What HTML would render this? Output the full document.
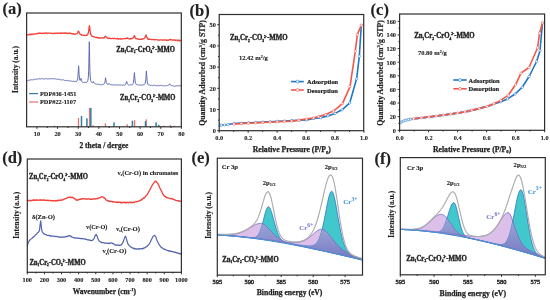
<!DOCTYPE html>
<html><head><meta charset="utf-8"><style>
html,body{margin:0;padding:0;background:#fff;}
body{width:550px;height:300px;overflow:hidden;}
svg{display:block;will-change:transform;filter:blur(0.6px);}
</style></head><body>
<svg width="550" height="300" viewBox="0 0 550 300" xmlns="http://www.w3.org/2000/svg">
<rect width="550" height="300" fill="#fff"/>
<text x="2.50" y="13.60" font-family='"Liberation Serif", serif' font-size="16.5" font-weight="bold" fill="#222" stroke="#222" stroke-width="0.12" text-anchor="start" style=""><tspan dy="-0.00" font-size="16.5">(a)</tspan></text>
<polyline points="27.10,34.80 27.60,34.94 28.10,34.75 28.60,34.85 29.10,34.79 29.60,34.33 30.10,34.23 30.60,34.73 31.10,34.26 31.60,34.17 32.10,34.64 32.60,34.20 33.10,34.39 33.60,34.07 34.10,34.11 34.60,33.70 35.10,33.97 35.60,34.06 36.10,33.75 36.60,33.83 37.10,33.72 37.60,33.22 38.10,33.64 38.60,33.45 39.10,33.18 39.60,32.92 40.10,33.45 40.60,33.18 41.10,33.35 41.60,33.46 42.10,33.34 42.60,33.49 43.10,33.12 43.60,33.40 44.10,33.15 44.60,33.50 45.10,33.46 45.60,32.91 46.10,32.94 46.60,32.99 47.10,33.52 47.60,33.15 48.10,33.28 48.60,33.05 49.10,33.20 49.60,33.11 50.10,33.09 50.60,33.25 51.10,33.25 51.60,33.47 52.10,33.32 52.60,33.49 53.10,33.44 53.60,33.53 54.10,33.31 54.60,32.95 55.10,33.44 55.60,33.51 56.10,33.47 56.60,33.23 57.10,33.34 57.60,32.98 58.10,33.42 58.60,33.24 59.10,33.03 59.60,32.88 60.10,33.43 60.60,33.52 61.10,32.89 61.60,33.39 62.10,33.12 62.60,32.93 63.10,33.03 63.60,33.36 64.10,33.43 64.60,32.85 65.10,33.25 65.60,32.85 66.10,33.32 66.60,33.05 67.10,33.43 67.60,33.50 68.10,33.18 68.60,33.60 69.10,33.19 69.60,33.10 70.10,33.54 70.60,33.21 71.10,33.40 71.60,33.61 72.10,33.82 72.60,33.57 73.10,33.55 73.60,34.18 74.10,33.84 74.60,34.33 75.10,34.31 75.60,33.93 76.10,33.93 76.60,33.82 77.10,33.57 77.60,32.82 78.10,31.60 78.50,31.07 78.60,31.36 79.10,32.25 79.60,33.37 80.10,34.26 80.60,34.32 81.10,34.61 81.60,35.26 82.10,35.08 82.60,35.21 83.10,34.93 83.60,35.29 84.10,35.46 84.60,35.12 85.10,35.57 85.60,35.58 86.10,35.15 86.60,35.44 87.10,35.10 87.60,34.79 88.10,33.57 88.60,31.61 89.10,27.58 89.40,25.67 89.60,26.43 90.10,31.13 90.60,34.08 91.10,34.89 91.60,35.73 92.10,36.25 92.60,36.34 93.10,36.58 93.60,36.72 94.10,36.90 94.60,37.18 95.10,37.09 95.60,37.25 96.10,37.62 96.60,37.19 97.10,37.66 97.60,37.87 98.10,37.65 98.60,37.67 99.10,38.16 99.60,37.84 100.10,37.87 100.60,38.05 101.10,38.24 101.60,37.82 102.10,37.97 102.60,37.95 103.10,38.24 103.60,37.86 104.10,37.93 104.60,36.97 105.10,36.27 105.40,36.23 105.60,36.53 106.10,37.07 106.60,37.49 107.10,37.71 107.60,38.16 108.10,38.02 108.60,38.51 109.10,38.58 109.60,38.16 110.10,38.25 110.60,38.65 111.10,38.56 111.60,38.69 112.10,38.39 112.60,38.26 113.10,38.39 113.60,38.76 114.10,38.41 114.60,38.48 115.10,38.55 115.60,38.56 116.10,38.57 116.60,38.94 117.10,38.42 117.60,38.33 118.10,39.00 118.60,38.97 119.10,39.06 119.60,38.69 120.10,39.06 120.60,39.05 121.10,38.57 121.60,38.95 122.10,39.02 122.60,38.91 123.10,38.81 123.60,38.65 124.10,38.68 124.60,38.58 125.10,38.44 125.60,38.75 126.10,38.43 126.60,38.59 127.10,37.75 127.50,38.22 127.60,38.08 128.10,38.50 128.60,38.77 129.10,38.94 129.60,38.80 130.10,38.45 130.60,38.97 131.10,38.55 131.60,38.58 132.10,38.71 132.60,38.38 133.10,37.84 133.60,37.33 134.10,36.00 134.30,35.65 134.60,35.94 135.10,37.54 135.60,38.08 136.10,38.73 136.60,38.67 137.10,38.71 137.60,39.04 138.10,39.30 138.60,38.89 139.10,39.36 139.60,39.48 140.10,39.41 140.60,39.43 141.10,38.86 141.60,39.28 142.10,39.42 142.60,38.81 143.10,38.88 143.60,38.73 144.10,38.65 144.60,38.07 145.10,37.14 145.60,35.93 145.90,34.98 146.10,35.22 146.60,36.68 147.10,37.80 147.60,38.36 148.10,39.33 148.60,39.45 149.10,39.04 149.60,39.42 150.10,39.35 150.60,39.40 151.10,39.47 151.60,39.71 152.10,39.70 152.60,39.57 153.10,39.47 153.60,39.59 154.10,39.47 154.60,39.80 155.10,39.93 155.60,39.71 156.10,39.52 156.60,39.60 157.10,39.76 157.60,39.94 158.10,40.08 158.60,39.81 159.10,40.12 159.60,40.01 160.10,39.89 160.60,39.87 161.10,39.97 161.60,40.13 162.10,39.94 162.60,40.15 163.10,40.00 163.60,39.86 164.10,40.07 164.60,40.19 165.10,39.77 165.60,40.02 166.10,40.02 166.60,40.34 167.10,40.38 167.60,39.97 168.10,40.32 168.60,40.20 169.10,39.76 169.60,39.80 170.10,39.41 170.60,39.75 171.00,39.61 171.10,39.77 171.60,39.83 172.10,39.92 172.60,40.13 173.10,40.13 173.60,39.89 174.10,40.30 174.60,39.94 175.10,40.07 175.60,40.55 176.10,40.07 176.60,40.12 177.10,40.15 177.60,40.72 178.10,40.25 178.60,40.16 179.10,40.75 179.60,40.26 180.10,40.79 180.60,40.68" fill="none" stroke="#f2413a" stroke-width="1.3" stroke-linejoin="round" stroke-linecap="round" />
<polyline points="27.10,80.68 27.50,80.70 27.90,80.42 28.30,80.49 28.70,79.98 29.10,80.36 29.50,80.16 29.90,80.22 30.30,79.80 30.70,80.13 31.10,80.19 31.50,79.61 31.90,79.71 32.30,79.80 32.70,79.90 33.10,79.50 33.50,79.40 33.90,79.39 34.30,79.55 34.70,79.58 35.10,79.31 35.50,79.24 35.90,79.20 36.30,79.12 36.70,79.10 37.10,78.85 37.50,79.04 37.90,79.27 38.30,78.88 38.70,79.02 39.10,78.61 39.50,78.88 39.90,78.86 40.30,78.90 40.70,78.80 41.10,78.78 41.50,78.88 41.90,79.03 42.30,78.58 42.70,78.55 43.10,78.94 43.50,79.04 43.90,78.80 44.30,78.76 44.70,78.92 45.10,78.60 45.50,78.65 45.90,78.61 46.30,78.84 46.70,78.68 47.10,78.63 47.50,78.90 47.90,79.06 48.30,78.67 48.70,78.91 49.10,78.74 49.50,79.00 49.90,78.84 50.30,78.65 50.70,78.62 51.10,78.50 51.50,78.78 51.90,78.72 52.30,78.59 52.70,78.70 53.10,78.68 53.50,78.95 53.90,78.57 54.30,79.08 54.70,78.77 55.10,78.86 55.50,78.84 55.90,79.12 56.30,79.17 56.70,79.08 57.10,79.09 57.50,79.29 57.90,79.44 58.30,79.22 58.70,79.48 59.10,79.68 59.50,79.44 59.90,79.36 60.30,79.42 60.70,79.77 61.10,79.81 61.50,80.04 61.90,80.04 62.30,79.73 62.70,79.76 63.10,79.86 63.50,79.87 63.90,80.24 64.30,80.40 64.70,80.48 65.10,80.15 65.50,80.58 65.90,80.31 66.30,80.43 66.70,80.67 67.10,80.35 67.50,80.41 67.90,80.91 68.30,80.64 68.70,80.74 69.10,80.93 69.50,81.04 69.90,80.70 70.30,80.95 70.70,81.07 71.10,81.15 71.50,81.04 71.90,81.31 72.30,81.58 72.70,81.29 73.10,81.43 73.50,81.21 73.90,81.34 74.30,81.60 74.70,81.29 75.10,81.76 75.50,81.75 75.90,81.22 76.30,81.61 76.70,81.05 77.10,80.86 77.50,79.89 77.90,77.19 78.30,70.84 78.60,65.75 78.70,66.61 79.10,74.60 79.50,78.89 79.90,80.34 80.30,80.31 80.70,79.23 81.00,78.24 81.10,78.66 81.50,80.35 81.90,81.61 82.30,82.06 82.70,82.23 83.10,82.15 83.50,82.53 83.90,82.59 84.30,82.36 84.70,82.81 85.10,82.68 85.50,82.34 85.90,82.77 86.30,82.19 86.70,82.13 87.10,82.04 87.50,81.39 87.90,80.23 88.30,77.74 88.70,70.63 89.10,50.15 89.30,41.79 89.50,50.05 89.90,70.90 90.30,78.00 90.70,80.49 91.10,81.80 91.50,82.18 91.90,82.43 92.30,82.56 92.70,82.59 93.10,81.45 93.30,81.59 93.50,81.70 93.90,82.92 94.30,83.23 94.70,83.52 95.10,83.75 95.50,83.96 95.90,84.20 96.30,84.04 96.70,84.41 97.10,84.03 97.50,84.19 97.90,84.15 98.30,84.21 98.70,84.66 99.10,84.68 99.50,84.40 99.90,84.45 100.30,84.60 100.70,84.80 101.10,84.84 101.50,84.79 101.90,84.68 102.30,84.39 102.70,84.50 103.10,84.32 103.50,84.42 103.90,84.27 104.30,83.71 104.70,82.99 105.10,81.46 105.50,77.78 105.60,77.98 105.90,79.88 106.30,82.69 106.70,83.49 107.10,84.06 107.50,84.26 107.90,84.30 108.30,84.31 108.70,83.63 109.00,83.13 109.10,83.52 109.50,83.90 109.90,84.42 110.30,84.71 110.70,84.39 111.10,84.92 111.50,84.90 111.90,84.83 112.30,84.88 112.70,84.86 113.10,84.72 113.50,84.93 113.90,84.65 114.30,84.94 114.70,85.03 115.10,84.92 115.50,85.00 115.90,85.25 116.30,85.22 116.70,84.77 117.10,85.17 117.50,85.07 117.90,84.74 118.30,84.93 118.70,84.86 119.10,84.77 119.50,85.05 119.90,85.29 120.30,84.93 120.70,85.26 121.10,85.16 121.50,84.82 121.90,85.25 122.30,85.10 122.70,85.29 123.10,85.15 123.50,85.15 123.90,84.89 124.30,85.13 124.70,85.14 125.10,84.98 125.50,84.48 125.90,84.09 126.30,82.54 126.60,81.39 126.70,81.48 127.10,83.12 127.50,84.11 127.90,84.46 128.30,84.83 128.70,85.04 129.10,84.99 129.50,84.94 129.90,85.08 130.30,84.86 130.70,84.93 131.10,85.07 131.50,84.78 131.90,84.54 132.30,84.79 132.70,84.37 133.10,83.55 133.50,82.22 133.90,79.02 134.30,73.30 134.40,72.60 134.70,75.78 135.10,80.87 135.50,83.31 135.90,83.82 136.30,84.45 136.70,84.54 137.10,84.70 137.50,84.78 137.90,84.99 138.30,84.90 138.70,84.85 139.10,84.93 139.50,84.98 139.90,85.19 140.30,84.94 140.70,84.92 141.10,85.17 141.50,85.14 141.90,85.30 142.30,84.89 142.70,85.06 143.10,85.00 143.50,84.70 143.90,85.14 144.30,84.48 144.70,84.04 145.10,83.57 145.50,81.87 145.90,78.37 146.30,71.61 146.40,70.93 146.70,74.68 147.10,80.78 147.50,82.89 147.90,84.23 148.30,84.54 148.70,85.11 149.10,84.91 149.50,85.00 149.90,85.09 150.30,85.48 150.70,85.42 151.10,85.28 151.50,85.16 151.90,85.54 152.30,85.74 152.70,85.53 153.10,85.19 153.50,85.22 153.90,85.27 154.30,85.33 154.70,85.26 155.10,85.29 155.50,85.66 155.90,85.81 156.30,85.40 156.70,85.87 157.10,85.58 157.50,85.79 157.90,85.86 158.30,85.89 158.70,85.35 159.10,85.52 159.50,85.71 159.90,85.92 160.30,85.41 160.70,85.54 161.10,85.88 161.50,85.44 161.90,85.61 162.30,85.58 162.70,85.80 163.10,85.95 163.50,85.50 163.90,85.84 164.30,85.84 164.70,85.90 165.10,85.73 165.50,85.95 165.90,85.61 166.30,85.63 166.70,85.50 167.10,85.80 167.50,85.57 167.90,85.36 168.30,85.15 168.70,85.18 169.10,84.55 169.50,83.98 169.60,83.75 169.90,84.13 170.30,84.62 170.70,85.39 171.10,85.20 171.50,85.59 171.90,85.84 172.30,85.84 172.70,85.53 173.10,85.64 173.50,86.02 173.90,85.92 174.30,86.08 174.70,86.08 175.10,85.84 175.50,86.12 175.90,86.03 176.30,85.80 176.70,85.83 177.10,85.66 177.50,85.86 177.90,86.21 178.30,85.70 178.70,85.99 179.10,85.72 179.50,85.71 179.90,86.06 180.30,85.82 180.70,85.71" fill="none" stroke="#5d6bb5" stroke-width="1.0" stroke-linejoin="round" stroke-linecap="round" />
<rect x="53.75" y="125.60" width="1.3" height="1.20" fill="#e8706e"/>
<rect x="77.85" y="118.00" width="1.3" height="8.80" fill="#e8706e"/>
<rect x="88.95" y="107.90" width="1.3" height="18.90" fill="#e8706e"/>
<rect x="92.45" y="125.30" width="1.3" height="1.50" fill="#e8706e"/>
<rect x="104.75" y="123.40" width="1.3" height="3.40" fill="#e8706e"/>
<rect x="126.55" y="124.20" width="1.3" height="2.60" fill="#e8706e"/>
<rect x="133.95" y="120.20" width="1.3" height="6.60" fill="#e8706e"/>
<rect x="145.65" y="119.30" width="1.3" height="7.50" fill="#e8706e"/>
<rect x="163.05" y="125.60" width="1.3" height="1.20" fill="#e8706e"/>
<rect x="169.65" y="125.10" width="1.3" height="1.70" fill="#e8706e"/>
<rect x="80.75" y="116.10" width="1.5" height="10.70" fill="#2f7fa0"/>
<rect x="86.15" y="118.30" width="1.5" height="8.50" fill="#2f7fa0"/>
<rect x="90.05" y="107.90" width="1.5" height="18.90" fill="#2f7fa0"/>
<rect x="113.25" y="122.40" width="1.5" height="4.40" fill="#2f7fa0"/>
<rect x="131.65" y="120.70" width="1.5" height="6.10" fill="#2f7fa0"/>
<rect x="144.75" y="121.30" width="1.5" height="5.50" fill="#2f7fa0"/>
<rect x="155.35" y="122.40" width="1.5" height="4.40" fill="#2f7fa0"/>
<rect x="158.05" y="124.90" width="1.5" height="1.90" fill="#2f7fa0"/>
<rect x="173.25" y="125.80" width="1.5" height="1.00" fill="#2f7fa0"/>
<rect x="26.6" y="13" width="154.70000000000002" height="113.8" fill="none" stroke="#2e2e2e" stroke-width="1.2"/>
<line x1="36.92" y1="126.80" x2="36.92" y2="128.80" stroke="#2e2e2e" stroke-width="1.0"/>
<text textLength="6.3" lengthAdjust="spacingAndGlyphs" x="36.92" y="135.80" font-family='"Liberation Serif", serif' font-size="7.0" font-weight="bold" fill="#222" stroke="#222" stroke-width="0.12" text-anchor="middle" style=""><tspan dy="-0.00" font-size="7.0">10</tspan></text>
<line x1="57.56" y1="126.80" x2="57.56" y2="128.80" stroke="#2e2e2e" stroke-width="1.0"/>
<text textLength="6.3" lengthAdjust="spacingAndGlyphs" x="57.56" y="135.80" font-family='"Liberation Serif", serif' font-size="7.0" font-weight="bold" fill="#222" stroke="#222" stroke-width="0.12" text-anchor="middle" style=""><tspan dy="-0.00" font-size="7.0">20</tspan></text>
<line x1="78.20" y1="126.80" x2="78.20" y2="128.80" stroke="#2e2e2e" stroke-width="1.0"/>
<text textLength="6.3" lengthAdjust="spacingAndGlyphs" x="78.20" y="135.80" font-family='"Liberation Serif", serif' font-size="7.0" font-weight="bold" fill="#222" stroke="#222" stroke-width="0.12" text-anchor="middle" style=""><tspan dy="-0.00" font-size="7.0">30</tspan></text>
<line x1="98.84" y1="126.80" x2="98.84" y2="128.80" stroke="#2e2e2e" stroke-width="1.0"/>
<text textLength="6.3" lengthAdjust="spacingAndGlyphs" x="98.84" y="135.80" font-family='"Liberation Serif", serif' font-size="7.0" font-weight="bold" fill="#222" stroke="#222" stroke-width="0.12" text-anchor="middle" style=""><tspan dy="-0.00" font-size="7.0">40</tspan></text>
<line x1="119.48" y1="126.80" x2="119.48" y2="128.80" stroke="#2e2e2e" stroke-width="1.0"/>
<text textLength="6.3" lengthAdjust="spacingAndGlyphs" x="119.48" y="135.80" font-family='"Liberation Serif", serif' font-size="7.0" font-weight="bold" fill="#222" stroke="#222" stroke-width="0.12" text-anchor="middle" style=""><tspan dy="-0.00" font-size="7.0">50</tspan></text>
<line x1="140.12" y1="126.80" x2="140.12" y2="128.80" stroke="#2e2e2e" stroke-width="1.0"/>
<text textLength="6.3" lengthAdjust="spacingAndGlyphs" x="140.12" y="135.80" font-family='"Liberation Serif", serif' font-size="7.0" font-weight="bold" fill="#222" stroke="#222" stroke-width="0.12" text-anchor="middle" style=""><tspan dy="-0.00" font-size="7.0">60</tspan></text>
<line x1="160.76" y1="126.80" x2="160.76" y2="128.80" stroke="#2e2e2e" stroke-width="1.0"/>
<text textLength="6.3" lengthAdjust="spacingAndGlyphs" x="160.76" y="135.80" font-family='"Liberation Serif", serif' font-size="7.0" font-weight="bold" fill="#222" stroke="#222" stroke-width="0.12" text-anchor="middle" style=""><tspan dy="-0.00" font-size="7.0">70</tspan></text>
<line x1="181.40" y1="126.80" x2="181.40" y2="128.80" stroke="#2e2e2e" stroke-width="1.0"/>
<text textLength="6.3" lengthAdjust="spacingAndGlyphs" x="181.40" y="135.80" font-family='"Liberation Serif", serif' font-size="7.0" font-weight="bold" fill="#222" stroke="#222" stroke-width="0.12" text-anchor="middle" style=""><tspan dy="-0.00" font-size="7.0">80</tspan></text>
<line x1="47.24" y1="126.80" x2="47.24" y2="128.00" stroke="#2e2e2e" stroke-width="1.0"/>
<line x1="67.88" y1="126.80" x2="67.88" y2="128.00" stroke="#2e2e2e" stroke-width="1.0"/>
<line x1="88.52" y1="126.80" x2="88.52" y2="128.00" stroke="#2e2e2e" stroke-width="1.0"/>
<line x1="109.16" y1="126.80" x2="109.16" y2="128.00" stroke="#2e2e2e" stroke-width="1.0"/>
<line x1="129.80" y1="126.80" x2="129.80" y2="128.00" stroke="#2e2e2e" stroke-width="1.0"/>
<line x1="150.44" y1="126.80" x2="150.44" y2="128.00" stroke="#2e2e2e" stroke-width="1.0"/>
<line x1="171.08" y1="126.80" x2="171.08" y2="128.00" stroke="#2e2e2e" stroke-width="1.0"/>
<text textLength="48.8" lengthAdjust="spacingAndGlyphs" x="79.50" y="147.70" font-family='"Liberation Serif", serif' font-size="7.5" font-weight="bold" fill="#222" stroke="#222" stroke-width="0.25" text-anchor="start" style=""><tspan dy="-0.00" font-size="7.5">2 theta / dergee</tspan></text>
<text x="18.30" y="69.50" font-family='"Liberation Serif", serif' font-size="7.5" font-weight="bold" fill="#222" stroke="#222" stroke-width="0.12" text-anchor="middle" transform="rotate(-90 18.3 69.5)" style=""><tspan dy="-0.00" font-size="7.5">Intensity (a.u.)</tspan></text>
<line x1="29" y1="93.6" x2="38" y2="93.6" stroke="#2f7fa0" stroke-width="1.2"/>
<line x1="29" y1="102" x2="38" y2="102" stroke="#e8706e" stroke-width="1.2"/>
<text x="40.00" y="95.90" font-family='"Liberation Serif", serif' font-size="6.3" font-weight="bold" fill="#222" stroke="#222" stroke-width="0.12" text-anchor="start" style=""><tspan dy="-0.00" font-size="6.3">PDF#36-1451</tspan></text>
<text x="40.00" y="104.30" font-family='"Liberation Serif", serif' font-size="6.3" font-weight="bold" fill="#222" stroke="#222" stroke-width="0.12" text-anchor="start" style=""><tspan dy="-0.00" font-size="6.3">PDF#22-1107</tspan></text>
<text textLength="58.6" lengthAdjust="spacingAndGlyphs" x="116.30" y="51.50" font-family='"Liberation Serif", serif' font-size="7.2" font-weight="bold" fill="#222" stroke="#222" stroke-width="0.35" text-anchor="start" style=""><tspan dy="-0.00" font-size="7.2">Zn</tspan><tspan dy="1.58" font-size="3.60">1</tspan><tspan dy="-1.58" font-size="7.2">Cr</tspan><tspan dy="1.58" font-size="3.60">2</tspan><tspan dy="-1.58" font-size="7.2">-CrO</tspan><tspan dy="1.58" font-size="3.60">4</tspan><tspan dy="-4.32" font-size="3.60">2-</tspan><tspan dy="2.74" font-size="7.2">-MMO</tspan></text>
<text textLength="55.4" lengthAdjust="spacingAndGlyphs" x="120.10" y="100.20" font-family='"Liberation Serif", serif' font-size="7.2" font-weight="bold" fill="#222" stroke="#222" stroke-width="0.35" text-anchor="start" style=""><tspan dy="-0.00" font-size="7.2">Zn</tspan><tspan dy="1.58" font-size="3.60">1</tspan><tspan dy="-1.58" font-size="7.2">Cr</tspan><tspan dy="1.58" font-size="3.60">2</tspan><tspan dy="-1.58" font-size="7.2">-CO</tspan><tspan dy="1.58" font-size="3.60">3</tspan><tspan dy="-4.32" font-size="3.60">2-</tspan><tspan dy="2.74" font-size="7.2">-MMO</tspan></text>
<text x="189.60" y="16.00" font-family='"Liberation Serif", serif' font-size="16.5" font-weight="bold" fill="#222" stroke="#222" stroke-width="0.12" text-anchor="start" style=""><tspan dy="-0.00" font-size="16.5">(b)</tspan></text>
<polyline points="219.90,125.40 221.20,125.20 224.50,124.90 227.90,124.50 234.00,123.53 241.25,123.17 248.50,122.80 255.75,122.44 263.00,122.08 270.25,121.72 277.50,121.35 284.75,120.99 292.00,120.63 299.25,120.27 306.50,119.90 313.90,118.40 320.70,117.70 327.90,115.90 335.00,113.40 342.10,109.80 349.80,102.80 356.60,78.80 359.30,56.30 361.30,25.30" fill="none" stroke="#1f77c8" stroke-width="1.6" stroke-linejoin="round" stroke-linecap="round" />
<circle cx="219.90" cy="125.40" r="1.2" fill="#fff" stroke="#1f77c8" stroke-width="0.5"/>
<circle cx="221.20" cy="125.20" r="1.2" fill="#fff" stroke="#1f77c8" stroke-width="0.5"/>
<circle cx="224.50" cy="124.90" r="1.2" fill="#fff" stroke="#1f77c8" stroke-width="0.5"/>
<circle cx="227.90" cy="124.50" r="1.2" fill="#fff" stroke="#1f77c8" stroke-width="0.5"/>
<circle cx="234.00" cy="123.53" r="1.2" fill="#fff" stroke="#1f77c8" stroke-width="0.5"/>
<circle cx="241.25" cy="123.17" r="1.2" fill="#fff" stroke="#1f77c8" stroke-width="0.5"/>
<circle cx="248.50" cy="122.80" r="1.2" fill="#fff" stroke="#1f77c8" stroke-width="0.5"/>
<circle cx="255.75" cy="122.44" r="1.2" fill="#fff" stroke="#1f77c8" stroke-width="0.5"/>
<circle cx="263.00" cy="122.08" r="1.2" fill="#fff" stroke="#1f77c8" stroke-width="0.5"/>
<circle cx="270.25" cy="121.72" r="1.2" fill="#fff" stroke="#1f77c8" stroke-width="0.5"/>
<circle cx="277.50" cy="121.35" r="1.2" fill="#fff" stroke="#1f77c8" stroke-width="0.5"/>
<circle cx="284.75" cy="120.99" r="1.2" fill="#fff" stroke="#1f77c8" stroke-width="0.5"/>
<circle cx="292.00" cy="120.63" r="1.2" fill="#fff" stroke="#1f77c8" stroke-width="0.5"/>
<circle cx="299.25" cy="120.27" r="1.2" fill="#fff" stroke="#1f77c8" stroke-width="0.5"/>
<circle cx="306.50" cy="119.90" r="1.2" fill="#fff" stroke="#1f77c8" stroke-width="0.5"/>
<circle cx="313.90" cy="118.40" r="1.2" fill="#fff" stroke="#1f77c8" stroke-width="0.5"/>
<circle cx="320.70" cy="117.70" r="1.2" fill="#fff" stroke="#1f77c8" stroke-width="0.5"/>
<circle cx="327.90" cy="115.90" r="1.2" fill="#fff" stroke="#1f77c8" stroke-width="0.5"/>
<circle cx="335.00" cy="113.40" r="1.2" fill="#fff" stroke="#1f77c8" stroke-width="0.5"/>
<circle cx="342.10" cy="109.80" r="1.2" fill="#fff" stroke="#1f77c8" stroke-width="0.5"/>
<circle cx="349.80" cy="102.80" r="1.2" fill="#fff" stroke="#1f77c8" stroke-width="0.5"/>
<circle cx="356.60" cy="78.80" r="1.2" fill="#fff" stroke="#1f77c8" stroke-width="0.5"/>
<circle cx="359.30" cy="56.30" r="1.2" fill="#fff" stroke="#1f77c8" stroke-width="0.5"/>
<circle cx="361.30" cy="25.30" r="1.2" fill="#fff" stroke="#1f77c8" stroke-width="0.5"/>
<polyline points="361.30,25.30 357.30,34.60 355.30,51.30 350.00,86.60 342.50,103.60 333.40,111.10 325.70,114.60 318.60,116.60 313.50,118.00 306.40,118.90 298.90,120.30 291.60,121.10 284.40,121.46 277.20,121.82 270.00,122.18 262.80,122.54 255.60,122.90 248.40,123.26 241.20,123.62 234.00,123.98" fill="none" stroke="#f3574a" stroke-width="1.6" stroke-linejoin="round" stroke-linecap="round" />
<circle cx="361.30" cy="25.30" r="1.2" fill="#fff" stroke="#f3574a" stroke-width="0.5"/>
<circle cx="357.30" cy="34.60" r="1.2" fill="#fff" stroke="#f3574a" stroke-width="0.5"/>
<circle cx="355.30" cy="51.30" r="1.2" fill="#fff" stroke="#f3574a" stroke-width="0.5"/>
<circle cx="350.00" cy="86.60" r="1.2" fill="#fff" stroke="#f3574a" stroke-width="0.5"/>
<circle cx="342.50" cy="103.60" r="1.2" fill="#fff" stroke="#f3574a" stroke-width="0.5"/>
<circle cx="333.40" cy="111.10" r="1.2" fill="#fff" stroke="#f3574a" stroke-width="0.5"/>
<circle cx="325.70" cy="114.60" r="1.2" fill="#fff" stroke="#f3574a" stroke-width="0.5"/>
<circle cx="318.60" cy="116.60" r="1.2" fill="#fff" stroke="#f3574a" stroke-width="0.5"/>
<circle cx="313.50" cy="118.00" r="1.2" fill="#fff" stroke="#f3574a" stroke-width="0.5"/>
<circle cx="306.40" cy="118.90" r="1.2" fill="#fff" stroke="#f3574a" stroke-width="0.5"/>
<circle cx="298.90" cy="120.30" r="1.2" fill="#fff" stroke="#f3574a" stroke-width="0.5"/>
<circle cx="291.60" cy="121.10" r="1.2" fill="#fff" stroke="#f3574a" stroke-width="0.5"/>
<circle cx="284.40" cy="121.46" r="1.2" fill="#fff" stroke="#f3574a" stroke-width="0.5"/>
<circle cx="277.20" cy="121.82" r="1.2" fill="#fff" stroke="#f3574a" stroke-width="0.5"/>
<circle cx="270.00" cy="122.18" r="1.2" fill="#fff" stroke="#f3574a" stroke-width="0.5"/>
<circle cx="262.80" cy="122.54" r="1.2" fill="#fff" stroke="#f3574a" stroke-width="0.5"/>
<circle cx="255.60" cy="122.90" r="1.2" fill="#fff" stroke="#f3574a" stroke-width="0.5"/>
<circle cx="248.40" cy="123.26" r="1.2" fill="#fff" stroke="#f3574a" stroke-width="0.5"/>
<circle cx="241.20" cy="123.62" r="1.2" fill="#fff" stroke="#f3574a" stroke-width="0.5"/>
<circle cx="234.00" cy="123.98" r="1.2" fill="#fff" stroke="#f3574a" stroke-width="0.5"/>
<rect x="219.2" y="14.5" width="144.5" height="116.19999999999999" fill="none" stroke="#2e2e2e" stroke-width="1.2"/>
<line x1="219.20" y1="130.70" x2="217.20" y2="130.70" stroke="#2e2e2e" stroke-width="1.0"/>
<text textLength="3.15" lengthAdjust="spacingAndGlyphs" x="215.80" y="133.00" font-family='"Liberation Serif", serif' font-size="7.0" font-weight="bold" fill="#222" stroke="#222" stroke-width="0.12" text-anchor="end" style=""><tspan dy="-0.00" font-size="7.0">0</tspan></text>
<line x1="219.20" y1="109.50" x2="217.20" y2="109.50" stroke="#2e2e2e" stroke-width="1.0"/>
<text textLength="6.3" lengthAdjust="spacingAndGlyphs" x="215.80" y="111.80" font-family='"Liberation Serif", serif' font-size="7.0" font-weight="bold" fill="#222" stroke="#222" stroke-width="0.12" text-anchor="end" style=""><tspan dy="-0.00" font-size="7.0">10</tspan></text>
<line x1="219.20" y1="88.30" x2="217.20" y2="88.30" stroke="#2e2e2e" stroke-width="1.0"/>
<text textLength="6.3" lengthAdjust="spacingAndGlyphs" x="215.80" y="90.60" font-family='"Liberation Serif", serif' font-size="7.0" font-weight="bold" fill="#222" stroke="#222" stroke-width="0.12" text-anchor="end" style=""><tspan dy="-0.00" font-size="7.0">20</tspan></text>
<line x1="219.20" y1="67.10" x2="217.20" y2="67.10" stroke="#2e2e2e" stroke-width="1.0"/>
<text textLength="6.3" lengthAdjust="spacingAndGlyphs" x="215.80" y="69.40" font-family='"Liberation Serif", serif' font-size="7.0" font-weight="bold" fill="#222" stroke="#222" stroke-width="0.12" text-anchor="end" style=""><tspan dy="-0.00" font-size="7.0">30</tspan></text>
<line x1="219.20" y1="45.90" x2="217.20" y2="45.90" stroke="#2e2e2e" stroke-width="1.0"/>
<text textLength="6.3" lengthAdjust="spacingAndGlyphs" x="215.80" y="48.20" font-family='"Liberation Serif", serif' font-size="7.0" font-weight="bold" fill="#222" stroke="#222" stroke-width="0.12" text-anchor="end" style=""><tspan dy="-0.00" font-size="7.0">40</tspan></text>
<line x1="219.20" y1="24.70" x2="217.20" y2="24.70" stroke="#2e2e2e" stroke-width="1.0"/>
<text textLength="6.3" lengthAdjust="spacingAndGlyphs" x="215.80" y="27.00" font-family='"Liberation Serif", serif' font-size="7.0" font-weight="bold" fill="#222" stroke="#222" stroke-width="0.12" text-anchor="end" style=""><tspan dy="-0.00" font-size="7.0">50</tspan></text>
<line x1="219.20" y1="120.10" x2="218.00" y2="120.10" stroke="#2e2e2e" stroke-width="1.0"/>
<line x1="219.20" y1="98.90" x2="218.00" y2="98.90" stroke="#2e2e2e" stroke-width="1.0"/>
<line x1="219.20" y1="77.70" x2="218.00" y2="77.70" stroke="#2e2e2e" stroke-width="1.0"/>
<line x1="219.20" y1="56.50" x2="218.00" y2="56.50" stroke="#2e2e2e" stroke-width="1.0"/>
<line x1="219.20" y1="35.30" x2="218.00" y2="35.30" stroke="#2e2e2e" stroke-width="1.0"/>
<line x1="219.20" y1="130.70" x2="219.20" y2="132.70" stroke="#2e2e2e" stroke-width="1.0"/>
<text textLength="7.88" lengthAdjust="spacingAndGlyphs" x="219.20" y="139.70" font-family='"Liberation Serif", serif' font-size="7.0" font-weight="bold" fill="#222" stroke="#222" stroke-width="0.12" text-anchor="middle" style=""><tspan dy="-0.00" font-size="7.0">0.0</tspan></text>
<line x1="248.16" y1="130.70" x2="248.16" y2="132.70" stroke="#2e2e2e" stroke-width="1.0"/>
<text textLength="7.88" lengthAdjust="spacingAndGlyphs" x="248.16" y="139.70" font-family='"Liberation Serif", serif' font-size="7.0" font-weight="bold" fill="#222" stroke="#222" stroke-width="0.12" text-anchor="middle" style=""><tspan dy="-0.00" font-size="7.0">0.2</tspan></text>
<line x1="277.12" y1="130.70" x2="277.12" y2="132.70" stroke="#2e2e2e" stroke-width="1.0"/>
<text textLength="7.88" lengthAdjust="spacingAndGlyphs" x="277.12" y="139.70" font-family='"Liberation Serif", serif' font-size="7.0" font-weight="bold" fill="#222" stroke="#222" stroke-width="0.12" text-anchor="middle" style=""><tspan dy="-0.00" font-size="7.0">0.4</tspan></text>
<line x1="306.08" y1="130.70" x2="306.08" y2="132.70" stroke="#2e2e2e" stroke-width="1.0"/>
<text textLength="7.88" lengthAdjust="spacingAndGlyphs" x="306.08" y="139.70" font-family='"Liberation Serif", serif' font-size="7.0" font-weight="bold" fill="#222" stroke="#222" stroke-width="0.12" text-anchor="middle" style=""><tspan dy="-0.00" font-size="7.0">0.6</tspan></text>
<line x1="335.04" y1="130.70" x2="335.04" y2="132.70" stroke="#2e2e2e" stroke-width="1.0"/>
<text textLength="7.88" lengthAdjust="spacingAndGlyphs" x="335.04" y="139.70" font-family='"Liberation Serif", serif' font-size="7.0" font-weight="bold" fill="#222" stroke="#222" stroke-width="0.12" text-anchor="middle" style=""><tspan dy="-0.00" font-size="7.0">0.8</tspan></text>
<line x1="364.00" y1="130.70" x2="364.00" y2="132.70" stroke="#2e2e2e" stroke-width="1.0"/>
<text textLength="7.88" lengthAdjust="spacingAndGlyphs" x="364.00" y="139.70" font-family='"Liberation Serif", serif' font-size="7.0" font-weight="bold" fill="#222" stroke="#222" stroke-width="0.12" text-anchor="middle" style=""><tspan dy="-0.00" font-size="7.0">1.0</tspan></text>
<line x1="233.68" y1="130.70" x2="233.68" y2="131.90" stroke="#2e2e2e" stroke-width="1.0"/>
<line x1="262.64" y1="130.70" x2="262.64" y2="131.90" stroke="#2e2e2e" stroke-width="1.0"/>
<line x1="291.60" y1="130.70" x2="291.60" y2="131.90" stroke="#2e2e2e" stroke-width="1.0"/>
<line x1="320.56" y1="130.70" x2="320.56" y2="131.90" stroke="#2e2e2e" stroke-width="1.0"/>
<line x1="349.52" y1="130.70" x2="349.52" y2="131.90" stroke="#2e2e2e" stroke-width="1.0"/>
<text textLength="78.2" lengthAdjust="spacingAndGlyphs" x="252.70" y="151.90" font-family='"Liberation Serif", serif' font-size="7.4" font-weight="bold" fill="#222" stroke="#222" stroke-width="0.25" text-anchor="start" style=""><tspan dy="-0.00" font-size="7.4">Relative Pressure (P/P</tspan><tspan dy="1.63" font-size="4.59">0</tspan><tspan dy="-1.63" font-size="7.4">)</tspan></text>
<text textLength="105.5" lengthAdjust="spacingAndGlyphs" x="205.40" y="73.00" font-family='"Liberation Serif", serif' font-size="8.0" font-weight="bold" fill="#222" stroke="#222" stroke-width="0.2" text-anchor="middle" transform="rotate(-90 205.4 73.0)" style=""><tspan dy="-0.00" font-size="8.0">Quantity Adsorbed (cm</tspan><tspan dy="-3.04" font-size="4.96">3</tspan><tspan dy="3.04" font-size="8.0">/g STP)</tspan></text>
<text textLength="57.6" lengthAdjust="spacingAndGlyphs" x="229.90" y="40.40" font-family='"Liberation Serif", serif' font-size="7.2" font-weight="bold" fill="#222" stroke="#222" stroke-width="0.35" text-anchor="start" style=""><tspan dy="-0.00" font-size="7.2">Zn</tspan><tspan dy="1.58" font-size="3.60">1</tspan><tspan dy="-1.58" font-size="7.2">Cr</tspan><tspan dy="1.58" font-size="3.60">2</tspan><tspan dy="-1.58" font-size="7.2">-CO</tspan><tspan dy="1.58" font-size="3.60">3</tspan><tspan dy="-4.32" font-size="3.60">2-</tspan><tspan dy="2.74" font-size="7.2">-MMO</tspan></text>
<text textLength="28.9" lengthAdjust="spacingAndGlyphs" x="238.90" y="60.20" font-family='"Liberation Serif", serif' font-size="6.6" font-weight="bold" fill="#222" stroke="#222" stroke-width="0.12" text-anchor="start" style=""><tspan dy="-0.00" font-size="6.6">12.42 m</tspan><tspan dy="-2.51" font-size="4.09">2</tspan><tspan dy="2.51" font-size="6.6">/g</tspan></text>
<line x1="291.1" y1="81.6" x2="303.8" y2="81.6" stroke="#1f77c8" stroke-width="1.6"/>
<circle cx="297.5" cy="81.6" r="1.5" fill="#fff" stroke="#1f77c8" stroke-width="0.6"/>
<line x1="291.1" y1="90.0" x2="303.8" y2="90.0" stroke="#f3574a" stroke-width="1.6"/>
<circle cx="297.5" cy="90.0" r="1.5" fill="#fff" stroke="#f3574a" stroke-width="0.6"/>
<text textLength="31.1" lengthAdjust="spacingAndGlyphs" x="307.10" y="84.20" font-family='"Liberation Serif", serif' font-size="6.6" font-weight="bold" fill="#222" stroke="#222" stroke-width="0.2" text-anchor="start" style=""><tspan dy="-0.00" font-size="6.6">Adsorption</tspan></text>
<text textLength="30.7" lengthAdjust="spacingAndGlyphs" x="307.10" y="92.60" font-family='"Liberation Serif", serif' font-size="6.6" font-weight="bold" fill="#222" stroke="#222" stroke-width="0.2" text-anchor="start" style=""><tspan dy="-0.00" font-size="6.6">Desorption</tspan></text>
<text x="370.60" y="15.10" font-family='"Liberation Serif", serif' font-size="16.5" font-weight="bold" fill="#222" stroke="#222" stroke-width="0.12" text-anchor="start" style=""><tspan dy="-0.00" font-size="16.5">(c)</tspan></text>
<polyline points="400.40,122.60 402.00,121.70 403.60,121.00 405.30,120.40 407.00,119.90 408.80,119.50 410.80,119.10 417.40,118.40 425.10,117.50 432.50,116.60 439.80,115.60 447.10,114.60 454.10,113.60 461.20,112.50 468.40,111.10 475.50,109.50 483.00,107.60 490.40,105.20 500.80,101.80 507.60,98.90 515.00,94.00 522.30,87.20 529.10,76.50 536.60,61.50 540.00,50.80 542.50,22.80" fill="none" stroke="#1f77c8" stroke-width="1.6" stroke-linejoin="round" stroke-linecap="round" />
<circle cx="400.40" cy="122.60" r="1.2" fill="#fff" stroke="#1f77c8" stroke-width="0.5"/>
<circle cx="402.00" cy="121.70" r="1.2" fill="#fff" stroke="#1f77c8" stroke-width="0.5"/>
<circle cx="403.60" cy="121.00" r="1.2" fill="#fff" stroke="#1f77c8" stroke-width="0.5"/>
<circle cx="405.30" cy="120.40" r="1.2" fill="#fff" stroke="#1f77c8" stroke-width="0.5"/>
<circle cx="407.00" cy="119.90" r="1.2" fill="#fff" stroke="#1f77c8" stroke-width="0.5"/>
<circle cx="408.80" cy="119.50" r="1.2" fill="#fff" stroke="#1f77c8" stroke-width="0.5"/>
<circle cx="410.80" cy="119.10" r="1.2" fill="#fff" stroke="#1f77c8" stroke-width="0.5"/>
<circle cx="417.40" cy="118.40" r="1.2" fill="#fff" stroke="#1f77c8" stroke-width="0.5"/>
<circle cx="425.10" cy="117.50" r="1.2" fill="#fff" stroke="#1f77c8" stroke-width="0.5"/>
<circle cx="432.50" cy="116.60" r="1.2" fill="#fff" stroke="#1f77c8" stroke-width="0.5"/>
<circle cx="439.80" cy="115.60" r="1.2" fill="#fff" stroke="#1f77c8" stroke-width="0.5"/>
<circle cx="447.10" cy="114.60" r="1.2" fill="#fff" stroke="#1f77c8" stroke-width="0.5"/>
<circle cx="454.10" cy="113.60" r="1.2" fill="#fff" stroke="#1f77c8" stroke-width="0.5"/>
<circle cx="461.20" cy="112.50" r="1.2" fill="#fff" stroke="#1f77c8" stroke-width="0.5"/>
<circle cx="468.40" cy="111.10" r="1.2" fill="#fff" stroke="#1f77c8" stroke-width="0.5"/>
<circle cx="475.50" cy="109.50" r="1.2" fill="#fff" stroke="#1f77c8" stroke-width="0.5"/>
<circle cx="483.00" cy="107.60" r="1.2" fill="#fff" stroke="#1f77c8" stroke-width="0.5"/>
<circle cx="490.40" cy="105.20" r="1.2" fill="#fff" stroke="#1f77c8" stroke-width="0.5"/>
<circle cx="500.80" cy="101.80" r="1.2" fill="#fff" stroke="#1f77c8" stroke-width="0.5"/>
<circle cx="507.60" cy="98.90" r="1.2" fill="#fff" stroke="#1f77c8" stroke-width="0.5"/>
<circle cx="515.00" cy="94.00" r="1.2" fill="#fff" stroke="#1f77c8" stroke-width="0.5"/>
<circle cx="522.30" cy="87.20" r="1.2" fill="#fff" stroke="#1f77c8" stroke-width="0.5"/>
<circle cx="529.10" cy="76.50" r="1.2" fill="#fff" stroke="#1f77c8" stroke-width="0.5"/>
<circle cx="536.60" cy="61.50" r="1.2" fill="#fff" stroke="#1f77c8" stroke-width="0.5"/>
<circle cx="540.00" cy="50.80" r="1.2" fill="#fff" stroke="#1f77c8" stroke-width="0.5"/>
<circle cx="542.50" cy="22.80" r="1.2" fill="#fff" stroke="#1f77c8" stroke-width="0.5"/>
<polyline points="542.50,22.80 539.50,33.30 537.60,47.80 529.00,67.50 521.00,73.20 515.50,84.80 508.20,95.20 500.80,100.40 493.90,103.70 486.90,106.40 479.20,108.60 471.80,110.10 464.90,111.90 457.60,113.00 450.70,114.00 443.50,115.00 436.20,116.00 428.90,116.90 421.30,117.80 413.50,118.70" fill="none" stroke="#f3574a" stroke-width="1.6" stroke-linejoin="round" stroke-linecap="round" />
<circle cx="542.50" cy="22.80" r="1.2" fill="#fff" stroke="#f3574a" stroke-width="0.5"/>
<circle cx="539.50" cy="33.30" r="1.2" fill="#fff" stroke="#f3574a" stroke-width="0.5"/>
<circle cx="537.60" cy="47.80" r="1.2" fill="#fff" stroke="#f3574a" stroke-width="0.5"/>
<circle cx="529.00" cy="67.50" r="1.2" fill="#fff" stroke="#f3574a" stroke-width="0.5"/>
<circle cx="521.00" cy="73.20" r="1.2" fill="#fff" stroke="#f3574a" stroke-width="0.5"/>
<circle cx="515.50" cy="84.80" r="1.2" fill="#fff" stroke="#f3574a" stroke-width="0.5"/>
<circle cx="508.20" cy="95.20" r="1.2" fill="#fff" stroke="#f3574a" stroke-width="0.5"/>
<circle cx="500.80" cy="100.40" r="1.2" fill="#fff" stroke="#f3574a" stroke-width="0.5"/>
<circle cx="493.90" cy="103.70" r="1.2" fill="#fff" stroke="#f3574a" stroke-width="0.5"/>
<circle cx="486.90" cy="106.40" r="1.2" fill="#fff" stroke="#f3574a" stroke-width="0.5"/>
<circle cx="479.20" cy="108.60" r="1.2" fill="#fff" stroke="#f3574a" stroke-width="0.5"/>
<circle cx="471.80" cy="110.10" r="1.2" fill="#fff" stroke="#f3574a" stroke-width="0.5"/>
<circle cx="464.90" cy="111.90" r="1.2" fill="#fff" stroke="#f3574a" stroke-width="0.5"/>
<circle cx="457.60" cy="113.00" r="1.2" fill="#fff" stroke="#f3574a" stroke-width="0.5"/>
<circle cx="450.70" cy="114.00" r="1.2" fill="#fff" stroke="#f3574a" stroke-width="0.5"/>
<circle cx="443.50" cy="115.00" r="1.2" fill="#fff" stroke="#f3574a" stroke-width="0.5"/>
<circle cx="436.20" cy="116.00" r="1.2" fill="#fff" stroke="#f3574a" stroke-width="0.5"/>
<circle cx="428.90" cy="116.90" r="1.2" fill="#fff" stroke="#f3574a" stroke-width="0.5"/>
<circle cx="421.30" cy="117.80" r="1.2" fill="#fff" stroke="#f3574a" stroke-width="0.5"/>
<circle cx="413.50" cy="118.70" r="1.2" fill="#fff" stroke="#f3574a" stroke-width="0.5"/>
<rect x="399.6" y="14" width="145.0" height="116.30000000000001" fill="none" stroke="#2e2e2e" stroke-width="1.2"/>
<line x1="399.60" y1="130.30" x2="397.60" y2="130.30" stroke="#2e2e2e" stroke-width="1.0"/>
<text textLength="3.15" lengthAdjust="spacingAndGlyphs" x="396.00" y="132.60" font-family='"Liberation Serif", serif' font-size="7.0" font-weight="bold" fill="#222" stroke="#222" stroke-width="0.12" text-anchor="end" style=""><tspan dy="-0.00" font-size="7.0">0</tspan></text>
<line x1="399.60" y1="116.68" x2="397.60" y2="116.68" stroke="#2e2e2e" stroke-width="1.0"/>
<text textLength="6.3" lengthAdjust="spacingAndGlyphs" x="396.00" y="118.98" font-family='"Liberation Serif", serif' font-size="7.0" font-weight="bold" fill="#222" stroke="#222" stroke-width="0.12" text-anchor="end" style=""><tspan dy="-0.00" font-size="7.0">20</tspan></text>
<line x1="399.60" y1="103.06" x2="397.60" y2="103.06" stroke="#2e2e2e" stroke-width="1.0"/>
<text textLength="6.3" lengthAdjust="spacingAndGlyphs" x="396.00" y="105.36" font-family='"Liberation Serif", serif' font-size="7.0" font-weight="bold" fill="#222" stroke="#222" stroke-width="0.12" text-anchor="end" style=""><tspan dy="-0.00" font-size="7.0">40</tspan></text>
<line x1="399.60" y1="89.44" x2="397.60" y2="89.44" stroke="#2e2e2e" stroke-width="1.0"/>
<text textLength="6.3" lengthAdjust="spacingAndGlyphs" x="396.00" y="91.74" font-family='"Liberation Serif", serif' font-size="7.0" font-weight="bold" fill="#222" stroke="#222" stroke-width="0.12" text-anchor="end" style=""><tspan dy="-0.00" font-size="7.0">60</tspan></text>
<line x1="399.60" y1="75.82" x2="397.60" y2="75.82" stroke="#2e2e2e" stroke-width="1.0"/>
<text textLength="6.3" lengthAdjust="spacingAndGlyphs" x="396.00" y="78.12" font-family='"Liberation Serif", serif' font-size="7.0" font-weight="bold" fill="#222" stroke="#222" stroke-width="0.12" text-anchor="end" style=""><tspan dy="-0.00" font-size="7.0">80</tspan></text>
<line x1="399.60" y1="62.20" x2="397.60" y2="62.20" stroke="#2e2e2e" stroke-width="1.0"/>
<text textLength="9.45" lengthAdjust="spacingAndGlyphs" x="396.00" y="64.50" font-family='"Liberation Serif", serif' font-size="7.0" font-weight="bold" fill="#222" stroke="#222" stroke-width="0.12" text-anchor="end" style=""><tspan dy="-0.00" font-size="7.0">100</tspan></text>
<line x1="399.60" y1="48.58" x2="397.60" y2="48.58" stroke="#2e2e2e" stroke-width="1.0"/>
<text textLength="9.45" lengthAdjust="spacingAndGlyphs" x="396.00" y="50.88" font-family='"Liberation Serif", serif' font-size="7.0" font-weight="bold" fill="#222" stroke="#222" stroke-width="0.12" text-anchor="end" style=""><tspan dy="-0.00" font-size="7.0">120</tspan></text>
<line x1="399.60" y1="34.96" x2="397.60" y2="34.96" stroke="#2e2e2e" stroke-width="1.0"/>
<text textLength="9.45" lengthAdjust="spacingAndGlyphs" x="396.00" y="37.26" font-family='"Liberation Serif", serif' font-size="7.0" font-weight="bold" fill="#222" stroke="#222" stroke-width="0.12" text-anchor="end" style=""><tspan dy="-0.00" font-size="7.0">140</tspan></text>
<line x1="399.60" y1="21.34" x2="397.60" y2="21.34" stroke="#2e2e2e" stroke-width="1.0"/>
<text textLength="9.45" lengthAdjust="spacingAndGlyphs" x="396.00" y="23.64" font-family='"Liberation Serif", serif' font-size="7.0" font-weight="bold" fill="#222" stroke="#222" stroke-width="0.12" text-anchor="end" style=""><tspan dy="-0.00" font-size="7.0">160</tspan></text>
<line x1="399.60" y1="123.49" x2="398.40" y2="123.49" stroke="#2e2e2e" stroke-width="1.0"/>
<line x1="399.60" y1="109.87" x2="398.40" y2="109.87" stroke="#2e2e2e" stroke-width="1.0"/>
<line x1="399.60" y1="96.25" x2="398.40" y2="96.25" stroke="#2e2e2e" stroke-width="1.0"/>
<line x1="399.60" y1="82.63" x2="398.40" y2="82.63" stroke="#2e2e2e" stroke-width="1.0"/>
<line x1="399.60" y1="69.01" x2="398.40" y2="69.01" stroke="#2e2e2e" stroke-width="1.0"/>
<line x1="399.60" y1="55.39" x2="398.40" y2="55.39" stroke="#2e2e2e" stroke-width="1.0"/>
<line x1="399.60" y1="41.77" x2="398.40" y2="41.77" stroke="#2e2e2e" stroke-width="1.0"/>
<line x1="399.60" y1="28.15" x2="398.40" y2="28.15" stroke="#2e2e2e" stroke-width="1.0"/>
<line x1="399.60" y1="130.30" x2="399.60" y2="132.30" stroke="#2e2e2e" stroke-width="1.0"/>
<text textLength="7.88" lengthAdjust="spacingAndGlyphs" x="399.60" y="139.70" font-family='"Liberation Serif", serif' font-size="7.0" font-weight="bold" fill="#222" stroke="#222" stroke-width="0.12" text-anchor="middle" style=""><tspan dy="-0.00" font-size="7.0">0.0</tspan></text>
<line x1="428.60" y1="130.30" x2="428.60" y2="132.30" stroke="#2e2e2e" stroke-width="1.0"/>
<text textLength="7.88" lengthAdjust="spacingAndGlyphs" x="428.60" y="139.70" font-family='"Liberation Serif", serif' font-size="7.0" font-weight="bold" fill="#222" stroke="#222" stroke-width="0.12" text-anchor="middle" style=""><tspan dy="-0.00" font-size="7.0">0.2</tspan></text>
<line x1="457.60" y1="130.30" x2="457.60" y2="132.30" stroke="#2e2e2e" stroke-width="1.0"/>
<text textLength="7.88" lengthAdjust="spacingAndGlyphs" x="457.60" y="139.70" font-family='"Liberation Serif", serif' font-size="7.0" font-weight="bold" fill="#222" stroke="#222" stroke-width="0.12" text-anchor="middle" style=""><tspan dy="-0.00" font-size="7.0">0.4</tspan></text>
<line x1="486.60" y1="130.30" x2="486.60" y2="132.30" stroke="#2e2e2e" stroke-width="1.0"/>
<text textLength="7.88" lengthAdjust="spacingAndGlyphs" x="486.60" y="139.70" font-family='"Liberation Serif", serif' font-size="7.0" font-weight="bold" fill="#222" stroke="#222" stroke-width="0.12" text-anchor="middle" style=""><tspan dy="-0.00" font-size="7.0">0.6</tspan></text>
<line x1="515.60" y1="130.30" x2="515.60" y2="132.30" stroke="#2e2e2e" stroke-width="1.0"/>
<text textLength="7.88" lengthAdjust="spacingAndGlyphs" x="515.60" y="139.70" font-family='"Liberation Serif", serif' font-size="7.0" font-weight="bold" fill="#222" stroke="#222" stroke-width="0.12" text-anchor="middle" style=""><tspan dy="-0.00" font-size="7.0">0.8</tspan></text>
<line x1="544.60" y1="130.30" x2="544.60" y2="132.30" stroke="#2e2e2e" stroke-width="1.0"/>
<text textLength="7.88" lengthAdjust="spacingAndGlyphs" x="544.60" y="139.70" font-family='"Liberation Serif", serif' font-size="7.0" font-weight="bold" fill="#222" stroke="#222" stroke-width="0.12" text-anchor="middle" style=""><tspan dy="-0.00" font-size="7.0">1.0</tspan></text>
<line x1="414.10" y1="130.30" x2="414.10" y2="131.50" stroke="#2e2e2e" stroke-width="1.0"/>
<line x1="443.10" y1="130.30" x2="443.10" y2="131.50" stroke="#2e2e2e" stroke-width="1.0"/>
<line x1="472.10" y1="130.30" x2="472.10" y2="131.50" stroke="#2e2e2e" stroke-width="1.0"/>
<line x1="501.10" y1="130.30" x2="501.10" y2="131.50" stroke="#2e2e2e" stroke-width="1.0"/>
<line x1="530.10" y1="130.30" x2="530.10" y2="131.50" stroke="#2e2e2e" stroke-width="1.0"/>
<text textLength="78.4" lengthAdjust="spacingAndGlyphs" x="432.90" y="151.70" font-family='"Liberation Serif", serif' font-size="7.4" font-weight="bold" fill="#222" stroke="#222" stroke-width="0.25" text-anchor="start" style=""><tspan dy="-0.00" font-size="7.4">Relative Pressure (P/P</tspan><tspan dy="1.63" font-size="4.59">0</tspan><tspan dy="-1.63" font-size="7.4">)</tspan></text>
<text textLength="105.5" lengthAdjust="spacingAndGlyphs" x="383.40" y="73.00" font-family='"Liberation Serif", serif' font-size="8.0" font-weight="bold" fill="#222" stroke="#222" stroke-width="0.2" text-anchor="middle" transform="rotate(-90 383.4 73.0)" style=""><tspan dy="-0.00" font-size="8.0">Quantity Adsorbed (cm</tspan><tspan dy="-3.04" font-size="4.96">3</tspan><tspan dy="3.04" font-size="8.0">/g STP)</tspan></text>
<text textLength="60.5" lengthAdjust="spacingAndGlyphs" x="414.20" y="38.20" font-family='"Liberation Serif", serif' font-size="7.2" font-weight="bold" fill="#222" stroke="#222" stroke-width="0.35" text-anchor="start" style=""><tspan dy="-0.00" font-size="7.2">Zn</tspan><tspan dy="1.58" font-size="3.60">1</tspan><tspan dy="-1.58" font-size="7.2">Cr</tspan><tspan dy="1.58" font-size="3.60">2</tspan><tspan dy="-1.58" font-size="7.2">-CrO</tspan><tspan dy="1.58" font-size="3.60">4</tspan><tspan dy="-4.32" font-size="3.60">2-</tspan><tspan dy="2.74" font-size="7.2">-MMO</tspan></text>
<text textLength="28.7" lengthAdjust="spacingAndGlyphs" x="418.00" y="55.40" font-family='"Liberation Serif", serif' font-size="6.6" font-weight="bold" fill="#222" stroke="#222" stroke-width="0.12" text-anchor="start" style=""><tspan dy="-0.00" font-size="6.6">70.80 m</tspan><tspan dy="-2.51" font-size="4.09">2</tspan><tspan dy="2.51" font-size="6.6">/g</tspan></text>
<line x1="453.3" y1="80" x2="466.7" y2="80" stroke="#1f77c8" stroke-width="1.6"/>
<circle cx="460" cy="80" r="1.5" fill="#fff" stroke="#1f77c8" stroke-width="0.6"/>
<line x1="453.3" y1="88.8" x2="466.7" y2="88.8" stroke="#f3574a" stroke-width="1.6"/>
<circle cx="460" cy="88.8" r="1.5" fill="#fff" stroke="#f3574a" stroke-width="0.6"/>
<text textLength="31.1" lengthAdjust="spacingAndGlyphs" x="468.50" y="82.60" font-family='"Liberation Serif", serif' font-size="6.6" font-weight="bold" fill="#222" stroke="#222" stroke-width="0.2" text-anchor="start" style=""><tspan dy="-0.00" font-size="6.6">Adsorption</tspan></text>
<text textLength="30.7" lengthAdjust="spacingAndGlyphs" x="468.50" y="91.40" font-family='"Liberation Serif", serif' font-size="6.6" font-weight="bold" fill="#222" stroke="#222" stroke-width="0.2" text-anchor="start" style=""><tspan dy="-0.00" font-size="6.6">Desorption</tspan></text>
<text x="2.20" y="162.80" font-family='"Liberation Serif", serif' font-size="16.5" font-weight="bold" fill="#222" stroke="#222" stroke-width="0.12" text-anchor="start" style=""><tspan dy="-0.00" font-size="16.5">(d)</tspan></text>
<polyline points="27.40,200.46 27.80,200.77 28.20,200.69 28.60,200.26 29.00,200.38 29.40,200.87 29.80,200.31 30.20,200.52 30.60,200.40 31.00,200.62 31.40,200.47 31.80,200.57 32.20,200.37 32.60,200.10 33.00,200.07 33.40,199.98 33.80,200.48 34.20,199.96 34.60,199.87 35.00,200.50 35.40,199.94 35.80,200.41 36.20,199.82 36.60,200.06 37.00,199.87 37.40,200.28 37.80,200.11 38.20,200.12 38.60,200.19 39.00,200.26 39.40,199.89 39.80,200.07 40.20,199.97 40.60,199.75 41.00,200.27 41.40,200.12 41.80,200.29 42.20,199.89 42.60,200.15 43.00,200.12 43.40,200.34 43.80,199.91 44.20,200.13 44.60,200.25 45.00,199.99 45.40,200.35 45.80,200.51 46.20,200.31 46.60,200.49 47.00,200.47 47.40,200.21 47.80,200.33 48.20,200.79 48.60,200.35 49.00,200.43 49.40,200.20 49.80,200.31 50.20,200.29 50.60,200.84 51.00,200.71 51.40,200.82 51.80,200.91 52.20,200.66 52.60,200.89 53.00,200.62 53.40,200.54 53.80,200.91 54.20,200.88 54.60,200.91 55.00,200.58 55.40,200.77 55.80,200.50 56.20,200.90 56.60,200.83 57.00,200.37 57.40,200.79 57.80,200.25 58.20,200.16 58.60,200.57 59.00,200.24 59.40,200.36 59.80,200.41 60.20,199.96 60.60,200.41 61.00,200.02 61.40,200.06 61.80,199.92 62.20,200.11 62.60,200.02 63.00,199.59 63.40,199.35 63.80,199.35 64.20,199.24 64.60,198.78 65.00,198.58 65.40,198.76 65.80,198.47 66.20,198.46 66.60,198.30 67.00,198.09 67.40,197.60 67.80,197.34 68.20,197.34 68.60,197.37 69.00,197.36 69.40,197.31 69.80,197.14 70.20,197.45 70.60,197.05 71.00,197.19 71.40,197.53 71.80,197.53 72.20,197.24 72.60,197.31 73.00,197.92 73.40,197.64 73.80,198.04 74.20,198.62 74.60,198.89 75.00,198.91 75.40,199.13 75.80,199.52 76.20,200.11 76.60,199.98 77.00,200.32 77.40,200.15 77.80,200.24 78.20,199.51 78.60,199.54 79.00,199.35 79.40,199.57 79.80,199.43 80.20,199.13 80.60,199.37 81.00,198.94 81.40,198.98 81.80,198.83 82.20,199.12 82.60,198.79 83.00,198.64 83.40,198.48 83.80,198.76 84.20,198.90 84.60,198.95 85.00,199.13 85.40,199.08 85.80,198.71 86.20,198.66 86.60,199.12 87.00,199.16 87.40,198.99 87.80,199.24 88.20,199.07 88.60,198.90 89.00,198.84 89.40,198.74 89.80,199.19 90.20,199.38 90.60,199.38 91.00,199.07 91.40,199.21 91.80,199.38 92.20,199.28 92.60,199.12 93.00,198.96 93.40,199.01 93.80,198.74 94.20,198.71 94.60,199.03 95.00,199.20 95.40,198.85 95.80,198.70 96.20,198.61 96.60,198.63 97.00,198.82 97.40,198.51 97.80,198.80 98.20,198.12 98.60,198.04 99.00,197.97 99.40,197.66 99.80,197.75 100.20,197.56 100.60,197.50 101.00,197.14 101.40,196.61 101.80,196.90 102.20,196.84 102.60,196.84 103.00,196.87 103.40,197.45 103.80,197.92 104.20,197.69 104.60,198.39 105.00,198.51 105.40,198.97 105.80,199.61 106.20,200.02 106.60,200.14 107.00,200.12 107.40,200.85 107.80,200.49 108.20,200.77 108.60,201.20 109.00,200.95 109.40,201.01 109.80,201.58 110.20,201.66 110.60,201.30 111.00,201.42 111.40,201.42 111.80,201.39 112.20,201.55 112.60,202.13 113.00,201.56 113.40,201.73 113.80,201.76 114.20,201.73 114.60,202.08 115.00,202.27 115.40,202.37 115.80,202.26 116.20,202.42 116.60,201.88 117.00,202.11 117.40,202.61 117.80,202.01 118.20,202.18 118.60,202.35 119.00,202.23 119.40,202.44 119.80,202.11 120.20,202.26 120.60,202.78 121.00,202.23 121.40,202.77 121.80,202.27 122.20,202.84 122.60,202.62 123.00,202.60 123.40,202.25 123.80,202.19 124.20,202.68 124.60,202.27 125.00,202.28 125.40,202.73 125.80,202.76 126.20,202.18 126.60,202.82 127.00,202.52 127.40,202.42 127.80,202.22 128.20,202.42 128.60,202.84 129.00,202.35 129.40,202.24 129.80,202.25 130.20,202.24 130.60,202.39 131.00,202.77 131.40,202.17 131.80,202.22 132.20,202.71 132.60,202.71 133.00,202.65 133.40,202.08 133.80,202.09 134.20,202.45 134.60,202.05 135.00,202.13 135.40,201.78 135.80,201.49 136.20,201.63 136.60,201.83 137.00,201.76 137.40,201.52 137.80,201.35 138.20,201.28 138.60,201.07 139.00,200.97 139.40,200.99 139.80,200.35 140.20,200.41 140.60,200.42 141.00,200.13 141.40,199.43 141.80,199.75 142.20,199.42 142.60,198.70 143.00,198.51 143.40,198.19 143.80,197.79 144.20,198.12 144.60,197.39 145.00,197.35 145.40,196.43 145.80,195.90 146.20,195.99 146.60,195.38 147.00,194.93 147.40,194.10 147.80,193.35 148.20,192.87 148.60,191.75 149.00,191.39 149.40,190.61 149.80,189.67 150.20,189.24 150.60,188.29 151.00,187.66 151.40,186.82 151.80,185.99 152.20,185.18 152.60,184.53 153.00,184.06 153.40,183.43 153.80,182.90 154.20,182.41 154.60,181.62 155.00,181.79 155.40,181.15 155.80,181.09 156.20,181.59 156.60,182.12 157.00,182.29 157.40,182.98 157.80,183.26 158.20,184.44 158.60,184.89 159.00,185.79 159.40,186.70 159.80,187.78 160.20,188.72 160.60,189.29 161.00,190.11 161.40,191.08 161.80,191.52 162.20,192.61 162.60,193.71 163.00,194.37 163.40,194.41 163.80,195.44 164.20,195.54 164.60,196.35 165.00,196.28 165.40,196.49 165.80,197.00 166.20,197.47 166.60,197.34 167.00,197.81 167.40,197.84 167.80,197.73 168.20,197.80 168.60,198.05 169.00,198.09 169.40,198.18 169.80,198.49 170.20,198.76 170.60,198.67 171.00,198.47 171.40,198.63 171.80,198.84 172.20,199.12 172.60,198.91 173.00,198.99 173.40,199.28 173.80,199.38 174.20,199.33 174.60,199.81 175.00,200.20 175.40,200.05 175.80,200.31 176.20,200.48 176.60,200.60 177.00,200.76 177.40,200.54 177.80,200.81 178.20,200.52 178.60,201.15 179.00,200.90 179.40,201.06 179.80,201.45 180.20,201.12 180.60,201.14" fill="none" stroke="#f2413a" stroke-width="1.3" stroke-linejoin="round" stroke-linecap="round" />
<polyline points="27.40,245.46 27.75,244.29 28.10,243.05 28.45,242.15 28.80,241.57 29.15,240.82 29.50,240.75 29.85,240.00 30.20,239.67 30.55,239.38 30.90,239.10 31.25,238.73 31.60,238.52 31.95,238.25 32.30,237.85 32.65,237.40 33.00,237.54 33.35,237.09 33.70,236.47 34.05,236.33 34.40,236.17 34.75,235.96 35.10,235.17 35.45,234.80 35.80,234.69 36.15,234.31 36.50,234.19 36.85,233.79 37.20,233.16 37.55,232.83 37.90,232.54 38.25,232.40 38.60,231.76 38.95,231.45 39.30,230.71 39.65,229.30 40.00,225.60 40.35,223.04 40.70,220.91 41.05,223.87 41.40,227.34 41.75,230.06 42.10,231.24 42.45,232.15 42.80,232.52 43.15,232.85 43.50,233.59 43.85,233.75 44.20,233.95 44.55,234.00 44.90,234.25 45.25,234.72 45.60,234.49 45.95,234.83 46.30,235.00 46.65,234.97 47.00,235.28 47.35,235.45 47.70,235.51 48.05,235.53 48.40,235.33 48.75,235.33 49.10,235.59 49.45,235.59 49.80,235.59 50.15,235.98 50.50,235.71 50.85,236.07 51.20,236.17 51.55,235.81 51.90,236.26 52.25,236.05 52.60,236.00 52.95,236.04 53.30,236.01 53.65,236.28 54.00,236.27 54.35,236.55 54.70,236.58 55.05,236.23 55.40,236.44 55.75,236.48 56.10,236.42 56.45,236.50 56.80,236.55 57.15,236.82 57.50,236.71 57.85,236.67 58.20,236.80 58.55,236.99 58.90,237.12 59.25,237.01 59.60,237.28 59.95,237.06 60.30,237.28 60.65,237.25 61.00,237.03 61.35,237.31 61.70,237.12 62.05,237.18 62.40,237.19 62.75,237.19 63.10,237.08 63.45,236.87 63.80,237.21 64.15,237.22 64.50,237.01 64.85,237.02 65.20,236.81 65.55,237.04 65.90,236.83 66.25,236.47 66.60,236.65 66.95,236.61 67.30,236.18 67.65,236.41 68.00,236.04 68.35,235.77 68.70,235.93 69.05,235.66 69.40,235.82 69.75,235.77 70.10,235.64 70.45,236.03 70.80,236.39 71.15,236.41 71.50,236.63 71.85,237.03 72.20,237.06 72.55,237.31 72.90,237.51 73.25,237.72 73.60,237.49 73.95,237.50 74.30,237.89 74.65,237.84 75.00,237.77 75.35,238.10 75.70,238.14 76.05,238.01 76.40,238.26 76.75,238.22 77.10,238.22 77.45,238.03 77.80,237.93 78.15,238.31 78.50,238.38 78.85,238.23 79.20,238.34 79.55,238.42 79.90,238.30 80.25,238.57 80.60,238.54 80.95,238.49 81.30,238.40 81.65,238.66 82.00,238.59 82.35,238.83 82.70,238.60 83.05,238.76 83.40,238.72 83.75,238.88 84.10,239.02 84.45,238.85 84.80,238.90 85.15,239.18 85.50,239.12 85.85,239.34 86.20,239.25 86.55,239.30 86.90,239.59 87.25,239.86 87.60,239.91 87.95,239.80 88.30,239.81 88.65,239.72 89.00,239.91 89.35,240.01 89.70,240.41 90.05,240.07 90.40,240.56 90.75,240.39 91.10,240.42 91.45,240.36 91.80,240.73 92.15,240.30 92.50,240.30 92.85,239.97 93.20,239.42 93.55,238.99 93.90,238.89 94.25,238.07 94.60,237.13 94.95,236.32 95.30,235.21 95.65,234.84 96.00,234.53 96.35,234.57 96.70,235.36 97.05,236.37 97.40,237.02 97.75,238.29 98.10,238.86 98.45,239.87 98.80,240.32 99.15,240.86 99.50,241.12 99.85,241.63 100.20,241.80 100.55,241.87 100.90,242.14 101.25,242.19 101.60,242.53 101.95,242.40 102.30,242.65 102.65,242.75 103.00,242.72 103.35,242.61 103.70,242.72 104.05,243.01 104.40,242.84 104.75,243.15 105.10,243.06 105.45,243.32 105.80,243.30 106.15,243.27 106.50,243.11 106.85,242.96 107.20,243.24 107.55,243.35 107.90,243.45 108.25,243.10 108.60,243.09 108.95,243.52 109.30,243.40 109.65,243.28 110.00,243.42 110.35,243.12 110.70,243.26 111.05,243.05 111.40,242.85 111.75,242.73 112.10,242.94 112.45,243.39 112.80,243.71 113.15,243.55 113.50,243.71 113.85,243.97 114.20,244.54 114.55,244.54 114.90,244.75 115.25,245.15 115.60,245.06 115.95,244.95 116.30,245.23 116.65,244.94 117.00,245.13 117.35,245.37 117.70,245.13 118.05,245.07 118.40,245.31 118.75,245.21 119.10,245.54 119.45,245.10 119.80,245.45 120.15,245.24 120.50,245.43 120.85,245.10 121.20,244.94 121.55,244.42 121.90,243.97 122.25,243.64 122.60,243.26 122.95,242.24 123.30,241.25 123.65,240.37 124.00,239.30 124.35,238.38 124.70,237.39 125.05,236.54 125.40,236.39 125.75,236.91 126.10,237.93 126.45,239.12 126.80,240.35 127.15,241.48 127.50,242.83 127.85,243.60 128.20,244.44 128.55,244.87 128.90,245.36 129.25,245.80 129.60,246.07 129.95,246.34 130.30,246.57 130.65,246.70 131.00,247.29 131.35,247.33 131.70,247.30 132.05,247.88 132.40,247.87 132.75,248.05 133.10,248.11 133.45,248.10 133.80,248.67 134.15,248.37 134.50,248.58 134.85,249.00 135.20,248.64 135.55,248.90 135.90,248.94 136.25,248.86 136.60,249.21 136.95,248.96 137.30,248.75 137.65,248.98 138.00,248.73 138.35,249.07 138.70,249.14 139.05,249.14 139.40,248.69 139.75,248.98 140.10,248.77 140.45,248.83 140.80,248.71 141.15,248.69 141.50,248.57 141.85,248.78 142.20,248.47 142.55,248.84 142.90,248.28 143.25,248.62 143.60,248.10 143.95,247.89 144.30,248.06 144.65,247.79 145.00,247.73 145.35,247.42 145.70,247.27 146.05,246.77 146.40,246.81 146.75,246.46 147.10,246.40 147.45,245.62 147.80,245.32 148.15,245.27 148.50,245.01 148.85,244.34 149.20,244.03 149.55,243.46 149.90,242.79 150.25,242.16 150.60,241.50 150.95,240.48 151.30,239.90 151.65,239.39 152.00,238.37 152.35,237.72 152.70,236.94 153.05,236.46 153.40,236.13 153.75,235.75 154.10,235.58 154.45,235.32 154.80,235.45 155.15,236.00 155.50,236.45 155.85,237.16 156.20,238.17 156.55,239.23 156.90,240.12 157.25,241.03 157.60,241.72 157.95,242.41 158.30,243.18 158.65,243.63 159.00,244.49 159.35,244.88 159.70,245.31 160.05,245.87 160.40,246.13 160.75,246.87 161.10,247.21 161.45,247.33 161.80,247.79 162.15,247.82 162.50,248.04 162.85,248.27 163.20,248.47 163.55,248.88 163.90,249.10 164.25,249.33 164.60,249.20 164.95,249.70 165.30,249.71 165.65,249.81 166.00,250.00 166.35,250.09 166.70,250.09 167.05,250.29 167.40,250.52 167.75,250.65 168.10,250.84 168.45,250.57 168.80,251.00 169.15,251.04 169.50,251.08 169.85,251.30 170.20,250.97 170.55,251.37 170.90,251.51 171.25,251.20 171.60,251.51 171.95,251.76 172.30,251.51 172.65,251.86 173.00,251.97 173.35,251.81 173.70,251.75 174.05,251.87 174.40,252.27 174.75,252.16 175.10,252.20 175.45,252.37 175.80,252.71 176.15,252.48 176.50,252.46 176.85,253.03 177.20,252.82 177.55,252.96 177.90,253.36 178.25,253.11 178.60,253.12 178.95,253.63 179.30,253.41 179.65,253.51 180.00,253.97 180.35,253.73 180.70,254.17" fill="none" stroke="#5463ad" stroke-width="1.2" stroke-linejoin="round" stroke-linecap="round" />
<rect x="27.3" y="159" width="154.1" height="113.30000000000001" fill="none" stroke="#2e2e2e" stroke-width="1.2"/>
<line x1="27.30" y1="272.30" x2="27.30" y2="274.30" stroke="#2e2e2e" stroke-width="1.0"/>
<text textLength="9.45" lengthAdjust="spacingAndGlyphs" x="27.30" y="281.80" font-family='"Liberation Serif", serif' font-size="7.0" font-weight="bold" fill="#222" stroke="#222" stroke-width="0.12" text-anchor="middle" style=""><tspan dy="-0.00" font-size="7.0">100</tspan></text>
<line x1="44.42" y1="272.30" x2="44.42" y2="274.30" stroke="#2e2e2e" stroke-width="1.0"/>
<text textLength="9.45" lengthAdjust="spacingAndGlyphs" x="44.42" y="281.80" font-family='"Liberation Serif", serif' font-size="7.0" font-weight="bold" fill="#222" stroke="#222" stroke-width="0.12" text-anchor="middle" style=""><tspan dy="-0.00" font-size="7.0">200</tspan></text>
<line x1="61.54" y1="272.30" x2="61.54" y2="274.30" stroke="#2e2e2e" stroke-width="1.0"/>
<text textLength="9.45" lengthAdjust="spacingAndGlyphs" x="61.54" y="281.80" font-family='"Liberation Serif", serif' font-size="7.0" font-weight="bold" fill="#222" stroke="#222" stroke-width="0.12" text-anchor="middle" style=""><tspan dy="-0.00" font-size="7.0">300</tspan></text>
<line x1="78.67" y1="272.30" x2="78.67" y2="274.30" stroke="#2e2e2e" stroke-width="1.0"/>
<text textLength="9.45" lengthAdjust="spacingAndGlyphs" x="78.67" y="281.80" font-family='"Liberation Serif", serif' font-size="7.0" font-weight="bold" fill="#222" stroke="#222" stroke-width="0.12" text-anchor="middle" style=""><tspan dy="-0.00" font-size="7.0">400</tspan></text>
<line x1="95.79" y1="272.30" x2="95.79" y2="274.30" stroke="#2e2e2e" stroke-width="1.0"/>
<text textLength="9.45" lengthAdjust="spacingAndGlyphs" x="95.79" y="281.80" font-family='"Liberation Serif", serif' font-size="7.0" font-weight="bold" fill="#222" stroke="#222" stroke-width="0.12" text-anchor="middle" style=""><tspan dy="-0.00" font-size="7.0">500</tspan></text>
<line x1="112.91" y1="272.30" x2="112.91" y2="274.30" stroke="#2e2e2e" stroke-width="1.0"/>
<text textLength="9.45" lengthAdjust="spacingAndGlyphs" x="112.91" y="281.80" font-family='"Liberation Serif", serif' font-size="7.0" font-weight="bold" fill="#222" stroke="#222" stroke-width="0.12" text-anchor="middle" style=""><tspan dy="-0.00" font-size="7.0">600</tspan></text>
<line x1="130.03" y1="272.30" x2="130.03" y2="274.30" stroke="#2e2e2e" stroke-width="1.0"/>
<text textLength="9.45" lengthAdjust="spacingAndGlyphs" x="130.03" y="281.80" font-family='"Liberation Serif", serif' font-size="7.0" font-weight="bold" fill="#222" stroke="#222" stroke-width="0.12" text-anchor="middle" style=""><tspan dy="-0.00" font-size="7.0">700</tspan></text>
<line x1="147.16" y1="272.30" x2="147.16" y2="274.30" stroke="#2e2e2e" stroke-width="1.0"/>
<text textLength="9.45" lengthAdjust="spacingAndGlyphs" x="147.16" y="281.80" font-family='"Liberation Serif", serif' font-size="7.0" font-weight="bold" fill="#222" stroke="#222" stroke-width="0.12" text-anchor="middle" style=""><tspan dy="-0.00" font-size="7.0">800</tspan></text>
<line x1="164.28" y1="272.30" x2="164.28" y2="274.30" stroke="#2e2e2e" stroke-width="1.0"/>
<text textLength="9.45" lengthAdjust="spacingAndGlyphs" x="164.28" y="281.80" font-family='"Liberation Serif", serif' font-size="7.0" font-weight="bold" fill="#222" stroke="#222" stroke-width="0.12" text-anchor="middle" style=""><tspan dy="-0.00" font-size="7.0">900</tspan></text>
<line x1="181.40" y1="272.30" x2="181.40" y2="274.30" stroke="#2e2e2e" stroke-width="1.0"/>
<text textLength="12.6" lengthAdjust="spacingAndGlyphs" x="181.40" y="281.80" font-family='"Liberation Serif", serif' font-size="7.0" font-weight="bold" fill="#222" stroke="#222" stroke-width="0.12" text-anchor="middle" style=""><tspan dy="-0.00" font-size="7.0">1000</tspan></text>
<line x1="35.86" y1="272.30" x2="35.86" y2="273.50" stroke="#2e2e2e" stroke-width="1.0"/>
<line x1="52.98" y1="272.30" x2="52.98" y2="273.50" stroke="#2e2e2e" stroke-width="1.0"/>
<line x1="70.11" y1="272.30" x2="70.11" y2="273.50" stroke="#2e2e2e" stroke-width="1.0"/>
<line x1="87.23" y1="272.30" x2="87.23" y2="273.50" stroke="#2e2e2e" stroke-width="1.0"/>
<line x1="104.35" y1="272.30" x2="104.35" y2="273.50" stroke="#2e2e2e" stroke-width="1.0"/>
<line x1="121.47" y1="272.30" x2="121.47" y2="273.50" stroke="#2e2e2e" stroke-width="1.0"/>
<line x1="138.59" y1="272.30" x2="138.59" y2="273.50" stroke="#2e2e2e" stroke-width="1.0"/>
<line x1="155.72" y1="272.30" x2="155.72" y2="273.50" stroke="#2e2e2e" stroke-width="1.0"/>
<line x1="172.84" y1="272.30" x2="172.84" y2="273.50" stroke="#2e2e2e" stroke-width="1.0"/>
<text textLength="63.3" lengthAdjust="spacingAndGlyphs" x="72.80" y="294.20" font-family='"Liberation Serif", serif' font-size="7.5" font-weight="bold" fill="#222" stroke="#222" stroke-width="0.25" text-anchor="start" style=""><tspan dy="-0.00" font-size="7.5">Wavenumber (cm</tspan><tspan dy="-2.85" font-size="4.65">-1</tspan><tspan dy="2.85" font-size="7.5">)</tspan></text>
<text x="19.00" y="215.20" font-family='"Liberation Serif", serif' font-size="7.5" font-weight="bold" fill="#222" stroke="#222" stroke-width="0.12" text-anchor="middle" transform="rotate(-90 19.0 215.2)" style=""><tspan dy="-0.00" font-size="7.5">Intensity (a.u.)</tspan></text>
<text textLength="59.0" lengthAdjust="spacingAndGlyphs" x="29.00" y="179.20" font-family='"Liberation Serif", serif' font-size="7.2" font-weight="bold" fill="#222" stroke="#222" stroke-width="0.35" text-anchor="start" style=""><tspan dy="-0.00" font-size="7.2">Zn</tspan><tspan dy="1.58" font-size="3.60">1</tspan><tspan dy="-1.58" font-size="7.2">Cr</tspan><tspan dy="1.58" font-size="3.60">2</tspan><tspan dy="-1.58" font-size="7.2">-CrO</tspan><tspan dy="1.58" font-size="3.60">4</tspan><tspan dy="-4.32" font-size="3.60">2-</tspan><tspan dy="2.74" font-size="7.2">-MMO</tspan></text>
<text textLength="56.3" lengthAdjust="spacingAndGlyphs" x="29.40" y="264.50" font-family='"Liberation Serif", serif' font-size="7.2" font-weight="bold" fill="#222" stroke="#222" stroke-width="0.35" text-anchor="start" style=""><tspan dy="-0.00" font-size="7.2">Zn</tspan><tspan dy="1.58" font-size="3.60">1</tspan><tspan dy="-1.58" font-size="7.2">Cr</tspan><tspan dy="1.58" font-size="3.60">2</tspan><tspan dy="-1.58" font-size="7.2">-CO</tspan><tspan dy="1.58" font-size="3.60">3</tspan><tspan dy="-4.32" font-size="3.60">2-</tspan><tspan dy="2.74" font-size="7.2">-MMO</tspan></text>
<text textLength="60.8" lengthAdjust="spacingAndGlyphs" x="117.60" y="174.90" font-family='"Liberation Serif", serif' font-size="6.6" font-weight="bold" fill="#222" stroke="#222" stroke-width="0.12" text-anchor="start" style=""><tspan dy="-0.00" font-size="6.6">v</tspan><tspan dy="1.45" font-size="3.63">s</tspan><tspan dy="-1.45" font-size="6.6">(Cr-O) in chromates</tspan></text>
<text textLength="23.0" lengthAdjust="spacingAndGlyphs" x="32.00" y="218.70" font-family='"Liberation Serif", serif' font-size="6.8" font-weight="bold" fill="#222" stroke="#222" stroke-width="0.12" text-anchor="start" style=""><tspan dy="-0.00" font-size="6.8">δ(Zn-O)</tspan></text>
<text textLength="21.4" lengthAdjust="spacingAndGlyphs" x="86.00" y="228.90" font-family='"Liberation Serif", serif' font-size="6.6" font-weight="bold" fill="#222" stroke="#222" stroke-width="0.12" text-anchor="start" style=""><tspan dy="-0.00" font-size="6.6">v(Cr-O)</tspan></text>
<text textLength="24.0" lengthAdjust="spacingAndGlyphs" x="116.00" y="230.70" font-family='"Liberation Serif", serif' font-size="6.6" font-weight="bold" fill="#222" stroke="#222" stroke-width="0.12" text-anchor="start" style=""><tspan dy="-0.00" font-size="6.6">v</tspan><tspan dy="1.45" font-size="3.63">s</tspan><tspan dy="-1.45" font-size="6.6">(Cr-O)</tspan></text>
<text textLength="24.0" lengthAdjust="spacingAndGlyphs" x="102.40" y="253.30" font-family='"Liberation Serif", serif' font-size="6.6" font-weight="bold" fill="#222" stroke="#222" stroke-width="0.12" text-anchor="start" style=""><tspan dy="-0.00" font-size="6.6">v</tspan><tspan dy="1.45" font-size="3.63">s</tspan><tspan dy="-1.45" font-size="6.6">(Cr-O)</tspan></text>
<text x="191.50" y="162.80" font-family='"Liberation Serif", serif' font-size="16.5" font-weight="bold" fill="#222" stroke="#222" stroke-width="0.12" text-anchor="start" style=""><tspan dy="-0.00" font-size="16.5">(e)</tspan></text>
<path d="M217.90,234.42 L218.40,234.43 L218.90,234.44 L219.40,234.45 L219.90,234.46 L220.40,234.47 L220.90,234.48 L221.40,234.49 L221.90,234.50 L222.40,234.51 L222.90,234.52 L223.40,234.52 L223.90,234.53 L224.40,234.53 L224.90,234.53 L225.40,234.53 L225.90,234.53 L226.40,234.53 L226.90,234.52 L227.40,234.52 L227.90,234.51 L228.40,234.49 L228.90,234.48 L229.40,234.46 L229.90,234.43 L230.40,234.41 L230.90,234.38 L231.40,234.34 L231.90,234.30 L232.40,234.26 L232.90,234.20 L233.40,234.15 L233.90,234.09 L234.40,234.02 L234.90,233.94 L235.40,233.86 L235.90,233.77 L236.40,233.68 L236.90,233.57 L237.40,233.46 L237.90,233.34 L238.40,233.21 L238.90,233.07 L239.40,232.92 L239.90,232.77 L240.40,232.60 L240.90,232.43 L241.40,232.25 L241.90,232.05 L242.40,231.85 L242.90,231.64 L243.40,231.42 L243.90,231.19 L244.40,230.95 L244.90,230.70 L245.40,230.44 L245.90,230.18 L246.40,229.91 L246.90,229.63 L247.40,229.34 L247.90,229.05 L248.40,228.76 L248.90,228.46 L249.40,228.16 L249.90,227.85 L250.40,227.55 L250.90,227.24 L251.40,226.94 L251.90,226.63 L252.40,226.33 L252.90,226.04 L253.40,225.75 L253.90,225.48 L254.40,225.21 L254.90,224.95 L255.40,224.71 L255.90,224.48 L256.40,224.27 L256.90,224.09 L257.40,223.92 L257.90,223.77 L258.40,223.65 L258.90,223.56 L259.40,223.49 L259.90,223.45 L260.40,223.44 L260.90,223.46 L261.40,223.51 L261.90,223.60 L262.40,223.74 L262.90,223.93 L263.40,224.16 L263.90,224.44 L264.40,224.76 L264.90,225.12 L265.40,225.51 L265.90,225.93 L266.40,226.38 L266.90,226.85 L267.40,227.35 L267.90,227.86 L268.40,228.38 L268.90,228.91 L269.40,229.45 L269.90,229.99 L270.40,230.54 L270.90,231.08 L271.40,231.62 L271.90,232.15 L272.40,232.68 L272.90,233.20 L273.40,233.71 L273.90,234.20 L274.40,234.69 L274.90,235.16 L275.40,235.61 L275.90,236.05 L276.40,236.48 L276.90,236.89 L277.40,237.29 L277.90,237.67 L278.40,238.03 L278.90,238.38 L279.40,238.72 L279.90,239.04 L280.40,239.34 L280.90,239.64 L281.40,239.91 L281.90,240.18 L282.40,240.43 L282.90,240.68 L283.40,240.91 L283.90,241.13 L284.40,241.34 L284.90,241.54 L285.40,241.74 L285.90,241.92 L286.40,242.10 L286.90,242.27 L287.40,242.44 L287.90,242.60 L288.40,242.75 L288.90,242.90 L289.40,243.04 L289.90,243.19 L290.40,243.32 L290.90,243.46 L291.40,243.59 L291.90,243.72 L292.40,243.85 L292.90,243.97 L293.40,244.09 L293.90,244.21 L294.40,244.33 L294.90,244.45 L295.40,244.57 L295.90,244.69 L296.40,244.80 L296.90,244.91 L297.40,245.03 L297.90,245.14 L298.40,245.25 L298.90,245.37 L299.40,245.48 L299.90,245.59 L300.40,245.70 L300.90,245.81 L301.40,245.92 L301.90,246.03 L302.40,246.15 L302.90,246.26 L303.40,246.37 L303.90,246.48 L304.40,246.59 L304.90,246.70 L305.40,246.81 L305.90,246.92 L306.40,247.03 L306.90,247.14 L307.40,247.25 L307.90,247.36 L308.40,247.47 L308.90,247.58 L309.40,247.69 L309.90,247.80 L310.40,247.91 L310.90,248.02 L311.40,248.13 L311.90,248.24 L312.40,248.35 L312.90,248.46 L313.40,248.57 L313.90,248.68 L314.40,248.79 L314.90,248.90 L315.40,249.01 L315.90,249.13 L316.40,249.24 L316.90,249.35 L317.40,249.46 L317.90,249.57 L318.40,249.68 L318.90,249.80 L319.40,249.91 L319.90,250.02 L320.40,250.13 L320.90,250.24 L321.40,250.36 L321.90,250.47 L322.40,250.58 L322.90,250.69 L323.40,250.81 L323.90,250.92 L324.40,251.03 L324.90,251.14 L325.40,251.26 L325.90,251.37 L326.40,251.48 L326.90,251.60 L327.40,251.71 L327.90,251.83 L328.40,251.94 L328.90,252.05 L329.40,252.17 L329.90,252.28 L330.40,252.40 L330.90,252.51 L331.40,252.62 L331.90,252.74 L332.40,252.85 L332.90,252.97 L333.40,253.08 L333.90,253.20 L334.40,253.31 L334.90,253.43 L335.40,253.54 L335.90,253.66 L336.40,253.77 L336.90,253.89 L337.40,254.01 L337.90,254.12 L338.40,254.24 L338.90,254.35 L339.40,254.47 L339.90,254.59 L340.40,254.70 L340.90,254.82 L341.40,254.93 L341.90,255.05 L342.40,255.17 L342.90,255.28 L343.40,255.40 L343.90,255.52 L344.40,255.63 L344.90,255.75 L345.40,255.87 L345.90,255.99 L346.40,256.10 L346.90,256.22 L347.40,256.34 L347.90,256.45 L348.40,256.57 L348.90,256.69 L349.40,256.81 L349.90,256.92 L350.40,257.04 L350.90,257.16 L351.40,257.28 L351.90,257.39 L352.40,257.51 L352.90,257.63 L353.40,257.75 L353.90,257.87 L354.40,257.98 L354.90,258.10 L355.40,258.22 L355.90,258.34 L356.40,258.46 L356.90,258.58 L357.40,258.69 L357.90,258.81 L358.40,258.93 L358.90,259.05 L359.40,259.17 L359.90,259.28 L360.40,259.40 L360.90,259.52 L361.40,259.64 L361.90,259.76 L361.90,259.76 L361.90,259.84 L361.90,259.84 L361.40,259.72 L360.90,259.60 L360.40,259.48 L359.90,259.36 L359.40,259.25 L358.90,259.13 L358.40,259.01 L357.90,258.89 L357.40,258.78 L356.90,258.66 L356.40,258.54 L355.90,258.43 L355.40,258.31 L354.90,258.19 L354.40,258.07 L353.90,257.96 L353.40,257.84 L352.90,257.72 L352.40,257.61 L351.90,257.49 L351.40,257.37 L350.90,257.26 L350.40,257.14 L349.90,257.02 L349.40,256.91 L348.90,256.79 L348.40,256.67 L347.90,256.56 L347.40,256.44 L346.90,256.32 L346.40,256.21 L345.90,256.09 L345.40,255.98 L344.90,255.86 L344.40,255.75 L343.90,255.63 L343.40,255.52 L342.90,255.40 L342.40,255.28 L341.90,255.17 L341.40,255.05 L340.90,254.94 L340.40,254.82 L339.90,254.71 L339.40,254.60 L338.90,254.48 L338.40,254.37 L337.90,254.25 L337.40,254.14 L336.90,254.02 L336.40,253.91 L335.90,253.80 L335.40,253.68 L334.90,253.57 L334.40,253.46 L333.90,253.34 L333.40,253.23 L332.90,253.12 L332.40,253.01 L331.90,252.89 L331.40,252.78 L330.90,252.67 L330.40,252.56 L329.90,252.44 L329.40,252.33 L328.90,252.22 L328.40,252.11 L327.90,252.00 L327.40,251.89 L326.90,251.78 L326.40,251.66 L325.90,251.55 L325.40,251.44 L324.90,251.33 L324.40,251.22 L323.90,251.11 L323.40,251.00 L322.90,250.89 L322.40,250.78 L321.90,250.67 L321.40,250.57 L320.90,250.46 L320.40,250.35 L319.90,250.24 L319.40,250.13 L318.90,250.02 L318.40,249.92 L317.90,249.81 L317.40,249.70 L316.90,249.59 L316.40,249.49 L315.90,249.38 L315.40,249.27 L314.90,249.17 L314.40,249.06 L313.90,248.95 L313.40,248.85 L312.90,248.74 L312.40,248.64 L311.90,248.53 L311.40,248.43 L310.90,248.32 L310.40,248.22 L309.90,248.11 L309.40,248.01 L308.90,247.91 L308.40,247.80 L307.90,247.70 L307.40,247.60 L306.90,247.49 L306.40,247.39 L305.90,247.29 L305.40,247.19 L304.90,247.08 L304.40,246.98 L303.90,246.88 L303.40,246.78 L302.90,246.68 L302.40,246.58 L301.90,246.48 L301.40,246.38 L300.90,246.28 L300.40,246.18 L299.90,246.08 L299.40,245.98 L298.90,245.88 L298.40,245.78 L297.90,245.69 L297.40,245.59 L296.90,245.49 L296.40,245.39 L295.90,245.30 L295.40,245.20 L294.90,245.10 L294.40,245.01 L293.90,244.91 L293.40,244.82 L292.90,244.72 L292.40,244.63 L291.90,244.53 L291.40,244.44 L290.90,244.35 L290.40,244.25 L289.90,244.16 L289.40,244.07 L288.90,243.97 L288.40,243.88 L287.90,243.79 L287.40,243.70 L286.90,243.61 L286.40,243.51 L285.90,243.42 L285.40,243.33 L284.90,243.24 L284.40,243.15 L283.90,243.06 L283.40,242.98 L282.90,242.89 L282.40,242.80 L281.90,242.71 L281.40,242.62 L280.90,242.54 L280.40,242.45 L279.90,242.36 L279.40,242.28 L278.90,242.19 L278.40,242.11 L277.90,242.02 L277.40,241.94 L276.90,241.85 L276.40,241.77 L275.90,241.68 L275.40,241.60 L274.90,241.52 L274.40,241.43 L273.90,241.35 L273.40,241.27 L272.90,241.19 L272.40,241.11 L271.90,241.03 L271.40,240.95 L270.90,240.87 L270.40,240.79 L269.90,240.71 L269.40,240.63 L268.90,240.55 L268.40,240.47 L267.90,240.40 L267.40,240.32 L266.90,240.24 L266.40,240.17 L265.90,240.09 L265.40,240.02 L264.90,239.94 L264.40,239.87 L263.90,239.79 L263.40,239.72 L262.90,239.64 L262.40,239.57 L261.90,239.50 L261.40,239.43 L260.90,239.36 L260.40,239.28 L259.90,239.21 L259.40,239.14 L258.90,239.07 L258.40,239.00 L257.90,238.94 L257.40,238.87 L256.90,238.80 L256.40,238.73 L255.90,238.66 L255.40,238.60 L254.90,238.53 L254.40,238.46 L253.90,238.40 L253.40,238.33 L252.90,238.27 L252.40,238.21 L251.90,238.14 L251.40,238.08 L250.90,238.02 L250.40,237.95 L249.90,237.89 L249.40,237.83 L248.90,237.77 L248.40,237.71 L247.90,237.65 L247.40,237.59 L246.90,237.53 L246.40,237.47 L245.90,237.42 L245.40,237.36 L244.90,237.30 L244.40,237.25 L243.90,237.19 L243.40,237.14 L242.90,237.08 L242.40,237.03 L241.90,236.97 L241.40,236.92 L240.90,236.87 L240.40,236.81 L239.90,236.76 L239.40,236.71 L238.90,236.66 L238.40,236.61 L237.90,236.56 L237.40,236.51 L236.90,236.46 L236.40,236.42 L235.90,236.37 L235.40,236.32 L234.90,236.27 L234.40,236.23 L233.90,236.18 L233.40,236.14 L232.90,236.09 L232.40,236.05 L231.90,236.01 L231.40,235.96 L230.90,235.92 L230.40,235.88 L229.90,235.84 L229.40,235.80 L228.90,235.76 L228.40,235.72 L227.90,235.68 L227.40,235.64 L226.90,235.60 L226.40,235.57 L225.90,235.53 L225.40,235.50 L224.90,235.46 L224.40,235.43 L223.90,235.39 L223.40,235.36 L222.90,235.32 L222.40,235.29 L221.90,235.26 L221.40,235.23 L220.90,235.20 L220.40,235.17 L219.90,235.14 L219.40,235.11 L218.90,235.08 L218.40,235.05 L217.90,235.03 Z" fill="#dcc0ea"/>
<path d="M217.90,234.86 L218.40,234.88 L218.90,234.91 L219.40,234.93 L219.90,234.96 L220.40,234.99 L220.90,235.02 L221.40,235.05 L221.90,235.08 L222.40,235.11 L222.90,235.14 L223.40,235.17 L223.90,235.20 L224.40,235.23 L224.90,235.27 L225.40,235.30 L225.90,235.33 L226.40,235.37 L226.90,235.40 L227.40,235.44 L227.90,235.47 L228.40,235.51 L228.90,235.55 L229.40,235.58 L229.90,235.62 L230.40,235.66 L230.90,235.70 L231.40,235.74 L231.90,235.78 L232.40,235.82 L232.90,235.86 L233.40,235.90 L233.90,235.95 L234.40,235.99 L234.90,236.03 L235.40,236.08 L235.90,236.12 L236.40,236.17 L236.90,236.21 L237.40,236.26 L237.90,236.30 L238.40,236.35 L238.90,236.40 L239.40,236.44 L239.90,236.49 L240.40,236.54 L240.90,236.59 L241.40,236.64 L241.90,236.69 L242.40,236.74 L242.90,236.79 L243.40,236.84 L243.90,236.89 L244.40,236.95 L244.90,237.00 L245.40,237.05 L245.90,237.10 L246.40,237.16 L246.90,237.21 L247.40,237.27 L247.90,237.32 L248.40,237.38 L248.90,237.43 L249.40,237.49 L249.90,237.55 L250.40,237.60 L250.90,237.66 L251.40,237.72 L251.90,237.78 L252.40,237.83 L252.90,237.89 L253.40,237.95 L253.90,238.01 L254.40,238.07 L254.90,238.13 L255.40,238.19 L255.90,238.25 L256.40,238.31 L256.90,238.38 L257.40,238.44 L257.90,238.50 L258.40,238.56 L258.90,238.62 L259.40,238.69 L259.90,238.75 L260.40,238.81 L260.90,238.88 L261.40,238.94 L261.90,239.01 L262.40,239.07 L262.90,239.14 L263.40,239.20 L263.90,239.27 L264.40,239.33 L264.90,239.40 L265.40,239.46 L265.90,239.53 L266.40,239.60 L266.90,239.66 L267.40,239.73 L267.90,239.80 L268.40,239.86 L268.90,239.93 L269.40,240.00 L269.90,240.06 L270.40,240.13 L270.90,240.20 L271.40,240.27 L271.90,240.33 L272.40,240.40 L272.90,240.47 L273.40,240.53 L273.90,240.60 L274.40,240.67 L274.90,240.74 L275.40,240.80 L275.90,240.87 L276.40,240.94 L276.90,241.00 L277.40,241.07 L277.90,241.14 L278.40,241.20 L278.90,241.27 L279.40,241.33 L279.90,241.40 L280.40,241.46 L280.90,241.53 L281.40,241.59 L281.90,241.65 L282.40,241.72 L282.90,241.78 L283.40,241.84 L283.90,241.90 L284.40,241.95 L284.90,242.01 L285.40,242.07 L285.90,242.12 L286.40,242.17 L286.90,242.22 L287.40,242.27 L287.90,242.32 L288.40,242.36 L288.90,242.41 L289.40,242.44 L289.90,242.48 L290.40,242.51 L290.90,242.54 L291.40,242.57 L291.90,242.59 L292.40,242.60 L292.90,242.61 L293.40,242.62 L293.90,242.62 L294.40,242.61 L294.90,242.60 L295.40,242.58 L295.90,242.55 L296.40,242.51 L296.90,242.47 L297.40,242.41 L297.90,242.35 L298.40,242.28 L298.90,242.19 L299.40,242.10 L299.90,241.99 L300.40,241.87 L300.90,241.74 L301.40,241.59 L301.90,241.43 L302.40,241.26 L302.90,241.07 L303.40,240.87 L303.90,240.65 L304.40,240.42 L304.90,240.17 L305.40,239.91 L305.90,239.63 L306.40,239.34 L306.90,239.03 L307.40,238.71 L307.90,238.37 L308.40,238.01 L308.90,237.65 L309.40,237.27 L309.90,236.88 L310.40,236.48 L310.90,236.06 L311.40,235.64 L311.90,235.22 L312.40,234.78 L312.90,234.35 L313.40,233.91 L313.90,233.47 L314.40,233.04 L314.90,232.61 L315.40,232.20 L315.90,231.79 L316.40,231.41 L316.90,231.04 L317.40,230.70 L317.90,230.38 L318.40,230.10 L318.90,229.86 L319.40,229.65 L319.90,229.49 L320.40,229.37 L320.90,229.30 L321.40,229.29 L321.90,229.33 L322.40,229.42 L322.90,229.56 L323.40,229.75 L323.90,229.99 L324.40,230.27 L324.90,230.60 L325.40,230.97 L325.90,231.38 L326.40,231.83 L326.90,232.30 L327.40,232.81 L327.90,233.34 L328.40,233.89 L328.90,234.47 L329.40,235.06 L329.90,235.66 L330.40,236.27 L330.90,236.89 L331.40,237.52 L331.90,238.14 L332.40,238.77 L332.90,239.39 L333.40,240.01 L333.90,240.63 L334.40,241.24 L334.90,241.84 L335.40,242.43 L335.90,243.02 L336.40,243.59 L336.90,244.15 L337.40,244.70 L337.90,245.23 L338.40,245.76 L338.90,246.27 L339.40,246.76 L339.90,247.24 L340.40,247.71 L340.90,248.17 L341.40,248.61 L341.90,249.03 L342.40,249.44 L342.90,249.84 L343.40,250.23 L343.90,250.60 L344.40,250.96 L344.90,251.31 L345.40,251.65 L345.90,251.97 L346.40,252.28 L346.90,252.59 L347.40,252.88 L347.90,253.16 L348.40,253.43 L348.90,253.70 L349.40,253.95 L349.90,254.20 L350.40,254.44 L350.90,254.67 L351.40,254.90 L351.90,255.11 L352.40,255.33 L352.90,255.53 L353.40,255.73 L353.90,255.93 L354.40,256.12 L354.90,256.31 L355.40,256.49 L355.90,256.67 L356.40,256.85 L356.90,257.02 L357.40,257.19 L357.90,257.36 L358.40,257.52 L358.90,257.68 L359.40,257.84 L359.90,258.00 L360.40,258.15 L360.90,258.31 L361.40,258.46 L361.90,258.61 L361.90,258.61 L361.90,259.84 L361.90,259.84 L361.40,259.72 L360.90,259.60 L360.40,259.48 L359.90,259.36 L359.40,259.25 L358.90,259.13 L358.40,259.01 L357.90,258.89 L357.40,258.78 L356.90,258.66 L356.40,258.54 L355.90,258.43 L355.40,258.31 L354.90,258.19 L354.40,258.07 L353.90,257.96 L353.40,257.84 L352.90,257.72 L352.40,257.61 L351.90,257.49 L351.40,257.37 L350.90,257.26 L350.40,257.14 L349.90,257.02 L349.40,256.91 L348.90,256.79 L348.40,256.67 L347.90,256.56 L347.40,256.44 L346.90,256.32 L346.40,256.21 L345.90,256.09 L345.40,255.98 L344.90,255.86 L344.40,255.75 L343.90,255.63 L343.40,255.52 L342.90,255.40 L342.40,255.28 L341.90,255.17 L341.40,255.05 L340.90,254.94 L340.40,254.82 L339.90,254.71 L339.40,254.60 L338.90,254.48 L338.40,254.37 L337.90,254.25 L337.40,254.14 L336.90,254.02 L336.40,253.91 L335.90,253.80 L335.40,253.68 L334.90,253.57 L334.40,253.46 L333.90,253.34 L333.40,253.23 L332.90,253.12 L332.40,253.01 L331.90,252.89 L331.40,252.78 L330.90,252.67 L330.40,252.56 L329.90,252.44 L329.40,252.33 L328.90,252.22 L328.40,252.11 L327.90,252.00 L327.40,251.89 L326.90,251.78 L326.40,251.66 L325.90,251.55 L325.40,251.44 L324.90,251.33 L324.40,251.22 L323.90,251.11 L323.40,251.00 L322.90,250.89 L322.40,250.78 L321.90,250.67 L321.40,250.57 L320.90,250.46 L320.40,250.35 L319.90,250.24 L319.40,250.13 L318.90,250.02 L318.40,249.92 L317.90,249.81 L317.40,249.70 L316.90,249.59 L316.40,249.49 L315.90,249.38 L315.40,249.27 L314.90,249.17 L314.40,249.06 L313.90,248.95 L313.40,248.85 L312.90,248.74 L312.40,248.64 L311.90,248.53 L311.40,248.43 L310.90,248.32 L310.40,248.22 L309.90,248.11 L309.40,248.01 L308.90,247.91 L308.40,247.80 L307.90,247.70 L307.40,247.60 L306.90,247.49 L306.40,247.39 L305.90,247.29 L305.40,247.19 L304.90,247.08 L304.40,246.98 L303.90,246.88 L303.40,246.78 L302.90,246.68 L302.40,246.58 L301.90,246.48 L301.40,246.38 L300.90,246.28 L300.40,246.18 L299.90,246.08 L299.40,245.98 L298.90,245.88 L298.40,245.78 L297.90,245.69 L297.40,245.59 L296.90,245.49 L296.40,245.39 L295.90,245.30 L295.40,245.20 L294.90,245.10 L294.40,245.01 L293.90,244.91 L293.40,244.82 L292.90,244.72 L292.40,244.63 L291.90,244.53 L291.40,244.44 L290.90,244.35 L290.40,244.25 L289.90,244.16 L289.40,244.07 L288.90,243.97 L288.40,243.88 L287.90,243.79 L287.40,243.70 L286.90,243.61 L286.40,243.51 L285.90,243.42 L285.40,243.33 L284.90,243.24 L284.40,243.15 L283.90,243.06 L283.40,242.98 L282.90,242.89 L282.40,242.80 L281.90,242.71 L281.40,242.62 L280.90,242.54 L280.40,242.45 L279.90,242.36 L279.40,242.28 L278.90,242.19 L278.40,242.11 L277.90,242.02 L277.40,241.94 L276.90,241.85 L276.40,241.77 L275.90,241.68 L275.40,241.60 L274.90,241.52 L274.40,241.43 L273.90,241.35 L273.40,241.27 L272.90,241.19 L272.40,241.11 L271.90,241.03 L271.40,240.95 L270.90,240.87 L270.40,240.79 L269.90,240.71 L269.40,240.63 L268.90,240.55 L268.40,240.47 L267.90,240.40 L267.40,240.32 L266.90,240.24 L266.40,240.17 L265.90,240.09 L265.40,240.02 L264.90,239.94 L264.40,239.87 L263.90,239.79 L263.40,239.72 L262.90,239.64 L262.40,239.57 L261.90,239.50 L261.40,239.43 L260.90,239.36 L260.40,239.28 L259.90,239.21 L259.40,239.14 L258.90,239.07 L258.40,239.00 L257.90,238.94 L257.40,238.87 L256.90,238.80 L256.40,238.73 L255.90,238.66 L255.40,238.60 L254.90,238.53 L254.40,238.46 L253.90,238.40 L253.40,238.33 L252.90,238.27 L252.40,238.21 L251.90,238.14 L251.40,238.08 L250.90,238.02 L250.40,237.95 L249.90,237.89 L249.40,237.83 L248.90,237.77 L248.40,237.71 L247.90,237.65 L247.40,237.59 L246.90,237.53 L246.40,237.47 L245.90,237.42 L245.40,237.36 L244.90,237.30 L244.40,237.25 L243.90,237.19 L243.40,237.14 L242.90,237.08 L242.40,237.03 L241.90,236.97 L241.40,236.92 L240.90,236.87 L240.40,236.81 L239.90,236.76 L239.40,236.71 L238.90,236.66 L238.40,236.61 L237.90,236.56 L237.40,236.51 L236.90,236.46 L236.40,236.42 L235.90,236.37 L235.40,236.32 L234.90,236.27 L234.40,236.23 L233.90,236.18 L233.40,236.14 L232.90,236.09 L232.40,236.05 L231.90,236.01 L231.40,235.96 L230.90,235.92 L230.40,235.88 L229.90,235.84 L229.40,235.80 L228.90,235.76 L228.40,235.72 L227.90,235.68 L227.40,235.64 L226.90,235.60 L226.40,235.57 L225.90,235.53 L225.40,235.50 L224.90,235.46 L224.40,235.43 L223.90,235.39 L223.40,235.36 L222.90,235.32 L222.40,235.29 L221.90,235.26 L221.40,235.23 L220.90,235.20 L220.40,235.17 L219.90,235.14 L219.40,235.11 L218.90,235.08 L218.40,235.05 L217.90,235.03 Z" fill="#dcc0ea"/>
<path d="M217.90,234.98 L218.40,235.01 L218.90,235.03 L219.40,235.06 L219.90,235.09 L220.40,235.12 L220.90,235.14 L221.40,235.17 L221.90,235.20 L222.40,235.24 L222.90,235.27 L223.40,235.30 L223.90,235.33 L224.40,235.36 L224.90,235.40 L225.40,235.43 L225.90,235.47 L226.40,235.50 L226.90,235.54 L227.40,235.57 L227.90,235.61 L228.40,235.65 L228.90,235.68 L229.40,235.72 L229.90,235.76 L230.40,235.80 L230.90,235.84 L231.40,235.88 L231.90,235.92 L232.40,235.96 L232.90,236.00 L233.40,236.04 L233.90,236.08 L234.40,236.13 L234.90,236.17 L235.40,236.21 L235.90,236.26 L236.40,236.30 L236.90,236.34 L237.40,236.39 L237.90,236.43 L238.40,236.48 L238.90,236.53 L239.40,236.57 L239.90,236.62 L240.40,236.67 L240.90,236.71 L241.40,236.76 L241.90,236.81 L242.40,236.86 L242.90,236.90 L243.40,236.95 L243.90,237.00 L244.40,237.05 L244.90,237.10 L245.40,237.14 L245.90,237.19 L246.40,237.24 L246.90,237.29 L247.40,237.33 L247.90,237.38 L248.40,237.42 L248.90,237.47 L249.40,237.51 L249.90,237.55 L250.40,237.59 L250.90,237.62 L251.40,237.64 L251.90,237.66 L252.40,237.67 L252.90,237.66 L253.40,237.64 L253.90,237.59 L254.40,237.51 L254.90,237.39 L255.40,237.23 L255.90,237.02 L256.40,236.73 L256.90,236.37 L257.40,235.91 L257.90,235.36 L258.40,234.68 L258.90,233.87 L259.40,232.92 L259.90,231.83 L260.40,230.57 L260.90,229.17 L261.40,227.61 L261.90,225.92 L262.40,224.11 L262.90,222.19 L263.40,220.21 L263.90,218.21 L264.40,216.21 L264.90,214.28 L265.40,212.46 L265.90,210.81 L266.40,209.38 L266.90,208.22 L267.40,207.39 L267.90,206.90 L268.40,206.79 L268.90,207.01 L269.40,207.50 L269.90,208.25 L270.40,209.25 L270.90,210.47 L271.40,211.87 L271.90,213.43 L272.40,215.11 L272.90,216.88 L273.40,218.70 L273.90,220.56 L274.40,222.41 L274.90,224.23 L275.40,226.00 L275.90,227.71 L276.40,229.32 L276.90,230.85 L277.40,232.26 L277.90,233.57 L278.40,234.77 L278.90,235.85 L279.40,236.83 L279.90,237.70 L280.40,238.47 L280.90,239.15 L281.40,239.76 L281.90,240.28 L282.40,240.74 L282.90,241.14 L283.40,241.49 L283.90,241.80 L284.40,242.07 L284.90,242.31 L285.40,242.52 L285.90,242.71 L286.40,242.88 L286.90,243.04 L287.40,243.18 L287.90,243.32 L288.40,243.45 L288.90,243.57 L289.40,243.69 L289.90,243.81 L290.40,243.92 L290.90,244.03 L291.40,244.14 L291.90,244.25 L292.40,244.35 L292.90,244.46 L293.40,244.57 L293.90,244.67 L294.40,244.78 L294.90,244.88 L295.40,244.98 L295.90,245.09 L296.40,245.19 L296.90,245.30 L297.40,245.40 L297.90,245.50 L298.40,245.61 L298.90,245.71 L299.40,245.82 L299.90,245.92 L300.40,246.02 L300.90,246.13 L301.40,246.23 L301.90,246.34 L302.40,246.44 L302.90,246.54 L303.40,246.65 L303.90,246.75 L304.40,246.86 L304.90,246.96 L305.40,247.07 L305.90,247.17 L306.40,247.28 L306.90,247.38 L307.40,247.49 L307.90,247.59 L308.40,247.70 L308.90,247.81 L309.40,247.91 L309.90,248.02 L310.40,248.12 L310.90,248.23 L311.40,248.34 L311.90,248.44 L312.40,248.55 L312.90,248.66 L313.40,248.77 L313.90,248.87 L314.40,248.98 L314.90,249.09 L315.40,249.20 L315.90,249.31 L316.40,249.41 L316.90,249.52 L317.40,249.63 L317.90,249.74 L318.40,249.85 L318.90,249.96 L319.40,250.07 L319.90,250.18 L320.40,250.29 L320.90,250.40 L321.40,250.51 L321.90,250.62 L322.40,250.73 L322.90,250.84 L323.40,250.95 L323.90,251.06 L324.40,251.17 L324.90,251.28 L325.40,251.39 L325.90,251.50 L326.40,251.62 L326.90,251.73 L327.40,251.84 L327.90,251.95 L328.40,252.06 L328.90,252.18 L329.40,252.29 L329.90,252.40 L330.40,252.51 L330.90,252.63 L331.40,252.74 L331.90,252.85 L332.40,252.96 L332.90,253.08 L333.40,253.19 L333.90,253.31 L334.40,253.42 L334.90,253.53 L335.40,253.65 L335.90,253.76 L336.40,253.88 L336.90,253.99 L337.40,254.10 L337.90,254.22 L338.40,254.33 L338.90,254.45 L339.40,254.56 L339.90,254.68 L340.40,254.79 L340.90,254.91 L341.40,255.02 L341.90,255.14 L342.40,255.25 L342.90,255.37 L343.40,255.49 L343.90,255.60 L344.40,255.72 L344.90,255.83 L345.40,255.95 L345.90,256.07 L346.40,256.18 L346.90,256.30 L347.40,256.41 L347.90,256.53 L348.40,256.65 L348.90,256.76 L349.40,256.88 L349.90,257.00 L350.40,257.11 L350.90,257.23 L351.40,257.35 L351.90,257.47 L352.40,257.58 L352.90,257.70 L353.40,257.82 L353.90,257.93 L354.40,258.05 L354.90,258.17 L355.40,258.29 L355.90,258.40 L356.40,258.52 L356.90,258.64 L357.40,258.76 L357.90,258.87 L358.40,258.99 L358.90,259.11 L359.40,259.23 L359.90,259.34 L360.40,259.46 L360.90,259.58 L361.40,259.70 L361.90,259.82 L361.90,259.82 L361.90,259.84 L361.90,259.84 L361.40,259.72 L360.90,259.60 L360.40,259.48 L359.90,259.36 L359.40,259.25 L358.90,259.13 L358.40,259.01 L357.90,258.89 L357.40,258.78 L356.90,258.66 L356.40,258.54 L355.90,258.43 L355.40,258.31 L354.90,258.19 L354.40,258.07 L353.90,257.96 L353.40,257.84 L352.90,257.72 L352.40,257.61 L351.90,257.49 L351.40,257.37 L350.90,257.26 L350.40,257.14 L349.90,257.02 L349.40,256.91 L348.90,256.79 L348.40,256.67 L347.90,256.56 L347.40,256.44 L346.90,256.32 L346.40,256.21 L345.90,256.09 L345.40,255.98 L344.90,255.86 L344.40,255.75 L343.90,255.63 L343.40,255.52 L342.90,255.40 L342.40,255.28 L341.90,255.17 L341.40,255.05 L340.90,254.94 L340.40,254.82 L339.90,254.71 L339.40,254.60 L338.90,254.48 L338.40,254.37 L337.90,254.25 L337.40,254.14 L336.90,254.02 L336.40,253.91 L335.90,253.80 L335.40,253.68 L334.90,253.57 L334.40,253.46 L333.90,253.34 L333.40,253.23 L332.90,253.12 L332.40,253.01 L331.90,252.89 L331.40,252.78 L330.90,252.67 L330.40,252.56 L329.90,252.44 L329.40,252.33 L328.90,252.22 L328.40,252.11 L327.90,252.00 L327.40,251.89 L326.90,251.78 L326.40,251.66 L325.90,251.55 L325.40,251.44 L324.90,251.33 L324.40,251.22 L323.90,251.11 L323.40,251.00 L322.90,250.89 L322.40,250.78 L321.90,250.67 L321.40,250.57 L320.90,250.46 L320.40,250.35 L319.90,250.24 L319.40,250.13 L318.90,250.02 L318.40,249.92 L317.90,249.81 L317.40,249.70 L316.90,249.59 L316.40,249.49 L315.90,249.38 L315.40,249.27 L314.90,249.17 L314.40,249.06 L313.90,248.95 L313.40,248.85 L312.90,248.74 L312.40,248.64 L311.90,248.53 L311.40,248.43 L310.90,248.32 L310.40,248.22 L309.90,248.11 L309.40,248.01 L308.90,247.91 L308.40,247.80 L307.90,247.70 L307.40,247.60 L306.90,247.49 L306.40,247.39 L305.90,247.29 L305.40,247.19 L304.90,247.08 L304.40,246.98 L303.90,246.88 L303.40,246.78 L302.90,246.68 L302.40,246.58 L301.90,246.48 L301.40,246.38 L300.90,246.28 L300.40,246.18 L299.90,246.08 L299.40,245.98 L298.90,245.88 L298.40,245.78 L297.90,245.69 L297.40,245.59 L296.90,245.49 L296.40,245.39 L295.90,245.30 L295.40,245.20 L294.90,245.10 L294.40,245.01 L293.90,244.91 L293.40,244.82 L292.90,244.72 L292.40,244.63 L291.90,244.53 L291.40,244.44 L290.90,244.35 L290.40,244.25 L289.90,244.16 L289.40,244.07 L288.90,243.97 L288.40,243.88 L287.90,243.79 L287.40,243.70 L286.90,243.61 L286.40,243.51 L285.90,243.42 L285.40,243.33 L284.90,243.24 L284.40,243.15 L283.90,243.06 L283.40,242.98 L282.90,242.89 L282.40,242.80 L281.90,242.71 L281.40,242.62 L280.90,242.54 L280.40,242.45 L279.90,242.36 L279.40,242.28 L278.90,242.19 L278.40,242.11 L277.90,242.02 L277.40,241.94 L276.90,241.85 L276.40,241.77 L275.90,241.68 L275.40,241.60 L274.90,241.52 L274.40,241.43 L273.90,241.35 L273.40,241.27 L272.90,241.19 L272.40,241.11 L271.90,241.03 L271.40,240.95 L270.90,240.87 L270.40,240.79 L269.90,240.71 L269.40,240.63 L268.90,240.55 L268.40,240.47 L267.90,240.40 L267.40,240.32 L266.90,240.24 L266.40,240.17 L265.90,240.09 L265.40,240.02 L264.90,239.94 L264.40,239.87 L263.90,239.79 L263.40,239.72 L262.90,239.64 L262.40,239.57 L261.90,239.50 L261.40,239.43 L260.90,239.36 L260.40,239.28 L259.90,239.21 L259.40,239.14 L258.90,239.07 L258.40,239.00 L257.90,238.94 L257.40,238.87 L256.90,238.80 L256.40,238.73 L255.90,238.66 L255.40,238.60 L254.90,238.53 L254.40,238.46 L253.90,238.40 L253.40,238.33 L252.90,238.27 L252.40,238.21 L251.90,238.14 L251.40,238.08 L250.90,238.02 L250.40,237.95 L249.90,237.89 L249.40,237.83 L248.90,237.77 L248.40,237.71 L247.90,237.65 L247.40,237.59 L246.90,237.53 L246.40,237.47 L245.90,237.42 L245.40,237.36 L244.90,237.30 L244.40,237.25 L243.90,237.19 L243.40,237.14 L242.90,237.08 L242.40,237.03 L241.90,236.97 L241.40,236.92 L240.90,236.87 L240.40,236.81 L239.90,236.76 L239.40,236.71 L238.90,236.66 L238.40,236.61 L237.90,236.56 L237.40,236.51 L236.90,236.46 L236.40,236.42 L235.90,236.37 L235.40,236.32 L234.90,236.27 L234.40,236.23 L233.90,236.18 L233.40,236.14 L232.90,236.09 L232.40,236.05 L231.90,236.01 L231.40,235.96 L230.90,235.92 L230.40,235.88 L229.90,235.84 L229.40,235.80 L228.90,235.76 L228.40,235.72 L227.90,235.68 L227.40,235.64 L226.90,235.60 L226.40,235.57 L225.90,235.53 L225.40,235.50 L224.90,235.46 L224.40,235.43 L223.90,235.39 L223.40,235.36 L222.90,235.32 L222.40,235.29 L221.90,235.26 L221.40,235.23 L220.90,235.20 L220.40,235.17 L219.90,235.14 L219.40,235.11 L218.90,235.08 L218.40,235.05 L217.90,235.03 Z" fill="#40c8cd"/>
<path d="M217.90,234.94 L218.40,234.97 L218.90,235.00 L219.40,235.03 L219.90,235.05 L220.40,235.08 L220.90,235.11 L221.40,235.14 L221.90,235.17 L222.40,235.20 L222.90,235.23 L223.40,235.27 L223.90,235.30 L224.40,235.33 L224.90,235.37 L225.40,235.40 L225.90,235.44 L226.40,235.47 L226.90,235.51 L227.40,235.55 L227.90,235.58 L228.40,235.62 L228.90,235.66 L229.40,235.70 L229.90,235.74 L230.40,235.78 L230.90,235.82 L231.40,235.86 L231.90,235.90 L232.40,235.94 L232.90,235.99 L233.40,236.03 L233.90,236.07 L234.40,236.12 L234.90,236.16 L235.40,236.21 L235.90,236.25 L236.40,236.30 L236.90,236.35 L237.40,236.39 L237.90,236.44 L238.40,236.49 L238.90,236.54 L239.40,236.59 L239.90,236.64 L240.40,236.69 L240.90,236.74 L241.40,236.79 L241.90,236.84 L242.40,236.89 L242.90,236.95 L243.40,237.00 L243.90,237.05 L244.40,237.11 L244.90,237.16 L245.40,237.22 L245.90,237.27 L246.40,237.33 L246.90,237.39 L247.40,237.44 L247.90,237.50 L248.40,237.56 L248.90,237.62 L249.40,237.68 L249.90,237.74 L250.40,237.80 L250.90,237.86 L251.40,237.92 L251.90,237.98 L252.40,238.04 L252.90,238.10 L253.40,238.16 L253.90,238.23 L254.40,238.29 L254.90,238.35 L255.40,238.42 L255.90,238.48 L256.40,238.55 L256.90,238.61 L257.40,238.68 L257.90,238.74 L258.40,238.81 L258.90,238.87 L259.40,238.94 L259.90,239.01 L260.40,239.08 L260.90,239.15 L261.40,239.21 L261.90,239.28 L262.40,239.35 L262.90,239.42 L263.40,239.49 L263.90,239.56 L264.40,239.63 L264.90,239.71 L265.40,239.78 L265.90,239.85 L266.40,239.92 L266.90,239.99 L267.40,240.07 L267.90,240.14 L268.40,240.21 L268.90,240.29 L269.40,240.36 L269.90,240.43 L270.40,240.51 L270.90,240.58 L271.40,240.66 L271.90,240.73 L272.40,240.81 L272.90,240.89 L273.40,240.96 L273.90,241.04 L274.40,241.12 L274.90,241.19 L275.40,241.27 L275.90,241.35 L276.40,241.43 L276.90,241.50 L277.40,241.58 L277.90,241.66 L278.40,241.74 L278.90,241.82 L279.40,241.90 L279.90,241.97 L280.40,242.05 L280.90,242.13 L281.40,242.21 L281.90,242.29 L282.40,242.37 L282.90,242.45 L283.40,242.53 L283.90,242.61 L284.40,242.69 L284.90,242.77 L285.40,242.85 L285.90,242.93 L286.40,243.01 L286.90,243.09 L287.40,243.17 L287.90,243.25 L288.40,243.33 L288.90,243.41 L289.40,243.49 L289.90,243.57 L290.40,243.65 L290.90,243.73 L291.40,243.81 L291.90,243.89 L292.40,243.96 L292.90,244.04 L293.40,244.12 L293.90,244.20 L294.40,244.28 L294.90,244.35 L295.40,244.43 L295.90,244.50 L296.40,244.58 L296.90,244.65 L297.40,244.73 L297.90,244.80 L298.40,244.87 L298.90,244.95 L299.40,245.02 L299.90,245.09 L300.40,245.16 L300.90,245.22 L301.40,245.29 L301.90,245.35 L302.40,245.42 L302.90,245.48 L303.40,245.54 L303.90,245.60 L304.40,245.65 L304.90,245.71 L305.40,245.76 L305.90,245.81 L306.40,245.85 L306.90,245.89 L307.40,245.92 L307.90,245.95 L308.40,245.97 L308.90,245.99 L309.40,245.99 L309.90,245.98 L310.40,245.96 L310.90,245.93 L311.40,245.87 L311.90,245.79 L312.40,245.69 L312.90,245.56 L313.40,245.39 L313.90,245.18 L314.40,244.93 L314.90,244.62 L315.40,244.26 L315.90,243.82 L316.40,243.31 L316.90,242.72 L317.40,242.03 L317.90,241.24 L318.40,240.33 L318.90,239.31 L319.40,238.16 L319.90,236.88 L320.40,235.46 L320.90,233.90 L321.40,232.20 L321.90,230.35 L322.40,228.36 L322.90,226.23 L323.40,223.98 L323.90,221.62 L324.40,219.15 L324.90,216.61 L325.40,214.01 L325.90,211.38 L326.40,208.74 L326.90,206.15 L327.40,203.62 L327.90,201.21 L328.40,198.96 L328.90,196.91 L329.40,195.12 L329.90,193.62 L330.40,192.46 L330.90,191.67 L331.40,191.28 L331.90,191.31 L332.40,191.77 L332.90,192.66 L333.40,193.96 L333.90,195.62 L334.40,197.60 L334.90,199.86 L335.40,202.35 L335.90,205.01 L336.40,207.81 L336.90,210.68 L337.40,213.60 L337.90,216.52 L338.40,219.42 L338.90,222.26 L339.40,225.01 L339.90,227.66 L340.40,230.19 L340.90,232.59 L341.40,234.85 L341.90,236.96 L342.40,238.92 L342.90,240.72 L343.40,242.38 L343.90,243.90 L344.40,245.27 L344.90,246.52 L345.40,247.64 L345.90,248.65 L346.40,249.55 L346.90,250.36 L347.40,251.08 L347.90,251.72 L348.40,252.30 L348.90,252.82 L349.40,253.28 L349.90,253.70 L350.40,254.08 L350.90,254.42 L351.40,254.73 L351.90,255.02 L352.40,255.29 L352.90,255.54 L353.40,255.78 L353.90,256.00 L354.40,256.22 L354.90,256.42 L355.40,256.62 L355.90,256.80 L356.40,256.99 L356.90,257.17 L357.40,257.34 L357.90,257.51 L358.40,257.68 L358.90,257.84 L359.40,258.00 L359.90,258.16 L360.40,258.32 L360.90,258.47 L361.40,258.63 L361.90,258.78 L361.90,258.78 L361.90,259.84 L361.90,259.84 L361.40,259.72 L360.90,259.60 L360.40,259.48 L359.90,259.36 L359.40,259.25 L358.90,259.13 L358.40,259.01 L357.90,258.89 L357.40,258.78 L356.90,258.66 L356.40,258.54 L355.90,258.43 L355.40,258.31 L354.90,258.19 L354.40,258.07 L353.90,257.96 L353.40,257.84 L352.90,257.72 L352.40,257.61 L351.90,257.49 L351.40,257.37 L350.90,257.26 L350.40,257.14 L349.90,257.02 L349.40,256.91 L348.90,256.79 L348.40,256.67 L347.90,256.56 L347.40,256.44 L346.90,256.32 L346.40,256.21 L345.90,256.09 L345.40,255.98 L344.90,255.86 L344.40,255.75 L343.90,255.63 L343.40,255.52 L342.90,255.40 L342.40,255.28 L341.90,255.17 L341.40,255.05 L340.90,254.94 L340.40,254.82 L339.90,254.71 L339.40,254.60 L338.90,254.48 L338.40,254.37 L337.90,254.25 L337.40,254.14 L336.90,254.02 L336.40,253.91 L335.90,253.80 L335.40,253.68 L334.90,253.57 L334.40,253.46 L333.90,253.34 L333.40,253.23 L332.90,253.12 L332.40,253.01 L331.90,252.89 L331.40,252.78 L330.90,252.67 L330.40,252.56 L329.90,252.44 L329.40,252.33 L328.90,252.22 L328.40,252.11 L327.90,252.00 L327.40,251.89 L326.90,251.78 L326.40,251.66 L325.90,251.55 L325.40,251.44 L324.90,251.33 L324.40,251.22 L323.90,251.11 L323.40,251.00 L322.90,250.89 L322.40,250.78 L321.90,250.67 L321.40,250.57 L320.90,250.46 L320.40,250.35 L319.90,250.24 L319.40,250.13 L318.90,250.02 L318.40,249.92 L317.90,249.81 L317.40,249.70 L316.90,249.59 L316.40,249.49 L315.90,249.38 L315.40,249.27 L314.90,249.17 L314.40,249.06 L313.90,248.95 L313.40,248.85 L312.90,248.74 L312.40,248.64 L311.90,248.53 L311.40,248.43 L310.90,248.32 L310.40,248.22 L309.90,248.11 L309.40,248.01 L308.90,247.91 L308.40,247.80 L307.90,247.70 L307.40,247.60 L306.90,247.49 L306.40,247.39 L305.90,247.29 L305.40,247.19 L304.90,247.08 L304.40,246.98 L303.90,246.88 L303.40,246.78 L302.90,246.68 L302.40,246.58 L301.90,246.48 L301.40,246.38 L300.90,246.28 L300.40,246.18 L299.90,246.08 L299.40,245.98 L298.90,245.88 L298.40,245.78 L297.90,245.69 L297.40,245.59 L296.90,245.49 L296.40,245.39 L295.90,245.30 L295.40,245.20 L294.90,245.10 L294.40,245.01 L293.90,244.91 L293.40,244.82 L292.90,244.72 L292.40,244.63 L291.90,244.53 L291.40,244.44 L290.90,244.35 L290.40,244.25 L289.90,244.16 L289.40,244.07 L288.90,243.97 L288.40,243.88 L287.90,243.79 L287.40,243.70 L286.90,243.61 L286.40,243.51 L285.90,243.42 L285.40,243.33 L284.90,243.24 L284.40,243.15 L283.90,243.06 L283.40,242.98 L282.90,242.89 L282.40,242.80 L281.90,242.71 L281.40,242.62 L280.90,242.54 L280.40,242.45 L279.90,242.36 L279.40,242.28 L278.90,242.19 L278.40,242.11 L277.90,242.02 L277.40,241.94 L276.90,241.85 L276.40,241.77 L275.90,241.68 L275.40,241.60 L274.90,241.52 L274.40,241.43 L273.90,241.35 L273.40,241.27 L272.90,241.19 L272.40,241.11 L271.90,241.03 L271.40,240.95 L270.90,240.87 L270.40,240.79 L269.90,240.71 L269.40,240.63 L268.90,240.55 L268.40,240.47 L267.90,240.40 L267.40,240.32 L266.90,240.24 L266.40,240.17 L265.90,240.09 L265.40,240.02 L264.90,239.94 L264.40,239.87 L263.90,239.79 L263.40,239.72 L262.90,239.64 L262.40,239.57 L261.90,239.50 L261.40,239.43 L260.90,239.36 L260.40,239.28 L259.90,239.21 L259.40,239.14 L258.90,239.07 L258.40,239.00 L257.90,238.94 L257.40,238.87 L256.90,238.80 L256.40,238.73 L255.90,238.66 L255.40,238.60 L254.90,238.53 L254.40,238.46 L253.90,238.40 L253.40,238.33 L252.90,238.27 L252.40,238.21 L251.90,238.14 L251.40,238.08 L250.90,238.02 L250.40,237.95 L249.90,237.89 L249.40,237.83 L248.90,237.77 L248.40,237.71 L247.90,237.65 L247.40,237.59 L246.90,237.53 L246.40,237.47 L245.90,237.42 L245.40,237.36 L244.90,237.30 L244.40,237.25 L243.90,237.19 L243.40,237.14 L242.90,237.08 L242.40,237.03 L241.90,236.97 L241.40,236.92 L240.90,236.87 L240.40,236.81 L239.90,236.76 L239.40,236.71 L238.90,236.66 L238.40,236.61 L237.90,236.56 L237.40,236.51 L236.90,236.46 L236.40,236.42 L235.90,236.37 L235.40,236.32 L234.90,236.27 L234.40,236.23 L233.90,236.18 L233.40,236.14 L232.90,236.09 L232.40,236.05 L231.90,236.01 L231.40,235.96 L230.90,235.92 L230.40,235.88 L229.90,235.84 L229.40,235.80 L228.90,235.76 L228.40,235.72 L227.90,235.68 L227.40,235.64 L226.90,235.60 L226.40,235.57 L225.90,235.53 L225.40,235.50 L224.90,235.46 L224.40,235.43 L223.90,235.39 L223.40,235.36 L222.90,235.32 L222.40,235.29 L221.90,235.26 L221.40,235.23 L220.90,235.20 L220.40,235.17 L219.90,235.14 L219.40,235.11 L218.90,235.08 L218.40,235.05 L217.90,235.03 Z" fill="#40c8cd"/>
<polyline points="217.90,234.98 218.40,235.01 218.90,235.03 219.40,235.06 219.90,235.09 220.40,235.12 220.90,235.14 221.40,235.17 221.90,235.20 222.40,235.24 222.90,235.27 223.40,235.30 223.90,235.33 224.40,235.36 224.90,235.40 225.40,235.43 225.90,235.47 226.40,235.50 226.90,235.54 227.40,235.57 227.90,235.61 228.40,235.65 228.90,235.68 229.40,235.72 229.90,235.76 230.40,235.80 230.90,235.84 231.40,235.88 231.90,235.92 232.40,235.96 232.90,236.00 233.40,236.04 233.90,236.08 234.40,236.13 234.90,236.17 235.40,236.21 235.90,236.26 236.40,236.30 236.90,236.34 237.40,236.39 237.90,236.43 238.40,236.48 238.90,236.53 239.40,236.57 239.90,236.62 240.40,236.67 240.90,236.71 241.40,236.76 241.90,236.81 242.40,236.86 242.90,236.90 243.40,236.95 243.90,237.00 244.40,237.05 244.90,237.10 245.40,237.14 245.90,237.19 246.40,237.24 246.90,237.29 247.40,237.33 247.90,237.38 248.40,237.42 248.90,237.47 249.40,237.51 249.90,237.55 250.40,237.59 250.90,237.62 251.40,237.64 251.90,237.66 252.40,237.67 252.90,237.66 253.40,237.64 253.90,237.59 254.40,237.51 254.90,237.39 255.40,237.23 255.90,237.02 256.40,236.73 256.90,236.37 257.40,235.91 257.90,235.36 258.40,234.68 258.90,233.87 259.40,232.92 259.90,231.83 260.40,230.57 260.90,229.17 261.40,227.61 261.90,225.92 262.40,224.11 262.90,222.19 263.40,220.21 263.90,218.21 264.40,216.21 264.90,214.28 265.40,212.46 265.90,210.81 266.40,209.38 266.90,208.22 267.40,207.39 267.90,206.90 268.40,206.79 268.90,207.01 269.40,207.50 269.90,208.25 270.40,209.25 270.90,210.47 271.40,211.87 271.90,213.43 272.40,215.11 272.90,216.88 273.40,218.70 273.90,220.56 274.40,222.41 274.90,224.23 275.40,226.00 275.90,227.71 276.40,229.32 276.90,230.85 277.40,232.26 277.90,233.57 278.40,234.77 278.90,235.85 279.40,236.83 279.90,237.70 280.40,238.47 280.90,239.15 281.40,239.76 281.90,240.28 282.40,240.74 282.90,241.14 283.40,241.49 283.90,241.80 284.40,242.07 284.90,242.31 285.40,242.52 285.90,242.71 286.40,242.88 286.90,243.04 287.40,243.18 287.90,243.32 288.40,243.45 288.90,243.57 289.40,243.69 289.90,243.81 290.40,243.92 290.90,244.03 291.40,244.14 291.90,244.25 292.40,244.35 292.90,244.46 293.40,244.57 293.90,244.67 294.40,244.78 294.90,244.88 295.40,244.98 295.90,245.09 296.40,245.19 296.90,245.30 297.40,245.40 297.90,245.50 298.40,245.61 298.90,245.71 299.40,245.82 299.90,245.92 300.40,246.02 300.90,246.13 301.40,246.23 301.90,246.34 302.40,246.44 302.90,246.54 303.40,246.65 303.90,246.75 304.40,246.86 304.90,246.96 305.40,247.07 305.90,247.17 306.40,247.28 306.90,247.38 307.40,247.49 307.90,247.59 308.40,247.70 308.90,247.81 309.40,247.91 309.90,248.02 310.40,248.12 310.90,248.23 311.40,248.34 311.90,248.44 312.40,248.55 312.90,248.66 313.40,248.77 313.90,248.87 314.40,248.98 314.90,249.09 315.40,249.20 315.90,249.31 316.40,249.41 316.90,249.52 317.40,249.63 317.90,249.74 318.40,249.85 318.90,249.96 319.40,250.07 319.90,250.18 320.40,250.29 320.90,250.40 321.40,250.51 321.90,250.62 322.40,250.73 322.90,250.84 323.40,250.95 323.90,251.06 324.40,251.17 324.90,251.28 325.40,251.39 325.90,251.50 326.40,251.62 326.90,251.73 327.40,251.84 327.90,251.95 328.40,252.06 328.90,252.18 329.40,252.29 329.90,252.40 330.40,252.51 330.90,252.63 331.40,252.74 331.90,252.85 332.40,252.96 332.90,253.08 333.40,253.19 333.90,253.31 334.40,253.42 334.90,253.53 335.40,253.65 335.90,253.76 336.40,253.88 336.90,253.99 337.40,254.10 337.90,254.22 338.40,254.33 338.90,254.45 339.40,254.56 339.90,254.68 340.40,254.79 340.90,254.91 341.40,255.02 341.90,255.14 342.40,255.25 342.90,255.37 343.40,255.49 343.90,255.60 344.40,255.72 344.90,255.83 345.40,255.95 345.90,256.07 346.40,256.18 346.90,256.30 347.40,256.41 347.90,256.53 348.40,256.65 348.90,256.76 349.40,256.88 349.90,257.00 350.40,257.11 350.90,257.23 351.40,257.35 351.90,257.47 352.40,257.58 352.90,257.70 353.40,257.82 353.90,257.93 354.40,258.05 354.90,258.17 355.40,258.29 355.90,258.40 356.40,258.52 356.90,258.64 357.40,258.76 357.90,258.87 358.40,258.99 358.90,259.11 359.40,259.23 359.90,259.34 360.40,259.46 360.90,259.58 361.40,259.70 361.90,259.82 361.90,259.82" fill="none" stroke="#3a7cc8" stroke-width="0.9" stroke-linejoin="round" stroke-linecap="round" />
<polyline points="217.90,234.94 218.40,234.97 218.90,235.00 219.40,235.03 219.90,235.05 220.40,235.08 220.90,235.11 221.40,235.14 221.90,235.17 222.40,235.20 222.90,235.23 223.40,235.27 223.90,235.30 224.40,235.33 224.90,235.37 225.40,235.40 225.90,235.44 226.40,235.47 226.90,235.51 227.40,235.55 227.90,235.58 228.40,235.62 228.90,235.66 229.40,235.70 229.90,235.74 230.40,235.78 230.90,235.82 231.40,235.86 231.90,235.90 232.40,235.94 232.90,235.99 233.40,236.03 233.90,236.07 234.40,236.12 234.90,236.16 235.40,236.21 235.90,236.25 236.40,236.30 236.90,236.35 237.40,236.39 237.90,236.44 238.40,236.49 238.90,236.54 239.40,236.59 239.90,236.64 240.40,236.69 240.90,236.74 241.40,236.79 241.90,236.84 242.40,236.89 242.90,236.95 243.40,237.00 243.90,237.05 244.40,237.11 244.90,237.16 245.40,237.22 245.90,237.27 246.40,237.33 246.90,237.39 247.40,237.44 247.90,237.50 248.40,237.56 248.90,237.62 249.40,237.68 249.90,237.74 250.40,237.80 250.90,237.86 251.40,237.92 251.90,237.98 252.40,238.04 252.90,238.10 253.40,238.16 253.90,238.23 254.40,238.29 254.90,238.35 255.40,238.42 255.90,238.48 256.40,238.55 256.90,238.61 257.40,238.68 257.90,238.74 258.40,238.81 258.90,238.87 259.40,238.94 259.90,239.01 260.40,239.08 260.90,239.15 261.40,239.21 261.90,239.28 262.40,239.35 262.90,239.42 263.40,239.49 263.90,239.56 264.40,239.63 264.90,239.71 265.40,239.78 265.90,239.85 266.40,239.92 266.90,239.99 267.40,240.07 267.90,240.14 268.40,240.21 268.90,240.29 269.40,240.36 269.90,240.43 270.40,240.51 270.90,240.58 271.40,240.66 271.90,240.73 272.40,240.81 272.90,240.89 273.40,240.96 273.90,241.04 274.40,241.12 274.90,241.19 275.40,241.27 275.90,241.35 276.40,241.43 276.90,241.50 277.40,241.58 277.90,241.66 278.40,241.74 278.90,241.82 279.40,241.90 279.90,241.97 280.40,242.05 280.90,242.13 281.40,242.21 281.90,242.29 282.40,242.37 282.90,242.45 283.40,242.53 283.90,242.61 284.40,242.69 284.90,242.77 285.40,242.85 285.90,242.93 286.40,243.01 286.90,243.09 287.40,243.17 287.90,243.25 288.40,243.33 288.90,243.41 289.40,243.49 289.90,243.57 290.40,243.65 290.90,243.73 291.40,243.81 291.90,243.89 292.40,243.96 292.90,244.04 293.40,244.12 293.90,244.20 294.40,244.28 294.90,244.35 295.40,244.43 295.90,244.50 296.40,244.58 296.90,244.65 297.40,244.73 297.90,244.80 298.40,244.87 298.90,244.95 299.40,245.02 299.90,245.09 300.40,245.16 300.90,245.22 301.40,245.29 301.90,245.35 302.40,245.42 302.90,245.48 303.40,245.54 303.90,245.60 304.40,245.65 304.90,245.71 305.40,245.76 305.90,245.81 306.40,245.85 306.90,245.89 307.40,245.92 307.90,245.95 308.40,245.97 308.90,245.99 309.40,245.99 309.90,245.98 310.40,245.96 310.90,245.93 311.40,245.87 311.90,245.79 312.40,245.69 312.90,245.56 313.40,245.39 313.90,245.18 314.40,244.93 314.90,244.62 315.40,244.26 315.90,243.82 316.40,243.31 316.90,242.72 317.40,242.03 317.90,241.24 318.40,240.33 318.90,239.31 319.40,238.16 319.90,236.88 320.40,235.46 320.90,233.90 321.40,232.20 321.90,230.35 322.40,228.36 322.90,226.23 323.40,223.98 323.90,221.62 324.40,219.15 324.90,216.61 325.40,214.01 325.90,211.38 326.40,208.74 326.90,206.15 327.40,203.62 327.90,201.21 328.40,198.96 328.90,196.91 329.40,195.12 329.90,193.62 330.40,192.46 330.90,191.67 331.40,191.28 331.90,191.31 332.40,191.77 332.90,192.66 333.40,193.96 333.90,195.62 334.40,197.60 334.90,199.86 335.40,202.35 335.90,205.01 336.40,207.81 336.90,210.68 337.40,213.60 337.90,216.52 338.40,219.42 338.90,222.26 339.40,225.01 339.90,227.66 340.40,230.19 340.90,232.59 341.40,234.85 341.90,236.96 342.40,238.92 342.90,240.72 343.40,242.38 343.90,243.90 344.40,245.27 344.90,246.52 345.40,247.64 345.90,248.65 346.40,249.55 346.90,250.36 347.40,251.08 347.90,251.72 348.40,252.30 348.90,252.82 349.40,253.28 349.90,253.70 350.40,254.08 350.90,254.42 351.40,254.73 351.90,255.02 352.40,255.29 352.90,255.54 353.40,255.78 353.90,256.00 354.40,256.22 354.90,256.42 355.40,256.62 355.90,256.80 356.40,256.99 356.90,257.17 357.40,257.34 357.90,257.51 358.40,257.68 358.90,257.84 359.40,258.00 359.90,258.16 360.40,258.32 360.90,258.47 361.40,258.63 361.90,258.78 361.90,258.78" fill="none" stroke="#3a7cc8" stroke-width="0.9" stroke-linejoin="round" stroke-linecap="round" />
<linearGradient id="g1" gradientUnits="userSpaceOnUse" x1="0" y1="223.9" x2="0" y2="259.8"><stop offset="0" stop-color="#9aa3d6"/><stop offset="1" stop-color="#7579c0"/></linearGradient>
<path d="M217.90,234.98 L218.40,235.01 L218.90,235.03 L219.40,235.06 L219.90,235.09 L220.40,235.12 L220.90,235.14 L221.40,235.17 L221.90,235.20 L222.40,235.24 L222.90,235.27 L223.40,235.30 L223.90,235.33 L224.40,235.36 L224.90,235.40 L225.40,235.43 L225.90,235.47 L226.40,235.50 L226.90,235.54 L227.40,235.57 L227.90,235.61 L228.40,235.65 L228.90,235.68 L229.40,235.72 L229.90,235.76 L230.40,235.80 L230.90,235.84 L231.40,235.88 L231.90,235.92 L232.40,235.96 L232.90,236.00 L233.40,236.04 L233.90,236.08 L234.40,236.13 L234.90,236.17 L235.40,236.21 L235.90,236.26 L236.40,236.30 L236.90,236.34 L237.40,236.39 L237.90,236.43 L238.40,236.48 L238.90,236.53 L239.40,236.57 L239.90,236.62 L240.40,236.67 L240.90,236.71 L241.40,236.76 L241.90,236.81 L242.40,236.86 L242.90,236.90 L243.40,236.95 L243.90,237.00 L244.40,237.05 L244.90,237.10 L245.40,237.14 L245.90,237.19 L246.40,237.24 L246.90,237.29 L247.40,237.33 L247.90,237.38 L248.40,237.42 L248.90,237.47 L249.40,237.51 L249.90,237.55 L250.40,237.59 L250.90,237.62 L251.40,237.64 L251.90,237.66 L252.40,237.67 L252.90,237.66 L253.40,237.64 L253.90,237.59 L254.40,237.51 L254.90,237.39 L255.40,237.23 L255.90,237.02 L256.40,236.73 L256.90,236.37 L257.40,235.91 L257.90,235.36 L258.40,234.68 L258.90,233.87 L259.40,232.92 L259.90,231.83 L260.40,230.57 L260.90,229.17 L261.40,227.61 L261.90,225.92 L262.40,224.11 L262.90,223.93 L263.40,224.16 L263.90,224.44 L264.40,224.76 L264.90,225.12 L265.40,225.51 L265.90,225.93 L266.40,226.38 L266.90,226.85 L267.40,227.35 L267.90,227.86 L268.40,228.38 L268.90,228.91 L269.40,229.45 L269.90,229.99 L270.40,230.54 L270.90,231.08 L271.40,231.62 L271.90,232.15 L272.40,232.68 L272.90,233.20 L273.40,233.71 L273.90,234.20 L274.40,234.69 L274.90,235.16 L275.40,235.61 L275.90,236.05 L276.40,236.48 L276.90,236.89 L277.40,237.29 L277.90,237.67 L278.40,238.03 L278.90,238.38 L279.40,238.72 L279.90,239.04 L280.40,239.34 L280.90,239.64 L281.40,239.91 L281.90,240.28 L282.40,240.74 L282.90,241.14 L283.40,241.49 L283.90,241.80 L284.40,242.07 L284.90,242.31 L285.40,242.52 L285.90,242.71 L286.40,242.88 L286.90,243.04 L287.40,243.18 L287.90,243.32 L288.40,243.45 L288.90,243.57 L289.40,243.69 L289.90,243.81 L290.40,243.92 L290.90,244.03 L291.40,244.14 L291.90,244.25 L292.40,244.35 L292.90,244.46 L293.40,244.57 L293.90,244.67 L294.40,244.78 L294.90,244.88 L295.40,244.98 L295.90,245.09 L296.40,245.19 L296.90,245.30 L297.40,245.40 L297.90,245.50 L298.40,245.61 L298.90,245.71 L299.40,245.82 L299.90,245.92 L300.40,246.02 L300.90,246.13 L301.40,246.23 L301.90,246.34 L302.40,246.44 L302.90,246.54 L303.40,246.65 L303.90,246.75 L304.40,246.86 L304.90,246.96 L305.40,247.07 L305.90,247.17 L306.40,247.28 L306.90,247.38 L307.40,247.49 L307.90,247.59 L308.40,247.70 L308.90,247.81 L309.40,247.91 L309.90,248.02 L310.40,248.12 L310.90,248.23 L311.40,248.34 L311.90,248.44 L312.40,248.55 L312.90,248.66 L313.40,248.77 L313.90,248.87 L314.40,248.98 L314.90,249.09 L315.40,249.20 L315.90,249.31 L316.40,249.41 L316.90,249.52 L317.40,249.63 L317.90,249.74 L318.40,249.85 L318.90,249.96 L319.40,250.07 L319.90,250.18 L320.40,250.29 L320.90,250.40 L321.40,250.51 L321.90,250.62 L322.40,250.73 L322.90,250.84 L323.40,250.95 L323.90,251.06 L324.40,251.17 L324.90,251.28 L325.40,251.39 L325.90,251.50 L326.40,251.62 L326.90,251.73 L327.40,251.84 L327.90,251.95 L328.40,252.06 L328.90,252.18 L329.40,252.29 L329.90,252.40 L330.40,252.51 L330.90,252.63 L331.40,252.74 L331.90,252.85 L332.40,252.96 L332.90,253.08 L333.40,253.19 L333.90,253.31 L334.40,253.42 L334.90,253.53 L335.40,253.65 L335.90,253.76 L336.40,253.88 L336.90,253.99 L337.40,254.10 L337.90,254.22 L338.40,254.33 L338.90,254.45 L339.40,254.56 L339.90,254.68 L340.40,254.79 L340.90,254.91 L341.40,255.02 L341.90,255.14 L342.40,255.25 L342.90,255.37 L343.40,255.49 L343.90,255.60 L344.40,255.72 L344.90,255.83 L345.40,255.95 L345.90,256.07 L346.40,256.18 L346.90,256.30 L347.40,256.41 L347.90,256.53 L348.40,256.65 L348.90,256.76 L349.40,256.88 L349.90,257.00 L350.40,257.11 L350.90,257.23 L351.40,257.35 L351.90,257.47 L352.40,257.58 L352.90,257.70 L353.40,257.82 L353.90,257.93 L354.40,258.05 L354.90,258.17 L355.40,258.29 L355.90,258.40 L356.40,258.52 L356.90,258.64 L357.40,258.76 L357.90,258.87 L358.40,258.99 L358.90,259.11 L359.40,259.23 L359.90,259.34 L360.40,259.46 L360.90,259.58 L361.40,259.70 L361.90,259.82 L361.90,259.82 L361.90,259.84 L361.90,259.84 L361.40,259.72 L360.90,259.60 L360.40,259.48 L359.90,259.36 L359.40,259.25 L358.90,259.13 L358.40,259.01 L357.90,258.89 L357.40,258.78 L356.90,258.66 L356.40,258.54 L355.90,258.43 L355.40,258.31 L354.90,258.19 L354.40,258.07 L353.90,257.96 L353.40,257.84 L352.90,257.72 L352.40,257.61 L351.90,257.49 L351.40,257.37 L350.90,257.26 L350.40,257.14 L349.90,257.02 L349.40,256.91 L348.90,256.79 L348.40,256.67 L347.90,256.56 L347.40,256.44 L346.90,256.32 L346.40,256.21 L345.90,256.09 L345.40,255.98 L344.90,255.86 L344.40,255.75 L343.90,255.63 L343.40,255.52 L342.90,255.40 L342.40,255.28 L341.90,255.17 L341.40,255.05 L340.90,254.94 L340.40,254.82 L339.90,254.71 L339.40,254.60 L338.90,254.48 L338.40,254.37 L337.90,254.25 L337.40,254.14 L336.90,254.02 L336.40,253.91 L335.90,253.80 L335.40,253.68 L334.90,253.57 L334.40,253.46 L333.90,253.34 L333.40,253.23 L332.90,253.12 L332.40,253.01 L331.90,252.89 L331.40,252.78 L330.90,252.67 L330.40,252.56 L329.90,252.44 L329.40,252.33 L328.90,252.22 L328.40,252.11 L327.90,252.00 L327.40,251.89 L326.90,251.78 L326.40,251.66 L325.90,251.55 L325.40,251.44 L324.90,251.33 L324.40,251.22 L323.90,251.11 L323.40,251.00 L322.90,250.89 L322.40,250.78 L321.90,250.67 L321.40,250.57 L320.90,250.46 L320.40,250.35 L319.90,250.24 L319.40,250.13 L318.90,250.02 L318.40,249.92 L317.90,249.81 L317.40,249.70 L316.90,249.59 L316.40,249.49 L315.90,249.38 L315.40,249.27 L314.90,249.17 L314.40,249.06 L313.90,248.95 L313.40,248.85 L312.90,248.74 L312.40,248.64 L311.90,248.53 L311.40,248.43 L310.90,248.32 L310.40,248.22 L309.90,248.11 L309.40,248.01 L308.90,247.91 L308.40,247.80 L307.90,247.70 L307.40,247.60 L306.90,247.49 L306.40,247.39 L305.90,247.29 L305.40,247.19 L304.90,247.08 L304.40,246.98 L303.90,246.88 L303.40,246.78 L302.90,246.68 L302.40,246.58 L301.90,246.48 L301.40,246.38 L300.90,246.28 L300.40,246.18 L299.90,246.08 L299.40,245.98 L298.90,245.88 L298.40,245.78 L297.90,245.69 L297.40,245.59 L296.90,245.49 L296.40,245.39 L295.90,245.30 L295.40,245.20 L294.90,245.10 L294.40,245.01 L293.90,244.91 L293.40,244.82 L292.90,244.72 L292.40,244.63 L291.90,244.53 L291.40,244.44 L290.90,244.35 L290.40,244.25 L289.90,244.16 L289.40,244.07 L288.90,243.97 L288.40,243.88 L287.90,243.79 L287.40,243.70 L286.90,243.61 L286.40,243.51 L285.90,243.42 L285.40,243.33 L284.90,243.24 L284.40,243.15 L283.90,243.06 L283.40,242.98 L282.90,242.89 L282.40,242.80 L281.90,242.71 L281.40,242.62 L280.90,242.54 L280.40,242.45 L279.90,242.36 L279.40,242.28 L278.90,242.19 L278.40,242.11 L277.90,242.02 L277.40,241.94 L276.90,241.85 L276.40,241.77 L275.90,241.68 L275.40,241.60 L274.90,241.52 L274.40,241.43 L273.90,241.35 L273.40,241.27 L272.90,241.19 L272.40,241.11 L271.90,241.03 L271.40,240.95 L270.90,240.87 L270.40,240.79 L269.90,240.71 L269.40,240.63 L268.90,240.55 L268.40,240.47 L267.90,240.40 L267.40,240.32 L266.90,240.24 L266.40,240.17 L265.90,240.09 L265.40,240.02 L264.90,239.94 L264.40,239.87 L263.90,239.79 L263.40,239.72 L262.90,239.64 L262.40,239.57 L261.90,239.50 L261.40,239.43 L260.90,239.36 L260.40,239.28 L259.90,239.21 L259.40,239.14 L258.90,239.07 L258.40,239.00 L257.90,238.94 L257.40,238.87 L256.90,238.80 L256.40,238.73 L255.90,238.66 L255.40,238.60 L254.90,238.53 L254.40,238.46 L253.90,238.40 L253.40,238.33 L252.90,238.27 L252.40,238.21 L251.90,238.14 L251.40,238.08 L250.90,238.02 L250.40,237.95 L249.90,237.89 L249.40,237.83 L248.90,237.77 L248.40,237.71 L247.90,237.65 L247.40,237.59 L246.90,237.53 L246.40,237.47 L245.90,237.42 L245.40,237.36 L244.90,237.30 L244.40,237.25 L243.90,237.19 L243.40,237.14 L242.90,237.08 L242.40,237.03 L241.90,236.97 L241.40,236.92 L240.90,236.87 L240.40,236.81 L239.90,236.76 L239.40,236.71 L238.90,236.66 L238.40,236.61 L237.90,236.56 L237.40,236.51 L236.90,236.46 L236.40,236.42 L235.90,236.37 L235.40,236.32 L234.90,236.27 L234.40,236.23 L233.90,236.18 L233.40,236.14 L232.90,236.09 L232.40,236.05 L231.90,236.01 L231.40,235.96 L230.90,235.92 L230.40,235.88 L229.90,235.84 L229.40,235.80 L228.90,235.76 L228.40,235.72 L227.90,235.68 L227.40,235.64 L226.90,235.60 L226.40,235.57 L225.90,235.53 L225.40,235.50 L224.90,235.46 L224.40,235.43 L223.90,235.39 L223.40,235.36 L222.90,235.32 L222.40,235.29 L221.90,235.26 L221.40,235.23 L220.90,235.20 L220.40,235.17 L219.90,235.14 L219.40,235.11 L218.90,235.08 L218.40,235.05 L217.90,235.03 Z" fill="url(#g1)"/>
<linearGradient id="g2" gradientUnits="userSpaceOnUse" x1="0" y1="234.9" x2="0" y2="259.8"><stop offset="0" stop-color="#9aa3d6"/><stop offset="1" stop-color="#7579c0"/></linearGradient>
<path d="M217.90,234.94 L218.40,234.97 L218.90,235.00 L219.40,235.03 L219.90,235.05 L220.40,235.08 L220.90,235.11 L221.40,235.14 L221.90,235.17 L222.40,235.20 L222.90,235.23 L223.40,235.27 L223.90,235.30 L224.40,235.33 L224.90,235.37 L225.40,235.40 L225.90,235.44 L226.40,235.47 L226.90,235.51 L227.40,235.55 L227.90,235.58 L228.40,235.62 L228.90,235.66 L229.40,235.70 L229.90,235.74 L230.40,235.78 L230.90,235.82 L231.40,235.86 L231.90,235.90 L232.40,235.94 L232.90,235.99 L233.40,236.03 L233.90,236.07 L234.40,236.12 L234.90,236.16 L235.40,236.21 L235.90,236.25 L236.40,236.30 L236.90,236.35 L237.40,236.39 L237.90,236.44 L238.40,236.49 L238.90,236.54 L239.40,236.59 L239.90,236.64 L240.40,236.69 L240.90,236.74 L241.40,236.79 L241.90,236.84 L242.40,236.89 L242.90,236.95 L243.40,237.00 L243.90,237.05 L244.40,237.11 L244.90,237.16 L245.40,237.22 L245.90,237.27 L246.40,237.33 L246.90,237.39 L247.40,237.44 L247.90,237.50 L248.40,237.56 L248.90,237.62 L249.40,237.68 L249.90,237.74 L250.40,237.80 L250.90,237.86 L251.40,237.92 L251.90,237.98 L252.40,238.04 L252.90,238.10 L253.40,238.16 L253.90,238.23 L254.40,238.29 L254.90,238.35 L255.40,238.42 L255.90,238.48 L256.40,238.55 L256.90,238.61 L257.40,238.68 L257.90,238.74 L258.40,238.81 L258.90,238.87 L259.40,238.94 L259.90,239.01 L260.40,239.08 L260.90,239.15 L261.40,239.21 L261.90,239.28 L262.40,239.35 L262.90,239.42 L263.40,239.49 L263.90,239.56 L264.40,239.63 L264.90,239.71 L265.40,239.78 L265.90,239.85 L266.40,239.92 L266.90,239.99 L267.40,240.07 L267.90,240.14 L268.40,240.21 L268.90,240.29 L269.40,240.36 L269.90,240.43 L270.40,240.51 L270.90,240.58 L271.40,240.66 L271.90,240.73 L272.40,240.81 L272.90,240.89 L273.40,240.96 L273.90,241.04 L274.40,241.12 L274.90,241.19 L275.40,241.27 L275.90,241.35 L276.40,241.43 L276.90,241.50 L277.40,241.58 L277.90,241.66 L278.40,241.74 L278.90,241.82 L279.40,241.90 L279.90,241.97 L280.40,242.05 L280.90,242.13 L281.40,242.21 L281.90,242.29 L282.40,242.37 L282.90,242.45 L283.40,242.53 L283.90,242.61 L284.40,242.69 L284.90,242.77 L285.40,242.85 L285.90,242.93 L286.40,243.01 L286.90,243.09 L287.40,243.17 L287.90,243.25 L288.40,243.33 L288.90,243.41 L289.40,243.49 L289.90,243.57 L290.40,243.65 L290.90,243.73 L291.40,243.81 L291.90,243.89 L292.40,243.96 L292.90,244.04 L293.40,244.12 L293.90,244.21 L294.40,244.33 L294.90,244.45 L295.40,244.57 L295.90,244.69 L296.40,244.80 L296.90,244.91 L297.40,245.03 L297.90,245.14 L298.40,245.25 L298.90,245.37 L299.40,245.48 L299.90,245.59 L300.40,245.70 L300.90,245.81 L301.40,245.92 L301.90,246.03 L302.40,246.15 L302.90,246.26 L303.40,246.37 L303.90,246.48 L304.40,246.59 L304.90,246.70 L305.40,246.81 L305.90,246.92 L306.40,247.03 L306.90,247.14 L307.40,247.25 L307.90,247.36 L308.40,247.47 L308.90,247.58 L309.40,247.69 L309.90,247.80 L310.40,247.91 L310.90,248.02 L311.40,248.13 L311.90,248.24 L312.40,248.35 L312.90,248.46 L313.40,248.57 L313.90,248.68 L314.40,248.79 L314.90,248.90 L315.40,249.01 L315.90,249.13 L316.40,249.24 L316.90,249.35 L317.40,249.46 L317.90,249.57 L318.40,249.68 L318.90,249.80 L319.40,249.91 L319.90,250.02 L320.40,250.13 L320.90,250.24 L321.40,250.36 L321.90,250.47 L322.40,250.58 L322.90,250.69 L323.40,250.81 L323.90,250.92 L324.40,251.03 L324.90,251.14 L325.40,251.26 L325.90,251.37 L326.40,251.48 L326.90,251.60 L327.40,251.71 L327.90,251.83 L328.40,251.94 L328.90,252.05 L329.40,252.17 L329.90,252.28 L330.40,252.40 L330.90,252.51 L331.40,252.62 L331.90,252.74 L332.40,252.85 L332.90,252.97 L333.40,253.08 L333.90,253.20 L334.40,253.31 L334.90,253.43 L335.40,253.54 L335.90,253.66 L336.40,253.77 L336.90,253.89 L337.40,254.01 L337.90,254.12 L338.40,254.24 L338.90,254.35 L339.40,254.47 L339.90,254.59 L340.40,254.70 L340.90,254.82 L341.40,254.93 L341.90,255.05 L342.40,255.17 L342.90,255.28 L343.40,255.40 L343.90,255.52 L344.40,255.63 L344.90,255.75 L345.40,255.87 L345.90,255.99 L346.40,256.10 L346.90,256.22 L347.40,256.34 L347.90,256.45 L348.40,256.57 L348.90,256.69 L349.40,256.81 L349.90,256.92 L350.40,257.04 L350.90,257.16 L351.40,257.28 L351.90,257.39 L352.40,257.51 L352.90,257.63 L353.40,257.75 L353.90,257.87 L354.40,257.98 L354.90,258.10 L355.40,258.22 L355.90,258.34 L356.40,258.46 L356.90,258.58 L357.40,258.69 L357.90,258.81 L358.40,258.93 L358.90,259.05 L359.40,259.17 L359.90,259.28 L360.40,259.40 L360.90,259.52 L361.40,259.64 L361.90,259.76 L361.90,259.76 L361.90,259.84 L361.90,259.84 L361.40,259.72 L360.90,259.60 L360.40,259.48 L359.90,259.36 L359.40,259.25 L358.90,259.13 L358.40,259.01 L357.90,258.89 L357.40,258.78 L356.90,258.66 L356.40,258.54 L355.90,258.43 L355.40,258.31 L354.90,258.19 L354.40,258.07 L353.90,257.96 L353.40,257.84 L352.90,257.72 L352.40,257.61 L351.90,257.49 L351.40,257.37 L350.90,257.26 L350.40,257.14 L349.90,257.02 L349.40,256.91 L348.90,256.79 L348.40,256.67 L347.90,256.56 L347.40,256.44 L346.90,256.32 L346.40,256.21 L345.90,256.09 L345.40,255.98 L344.90,255.86 L344.40,255.75 L343.90,255.63 L343.40,255.52 L342.90,255.40 L342.40,255.28 L341.90,255.17 L341.40,255.05 L340.90,254.94 L340.40,254.82 L339.90,254.71 L339.40,254.60 L338.90,254.48 L338.40,254.37 L337.90,254.25 L337.40,254.14 L336.90,254.02 L336.40,253.91 L335.90,253.80 L335.40,253.68 L334.90,253.57 L334.40,253.46 L333.90,253.34 L333.40,253.23 L332.90,253.12 L332.40,253.01 L331.90,252.89 L331.40,252.78 L330.90,252.67 L330.40,252.56 L329.90,252.44 L329.40,252.33 L328.90,252.22 L328.40,252.11 L327.90,252.00 L327.40,251.89 L326.90,251.78 L326.40,251.66 L325.90,251.55 L325.40,251.44 L324.90,251.33 L324.40,251.22 L323.90,251.11 L323.40,251.00 L322.90,250.89 L322.40,250.78 L321.90,250.67 L321.40,250.57 L320.90,250.46 L320.40,250.35 L319.90,250.24 L319.40,250.13 L318.90,250.02 L318.40,249.92 L317.90,249.81 L317.40,249.70 L316.90,249.59 L316.40,249.49 L315.90,249.38 L315.40,249.27 L314.90,249.17 L314.40,249.06 L313.90,248.95 L313.40,248.85 L312.90,248.74 L312.40,248.64 L311.90,248.53 L311.40,248.43 L310.90,248.32 L310.40,248.22 L309.90,248.11 L309.40,248.01 L308.90,247.91 L308.40,247.80 L307.90,247.70 L307.40,247.60 L306.90,247.49 L306.40,247.39 L305.90,247.29 L305.40,247.19 L304.90,247.08 L304.40,246.98 L303.90,246.88 L303.40,246.78 L302.90,246.68 L302.40,246.58 L301.90,246.48 L301.40,246.38 L300.90,246.28 L300.40,246.18 L299.90,246.08 L299.40,245.98 L298.90,245.88 L298.40,245.78 L297.90,245.69 L297.40,245.59 L296.90,245.49 L296.40,245.39 L295.90,245.30 L295.40,245.20 L294.90,245.10 L294.40,245.01 L293.90,244.91 L293.40,244.82 L292.90,244.72 L292.40,244.63 L291.90,244.53 L291.40,244.44 L290.90,244.35 L290.40,244.25 L289.90,244.16 L289.40,244.07 L288.90,243.97 L288.40,243.88 L287.90,243.79 L287.40,243.70 L286.90,243.61 L286.40,243.51 L285.90,243.42 L285.40,243.33 L284.90,243.24 L284.40,243.15 L283.90,243.06 L283.40,242.98 L282.90,242.89 L282.40,242.80 L281.90,242.71 L281.40,242.62 L280.90,242.54 L280.40,242.45 L279.90,242.36 L279.40,242.28 L278.90,242.19 L278.40,242.11 L277.90,242.02 L277.40,241.94 L276.90,241.85 L276.40,241.77 L275.90,241.68 L275.40,241.60 L274.90,241.52 L274.40,241.43 L273.90,241.35 L273.40,241.27 L272.90,241.19 L272.40,241.11 L271.90,241.03 L271.40,240.95 L270.90,240.87 L270.40,240.79 L269.90,240.71 L269.40,240.63 L268.90,240.55 L268.40,240.47 L267.90,240.40 L267.40,240.32 L266.90,240.24 L266.40,240.17 L265.90,240.09 L265.40,240.02 L264.90,239.94 L264.40,239.87 L263.90,239.79 L263.40,239.72 L262.90,239.64 L262.40,239.57 L261.90,239.50 L261.40,239.43 L260.90,239.36 L260.40,239.28 L259.90,239.21 L259.40,239.14 L258.90,239.07 L258.40,239.00 L257.90,238.94 L257.40,238.87 L256.90,238.80 L256.40,238.73 L255.90,238.66 L255.40,238.60 L254.90,238.53 L254.40,238.46 L253.90,238.40 L253.40,238.33 L252.90,238.27 L252.40,238.21 L251.90,238.14 L251.40,238.08 L250.90,238.02 L250.40,237.95 L249.90,237.89 L249.40,237.83 L248.90,237.77 L248.40,237.71 L247.90,237.65 L247.40,237.59 L246.90,237.53 L246.40,237.47 L245.90,237.42 L245.40,237.36 L244.90,237.30 L244.40,237.25 L243.90,237.19 L243.40,237.14 L242.90,237.08 L242.40,237.03 L241.90,236.97 L241.40,236.92 L240.90,236.87 L240.40,236.81 L239.90,236.76 L239.40,236.71 L238.90,236.66 L238.40,236.61 L237.90,236.56 L237.40,236.51 L236.90,236.46 L236.40,236.42 L235.90,236.37 L235.40,236.32 L234.90,236.27 L234.40,236.23 L233.90,236.18 L233.40,236.14 L232.90,236.09 L232.40,236.05 L231.90,236.01 L231.40,235.96 L230.90,235.92 L230.40,235.88 L229.90,235.84 L229.40,235.80 L228.90,235.76 L228.40,235.72 L227.90,235.68 L227.40,235.64 L226.90,235.60 L226.40,235.57 L225.90,235.53 L225.40,235.50 L224.90,235.46 L224.40,235.43 L223.90,235.39 L223.40,235.36 L222.90,235.32 L222.40,235.29 L221.90,235.26 L221.40,235.23 L220.90,235.20 L220.40,235.17 L219.90,235.14 L219.40,235.11 L218.90,235.08 L218.40,235.05 L217.90,235.03 Z" fill="url(#g2)"/>
<linearGradient id="g3" gradientUnits="userSpaceOnUse" x1="0" y1="235.0" x2="0" y2="259.8"><stop offset="0" stop-color="#9aa3d6"/><stop offset="1" stop-color="#7579c0"/></linearGradient>
<path d="M217.90,234.98 L218.40,235.01 L218.90,235.03 L219.40,235.06 L219.90,235.09 L220.40,235.12 L220.90,235.14 L221.40,235.17 L221.90,235.20 L222.40,235.24 L222.90,235.27 L223.40,235.30 L223.90,235.33 L224.40,235.36 L224.90,235.40 L225.40,235.43 L225.90,235.47 L226.40,235.50 L226.90,235.54 L227.40,235.57 L227.90,235.61 L228.40,235.65 L228.90,235.68 L229.40,235.72 L229.90,235.76 L230.40,235.80 L230.90,235.84 L231.40,235.88 L231.90,235.92 L232.40,235.96 L232.90,236.00 L233.40,236.04 L233.90,236.08 L234.40,236.13 L234.90,236.17 L235.40,236.21 L235.90,236.26 L236.40,236.30 L236.90,236.34 L237.40,236.39 L237.90,236.43 L238.40,236.48 L238.90,236.53 L239.40,236.57 L239.90,236.62 L240.40,236.67 L240.90,236.71 L241.40,236.76 L241.90,236.81 L242.40,236.86 L242.90,236.90 L243.40,236.95 L243.90,237.00 L244.40,237.05 L244.90,237.10 L245.40,237.14 L245.90,237.19 L246.40,237.24 L246.90,237.29 L247.40,237.33 L247.90,237.38 L248.40,237.42 L248.90,237.47 L249.40,237.51 L249.90,237.55 L250.40,237.60 L250.90,237.66 L251.40,237.72 L251.90,237.78 L252.40,237.83 L252.90,237.89 L253.40,237.95 L253.90,238.01 L254.40,238.07 L254.90,238.13 L255.40,238.19 L255.90,238.25 L256.40,238.31 L256.90,238.38 L257.40,238.44 L257.90,238.50 L258.40,238.56 L258.90,238.62 L259.40,238.69 L259.90,238.75 L260.40,238.81 L260.90,238.88 L261.40,238.94 L261.90,239.01 L262.40,239.07 L262.90,239.14 L263.40,239.20 L263.90,239.27 L264.40,239.33 L264.90,239.40 L265.40,239.46 L265.90,239.53 L266.40,239.60 L266.90,239.66 L267.40,239.73 L267.90,239.80 L268.40,239.86 L268.90,239.93 L269.40,240.00 L269.90,240.06 L270.40,240.13 L270.90,240.20 L271.40,240.27 L271.90,240.33 L272.40,240.40 L272.90,240.47 L273.40,240.53 L273.90,240.60 L274.40,240.67 L274.90,240.74 L275.40,240.80 L275.90,240.87 L276.40,240.94 L276.90,241.00 L277.40,241.07 L277.90,241.14 L278.40,241.20 L278.90,241.27 L279.40,241.33 L279.90,241.40 L280.40,241.46 L280.90,241.53 L281.40,241.59 L281.90,241.65 L282.40,241.72 L282.90,241.78 L283.40,241.84 L283.90,241.90 L284.40,242.07 L284.90,242.31 L285.40,242.52 L285.90,242.71 L286.40,242.88 L286.90,243.04 L287.40,243.18 L287.90,243.32 L288.40,243.45 L288.90,243.57 L289.40,243.69 L289.90,243.81 L290.40,243.92 L290.90,244.03 L291.40,244.14 L291.90,244.25 L292.40,244.35 L292.90,244.46 L293.40,244.57 L293.90,244.67 L294.40,244.78 L294.90,244.88 L295.40,244.98 L295.90,245.09 L296.40,245.19 L296.90,245.30 L297.40,245.40 L297.90,245.50 L298.40,245.61 L298.90,245.71 L299.40,245.82 L299.90,245.92 L300.40,246.02 L300.90,246.13 L301.40,246.23 L301.90,246.34 L302.40,246.44 L302.90,246.54 L303.40,246.65 L303.90,246.75 L304.40,246.86 L304.90,246.96 L305.40,247.07 L305.90,247.17 L306.40,247.28 L306.90,247.38 L307.40,247.49 L307.90,247.59 L308.40,247.70 L308.90,247.81 L309.40,247.91 L309.90,248.02 L310.40,248.12 L310.90,248.23 L311.40,248.34 L311.90,248.44 L312.40,248.55 L312.90,248.66 L313.40,248.77 L313.90,248.87 L314.40,248.98 L314.90,249.09 L315.40,249.20 L315.90,249.31 L316.40,249.41 L316.90,249.52 L317.40,249.63 L317.90,249.74 L318.40,249.85 L318.90,249.96 L319.40,250.07 L319.90,250.18 L320.40,250.29 L320.90,250.40 L321.40,250.51 L321.90,250.62 L322.40,250.73 L322.90,250.84 L323.40,250.95 L323.90,251.06 L324.40,251.17 L324.90,251.28 L325.40,251.39 L325.90,251.50 L326.40,251.62 L326.90,251.73 L327.40,251.84 L327.90,251.95 L328.40,252.06 L328.90,252.18 L329.40,252.29 L329.90,252.40 L330.40,252.51 L330.90,252.63 L331.40,252.74 L331.90,252.85 L332.40,252.96 L332.90,253.08 L333.40,253.19 L333.90,253.31 L334.40,253.42 L334.90,253.53 L335.40,253.65 L335.90,253.76 L336.40,253.88 L336.90,253.99 L337.40,254.10 L337.90,254.22 L338.40,254.33 L338.90,254.45 L339.40,254.56 L339.90,254.68 L340.40,254.79 L340.90,254.91 L341.40,255.02 L341.90,255.14 L342.40,255.25 L342.90,255.37 L343.40,255.49 L343.90,255.60 L344.40,255.72 L344.90,255.83 L345.40,255.95 L345.90,256.07 L346.40,256.18 L346.90,256.30 L347.40,256.41 L347.90,256.53 L348.40,256.65 L348.90,256.76 L349.40,256.88 L349.90,257.00 L350.40,257.11 L350.90,257.23 L351.40,257.35 L351.90,257.47 L352.40,257.58 L352.90,257.70 L353.40,257.82 L353.90,257.93 L354.40,258.05 L354.90,258.17 L355.40,258.29 L355.90,258.40 L356.40,258.52 L356.90,258.64 L357.40,258.76 L357.90,258.87 L358.40,258.99 L358.90,259.11 L359.40,259.23 L359.90,259.34 L360.40,259.46 L360.90,259.58 L361.40,259.70 L361.90,259.82 L361.90,259.82 L361.90,259.84 L361.90,259.84 L361.40,259.72 L360.90,259.60 L360.40,259.48 L359.90,259.36 L359.40,259.25 L358.90,259.13 L358.40,259.01 L357.90,258.89 L357.40,258.78 L356.90,258.66 L356.40,258.54 L355.90,258.43 L355.40,258.31 L354.90,258.19 L354.40,258.07 L353.90,257.96 L353.40,257.84 L352.90,257.72 L352.40,257.61 L351.90,257.49 L351.40,257.37 L350.90,257.26 L350.40,257.14 L349.90,257.02 L349.40,256.91 L348.90,256.79 L348.40,256.67 L347.90,256.56 L347.40,256.44 L346.90,256.32 L346.40,256.21 L345.90,256.09 L345.40,255.98 L344.90,255.86 L344.40,255.75 L343.90,255.63 L343.40,255.52 L342.90,255.40 L342.40,255.28 L341.90,255.17 L341.40,255.05 L340.90,254.94 L340.40,254.82 L339.90,254.71 L339.40,254.60 L338.90,254.48 L338.40,254.37 L337.90,254.25 L337.40,254.14 L336.90,254.02 L336.40,253.91 L335.90,253.80 L335.40,253.68 L334.90,253.57 L334.40,253.46 L333.90,253.34 L333.40,253.23 L332.90,253.12 L332.40,253.01 L331.90,252.89 L331.40,252.78 L330.90,252.67 L330.40,252.56 L329.90,252.44 L329.40,252.33 L328.90,252.22 L328.40,252.11 L327.90,252.00 L327.40,251.89 L326.90,251.78 L326.40,251.66 L325.90,251.55 L325.40,251.44 L324.90,251.33 L324.40,251.22 L323.90,251.11 L323.40,251.00 L322.90,250.89 L322.40,250.78 L321.90,250.67 L321.40,250.57 L320.90,250.46 L320.40,250.35 L319.90,250.24 L319.40,250.13 L318.90,250.02 L318.40,249.92 L317.90,249.81 L317.40,249.70 L316.90,249.59 L316.40,249.49 L315.90,249.38 L315.40,249.27 L314.90,249.17 L314.40,249.06 L313.90,248.95 L313.40,248.85 L312.90,248.74 L312.40,248.64 L311.90,248.53 L311.40,248.43 L310.90,248.32 L310.40,248.22 L309.90,248.11 L309.40,248.01 L308.90,247.91 L308.40,247.80 L307.90,247.70 L307.40,247.60 L306.90,247.49 L306.40,247.39 L305.90,247.29 L305.40,247.19 L304.90,247.08 L304.40,246.98 L303.90,246.88 L303.40,246.78 L302.90,246.68 L302.40,246.58 L301.90,246.48 L301.40,246.38 L300.90,246.28 L300.40,246.18 L299.90,246.08 L299.40,245.98 L298.90,245.88 L298.40,245.78 L297.90,245.69 L297.40,245.59 L296.90,245.49 L296.40,245.39 L295.90,245.30 L295.40,245.20 L294.90,245.10 L294.40,245.01 L293.90,244.91 L293.40,244.82 L292.90,244.72 L292.40,244.63 L291.90,244.53 L291.40,244.44 L290.90,244.35 L290.40,244.25 L289.90,244.16 L289.40,244.07 L288.90,243.97 L288.40,243.88 L287.90,243.79 L287.40,243.70 L286.90,243.61 L286.40,243.51 L285.90,243.42 L285.40,243.33 L284.90,243.24 L284.40,243.15 L283.90,243.06 L283.40,242.98 L282.90,242.89 L282.40,242.80 L281.90,242.71 L281.40,242.62 L280.90,242.54 L280.40,242.45 L279.90,242.36 L279.40,242.28 L278.90,242.19 L278.40,242.11 L277.90,242.02 L277.40,241.94 L276.90,241.85 L276.40,241.77 L275.90,241.68 L275.40,241.60 L274.90,241.52 L274.40,241.43 L273.90,241.35 L273.40,241.27 L272.90,241.19 L272.40,241.11 L271.90,241.03 L271.40,240.95 L270.90,240.87 L270.40,240.79 L269.90,240.71 L269.40,240.63 L268.90,240.55 L268.40,240.47 L267.90,240.40 L267.40,240.32 L266.90,240.24 L266.40,240.17 L265.90,240.09 L265.40,240.02 L264.90,239.94 L264.40,239.87 L263.90,239.79 L263.40,239.72 L262.90,239.64 L262.40,239.57 L261.90,239.50 L261.40,239.43 L260.90,239.36 L260.40,239.28 L259.90,239.21 L259.40,239.14 L258.90,239.07 L258.40,239.00 L257.90,238.94 L257.40,238.87 L256.90,238.80 L256.40,238.73 L255.90,238.66 L255.40,238.60 L254.90,238.53 L254.40,238.46 L253.90,238.40 L253.40,238.33 L252.90,238.27 L252.40,238.21 L251.90,238.14 L251.40,238.08 L250.90,238.02 L250.40,237.95 L249.90,237.89 L249.40,237.83 L248.90,237.77 L248.40,237.71 L247.90,237.65 L247.40,237.59 L246.90,237.53 L246.40,237.47 L245.90,237.42 L245.40,237.36 L244.90,237.30 L244.40,237.25 L243.90,237.19 L243.40,237.14 L242.90,237.08 L242.40,237.03 L241.90,236.97 L241.40,236.92 L240.90,236.87 L240.40,236.81 L239.90,236.76 L239.40,236.71 L238.90,236.66 L238.40,236.61 L237.90,236.56 L237.40,236.51 L236.90,236.46 L236.40,236.42 L235.90,236.37 L235.40,236.32 L234.90,236.27 L234.40,236.23 L233.90,236.18 L233.40,236.14 L232.90,236.09 L232.40,236.05 L231.90,236.01 L231.40,235.96 L230.90,235.92 L230.40,235.88 L229.90,235.84 L229.40,235.80 L228.90,235.76 L228.40,235.72 L227.90,235.68 L227.40,235.64 L226.90,235.60 L226.40,235.57 L225.90,235.53 L225.40,235.50 L224.90,235.46 L224.40,235.43 L223.90,235.39 L223.40,235.36 L222.90,235.32 L222.40,235.29 L221.90,235.26 L221.40,235.23 L220.90,235.20 L220.40,235.17 L219.90,235.14 L219.40,235.11 L218.90,235.08 L218.40,235.05 L217.90,235.03 Z" fill="url(#g3)"/>
<linearGradient id="g4" gradientUnits="userSpaceOnUse" x1="0" y1="229.4" x2="0" y2="259.8"><stop offset="0" stop-color="#9aa3d6"/><stop offset="1" stop-color="#7579c0"/></linearGradient>
<path d="M217.90,234.94 L218.40,234.97 L218.90,235.00 L219.40,235.03 L219.90,235.05 L220.40,235.08 L220.90,235.11 L221.40,235.14 L221.90,235.17 L222.40,235.20 L222.90,235.23 L223.40,235.27 L223.90,235.30 L224.40,235.33 L224.90,235.37 L225.40,235.40 L225.90,235.44 L226.40,235.47 L226.90,235.51 L227.40,235.55 L227.90,235.58 L228.40,235.62 L228.90,235.66 L229.40,235.70 L229.90,235.74 L230.40,235.78 L230.90,235.82 L231.40,235.86 L231.90,235.90 L232.40,235.94 L232.90,235.99 L233.40,236.03 L233.90,236.07 L234.40,236.12 L234.90,236.16 L235.40,236.21 L235.90,236.25 L236.40,236.30 L236.90,236.35 L237.40,236.39 L237.90,236.44 L238.40,236.49 L238.90,236.54 L239.40,236.59 L239.90,236.64 L240.40,236.69 L240.90,236.74 L241.40,236.79 L241.90,236.84 L242.40,236.89 L242.90,236.95 L243.40,237.00 L243.90,237.05 L244.40,237.11 L244.90,237.16 L245.40,237.22 L245.90,237.27 L246.40,237.33 L246.90,237.39 L247.40,237.44 L247.90,237.50 L248.40,237.56 L248.90,237.62 L249.40,237.68 L249.90,237.74 L250.40,237.80 L250.90,237.86 L251.40,237.92 L251.90,237.98 L252.40,238.04 L252.90,238.10 L253.40,238.16 L253.90,238.23 L254.40,238.29 L254.90,238.35 L255.40,238.42 L255.90,238.48 L256.40,238.55 L256.90,238.61 L257.40,238.68 L257.90,238.74 L258.40,238.81 L258.90,238.87 L259.40,238.94 L259.90,239.01 L260.40,239.08 L260.90,239.15 L261.40,239.21 L261.90,239.28 L262.40,239.35 L262.90,239.42 L263.40,239.49 L263.90,239.56 L264.40,239.63 L264.90,239.71 L265.40,239.78 L265.90,239.85 L266.40,239.92 L266.90,239.99 L267.40,240.07 L267.90,240.14 L268.40,240.21 L268.90,240.29 L269.40,240.36 L269.90,240.43 L270.40,240.51 L270.90,240.58 L271.40,240.66 L271.90,240.73 L272.40,240.81 L272.90,240.89 L273.40,240.96 L273.90,241.04 L274.40,241.12 L274.90,241.19 L275.40,241.27 L275.90,241.35 L276.40,241.43 L276.90,241.50 L277.40,241.58 L277.90,241.66 L278.40,241.74 L278.90,241.82 L279.40,241.90 L279.90,241.97 L280.40,242.05 L280.90,242.13 L281.40,242.21 L281.90,242.29 L282.40,242.37 L282.90,242.45 L283.40,242.53 L283.90,242.61 L284.40,242.69 L284.90,242.77 L285.40,242.85 L285.90,242.93 L286.40,243.01 L286.90,243.09 L287.40,243.17 L287.90,243.25 L288.40,243.33 L288.90,243.41 L289.40,243.49 L289.90,243.57 L290.40,243.65 L290.90,243.73 L291.40,243.81 L291.90,243.89 L292.40,243.96 L292.90,244.04 L293.40,244.12 L293.90,244.20 L294.40,244.28 L294.90,244.35 L295.40,244.43 L295.90,244.50 L296.40,244.58 L296.90,244.65 L297.40,244.73 L297.90,244.80 L298.40,244.87 L298.90,244.95 L299.40,245.02 L299.90,245.09 L300.40,245.16 L300.90,245.22 L301.40,245.29 L301.90,245.35 L302.40,245.42 L302.90,245.48 L303.40,245.54 L303.90,245.60 L304.40,245.65 L304.90,245.71 L305.40,245.76 L305.90,245.81 L306.40,245.85 L306.90,245.89 L307.40,245.92 L307.90,245.95 L308.40,245.97 L308.90,245.99 L309.40,245.99 L309.90,245.98 L310.40,245.96 L310.90,245.93 L311.40,245.87 L311.90,245.79 L312.40,245.69 L312.90,245.56 L313.40,245.39 L313.90,245.18 L314.40,244.93 L314.90,244.62 L315.40,244.26 L315.90,243.82 L316.40,243.31 L316.90,242.72 L317.40,242.03 L317.90,241.24 L318.40,240.33 L318.90,239.31 L319.40,238.16 L319.90,236.88 L320.40,235.46 L320.90,233.90 L321.40,232.20 L321.90,230.35 L322.40,229.42 L322.90,229.56 L323.40,229.75 L323.90,229.99 L324.40,230.27 L324.90,230.60 L325.40,230.97 L325.90,231.38 L326.40,231.83 L326.90,232.30 L327.40,232.81 L327.90,233.34 L328.40,233.89 L328.90,234.47 L329.40,235.06 L329.90,235.66 L330.40,236.27 L330.90,236.89 L331.40,237.52 L331.90,238.14 L332.40,238.77 L332.90,239.39 L333.40,240.01 L333.90,240.63 L334.40,241.24 L334.90,241.84 L335.40,242.43 L335.90,243.02 L336.40,243.59 L336.90,244.15 L337.40,244.70 L337.90,245.23 L338.40,245.76 L338.90,246.27 L339.40,246.76 L339.90,247.24 L340.40,247.71 L340.90,248.17 L341.40,248.61 L341.90,249.03 L342.40,249.44 L342.90,249.84 L343.40,250.23 L343.90,250.60 L344.40,250.96 L344.90,251.31 L345.40,251.65 L345.90,251.97 L346.40,252.28 L346.90,252.59 L347.40,252.88 L347.90,253.16 L348.40,253.43 L348.90,253.70 L349.40,253.95 L349.90,254.20 L350.40,254.44 L350.90,254.67 L351.40,254.90 L351.90,255.11 L352.40,255.33 L352.90,255.54 L353.40,255.78 L353.90,256.00 L354.40,256.22 L354.90,256.42 L355.40,256.62 L355.90,256.80 L356.40,256.99 L356.90,257.17 L357.40,257.34 L357.90,257.51 L358.40,257.68 L358.90,257.84 L359.40,258.00 L359.90,258.16 L360.40,258.32 L360.90,258.47 L361.40,258.63 L361.90,258.78 L361.90,258.78 L361.90,259.84 L361.90,259.84 L361.40,259.72 L360.90,259.60 L360.40,259.48 L359.90,259.36 L359.40,259.25 L358.90,259.13 L358.40,259.01 L357.90,258.89 L357.40,258.78 L356.90,258.66 L356.40,258.54 L355.90,258.43 L355.40,258.31 L354.90,258.19 L354.40,258.07 L353.90,257.96 L353.40,257.84 L352.90,257.72 L352.40,257.61 L351.90,257.49 L351.40,257.37 L350.90,257.26 L350.40,257.14 L349.90,257.02 L349.40,256.91 L348.90,256.79 L348.40,256.67 L347.90,256.56 L347.40,256.44 L346.90,256.32 L346.40,256.21 L345.90,256.09 L345.40,255.98 L344.90,255.86 L344.40,255.75 L343.90,255.63 L343.40,255.52 L342.90,255.40 L342.40,255.28 L341.90,255.17 L341.40,255.05 L340.90,254.94 L340.40,254.82 L339.90,254.71 L339.40,254.60 L338.90,254.48 L338.40,254.37 L337.90,254.25 L337.40,254.14 L336.90,254.02 L336.40,253.91 L335.90,253.80 L335.40,253.68 L334.90,253.57 L334.40,253.46 L333.90,253.34 L333.40,253.23 L332.90,253.12 L332.40,253.01 L331.90,252.89 L331.40,252.78 L330.90,252.67 L330.40,252.56 L329.90,252.44 L329.40,252.33 L328.90,252.22 L328.40,252.11 L327.90,252.00 L327.40,251.89 L326.90,251.78 L326.40,251.66 L325.90,251.55 L325.40,251.44 L324.90,251.33 L324.40,251.22 L323.90,251.11 L323.40,251.00 L322.90,250.89 L322.40,250.78 L321.90,250.67 L321.40,250.57 L320.90,250.46 L320.40,250.35 L319.90,250.24 L319.40,250.13 L318.90,250.02 L318.40,249.92 L317.90,249.81 L317.40,249.70 L316.90,249.59 L316.40,249.49 L315.90,249.38 L315.40,249.27 L314.90,249.17 L314.40,249.06 L313.90,248.95 L313.40,248.85 L312.90,248.74 L312.40,248.64 L311.90,248.53 L311.40,248.43 L310.90,248.32 L310.40,248.22 L309.90,248.11 L309.40,248.01 L308.90,247.91 L308.40,247.80 L307.90,247.70 L307.40,247.60 L306.90,247.49 L306.40,247.39 L305.90,247.29 L305.40,247.19 L304.90,247.08 L304.40,246.98 L303.90,246.88 L303.40,246.78 L302.90,246.68 L302.40,246.58 L301.90,246.48 L301.40,246.38 L300.90,246.28 L300.40,246.18 L299.90,246.08 L299.40,245.98 L298.90,245.88 L298.40,245.78 L297.90,245.69 L297.40,245.59 L296.90,245.49 L296.40,245.39 L295.90,245.30 L295.40,245.20 L294.90,245.10 L294.40,245.01 L293.90,244.91 L293.40,244.82 L292.90,244.72 L292.40,244.63 L291.90,244.53 L291.40,244.44 L290.90,244.35 L290.40,244.25 L289.90,244.16 L289.40,244.07 L288.90,243.97 L288.40,243.88 L287.90,243.79 L287.40,243.70 L286.90,243.61 L286.40,243.51 L285.90,243.42 L285.40,243.33 L284.90,243.24 L284.40,243.15 L283.90,243.06 L283.40,242.98 L282.90,242.89 L282.40,242.80 L281.90,242.71 L281.40,242.62 L280.90,242.54 L280.40,242.45 L279.90,242.36 L279.40,242.28 L278.90,242.19 L278.40,242.11 L277.90,242.02 L277.40,241.94 L276.90,241.85 L276.40,241.77 L275.90,241.68 L275.40,241.60 L274.90,241.52 L274.40,241.43 L273.90,241.35 L273.40,241.27 L272.90,241.19 L272.40,241.11 L271.90,241.03 L271.40,240.95 L270.90,240.87 L270.40,240.79 L269.90,240.71 L269.40,240.63 L268.90,240.55 L268.40,240.47 L267.90,240.40 L267.40,240.32 L266.90,240.24 L266.40,240.17 L265.90,240.09 L265.40,240.02 L264.90,239.94 L264.40,239.87 L263.90,239.79 L263.40,239.72 L262.90,239.64 L262.40,239.57 L261.90,239.50 L261.40,239.43 L260.90,239.36 L260.40,239.28 L259.90,239.21 L259.40,239.14 L258.90,239.07 L258.40,239.00 L257.90,238.94 L257.40,238.87 L256.90,238.80 L256.40,238.73 L255.90,238.66 L255.40,238.60 L254.90,238.53 L254.40,238.46 L253.90,238.40 L253.40,238.33 L252.90,238.27 L252.40,238.21 L251.90,238.14 L251.40,238.08 L250.90,238.02 L250.40,237.95 L249.90,237.89 L249.40,237.83 L248.90,237.77 L248.40,237.71 L247.90,237.65 L247.40,237.59 L246.90,237.53 L246.40,237.47 L245.90,237.42 L245.40,237.36 L244.90,237.30 L244.40,237.25 L243.90,237.19 L243.40,237.14 L242.90,237.08 L242.40,237.03 L241.90,236.97 L241.40,236.92 L240.90,236.87 L240.40,236.81 L239.90,236.76 L239.40,236.71 L238.90,236.66 L238.40,236.61 L237.90,236.56 L237.40,236.51 L236.90,236.46 L236.40,236.42 L235.90,236.37 L235.40,236.32 L234.90,236.27 L234.40,236.23 L233.90,236.18 L233.40,236.14 L232.90,236.09 L232.40,236.05 L231.90,236.01 L231.40,235.96 L230.90,235.92 L230.40,235.88 L229.90,235.84 L229.40,235.80 L228.90,235.76 L228.40,235.72 L227.90,235.68 L227.40,235.64 L226.90,235.60 L226.40,235.57 L225.90,235.53 L225.40,235.50 L224.90,235.46 L224.40,235.43 L223.90,235.39 L223.40,235.36 L222.90,235.32 L222.40,235.29 L221.90,235.26 L221.40,235.23 L220.90,235.20 L220.40,235.17 L219.90,235.14 L219.40,235.11 L218.90,235.08 L218.40,235.05 L217.90,235.03 Z" fill="url(#g4)"/>
<linearGradient id="g5" gradientUnits="userSpaceOnUse" x1="0" y1="234.9" x2="0" y2="259.8"><stop offset="0" stop-color="#9aa3d6"/><stop offset="1" stop-color="#7579c0"/></linearGradient>
<path d="M217.90,234.86 L218.40,234.88 L218.90,234.91 L219.40,234.93 L219.90,234.96 L220.40,234.99 L220.90,235.02 L221.40,235.05 L221.90,235.08 L222.40,235.11 L222.90,235.14 L223.40,235.17 L223.90,235.20 L224.40,235.23 L224.90,235.27 L225.40,235.30 L225.90,235.33 L226.40,235.37 L226.90,235.40 L227.40,235.44 L227.90,235.47 L228.40,235.51 L228.90,235.55 L229.40,235.58 L229.90,235.62 L230.40,235.66 L230.90,235.70 L231.40,235.74 L231.90,235.78 L232.40,235.82 L232.90,235.86 L233.40,235.90 L233.90,235.95 L234.40,235.99 L234.90,236.03 L235.40,236.08 L235.90,236.12 L236.40,236.17 L236.90,236.21 L237.40,236.26 L237.90,236.30 L238.40,236.35 L238.90,236.40 L239.40,236.44 L239.90,236.49 L240.40,236.54 L240.90,236.59 L241.40,236.64 L241.90,236.69 L242.40,236.74 L242.90,236.79 L243.40,236.84 L243.90,236.89 L244.40,236.95 L244.90,237.00 L245.40,237.05 L245.90,237.10 L246.40,237.16 L246.90,237.21 L247.40,237.27 L247.90,237.32 L248.40,237.38 L248.90,237.43 L249.40,237.49 L249.90,237.55 L250.40,237.60 L250.90,237.66 L251.40,237.72 L251.90,237.78 L252.40,237.83 L252.90,237.89 L253.40,237.95 L253.90,238.01 L254.40,238.07 L254.90,238.13 L255.40,238.19 L255.90,238.25 L256.40,238.31 L256.90,238.38 L257.40,238.44 L257.90,238.50 L258.40,238.56 L258.90,238.62 L259.40,238.69 L259.90,238.75 L260.40,238.81 L260.90,238.88 L261.40,238.94 L261.90,239.01 L262.40,239.07 L262.90,239.14 L263.40,239.20 L263.90,239.27 L264.40,239.33 L264.90,239.40 L265.40,239.46 L265.90,239.53 L266.40,239.60 L266.90,239.66 L267.40,239.73 L267.90,239.80 L268.40,239.86 L268.90,239.93 L269.40,240.00 L269.90,240.06 L270.40,240.13 L270.90,240.20 L271.40,240.27 L271.90,240.33 L272.40,240.40 L272.90,240.47 L273.40,240.53 L273.90,240.60 L274.40,240.67 L274.90,240.74 L275.40,240.80 L275.90,240.87 L276.40,240.94 L276.90,241.00 L277.40,241.07 L277.90,241.14 L278.40,241.20 L278.90,241.27 L279.40,241.33 L279.90,241.40 L280.40,241.46 L280.90,241.53 L281.40,241.59 L281.90,241.65 L282.40,241.72 L282.90,241.78 L283.40,241.84 L283.90,241.90 L284.40,241.95 L284.90,242.01 L285.40,242.07 L285.90,242.12 L286.40,242.17 L286.90,242.27 L287.40,242.44 L287.90,242.60 L288.40,242.75 L288.90,242.90 L289.40,243.04 L289.90,243.19 L290.40,243.32 L290.90,243.46 L291.40,243.59 L291.90,243.72 L292.40,243.85 L292.90,243.97 L293.40,244.09 L293.90,244.21 L294.40,244.33 L294.90,244.45 L295.40,244.57 L295.90,244.69 L296.40,244.80 L296.90,244.91 L297.40,245.03 L297.90,245.14 L298.40,245.25 L298.90,245.37 L299.40,245.48 L299.90,245.59 L300.40,245.70 L300.90,245.81 L301.40,245.92 L301.90,246.03 L302.40,246.15 L302.90,246.26 L303.40,246.37 L303.90,246.48 L304.40,246.59 L304.90,246.70 L305.40,246.81 L305.90,246.92 L306.40,247.03 L306.90,247.14 L307.40,247.25 L307.90,247.36 L308.40,247.47 L308.90,247.58 L309.40,247.69 L309.90,247.80 L310.40,247.91 L310.90,248.02 L311.40,248.13 L311.90,248.24 L312.40,248.35 L312.90,248.46 L313.40,248.57 L313.90,248.68 L314.40,248.79 L314.90,248.90 L315.40,249.01 L315.90,249.13 L316.40,249.24 L316.90,249.35 L317.40,249.46 L317.90,249.57 L318.40,249.68 L318.90,249.80 L319.40,249.91 L319.90,250.02 L320.40,250.13 L320.90,250.24 L321.40,250.36 L321.90,250.47 L322.40,250.58 L322.90,250.69 L323.40,250.81 L323.90,250.92 L324.40,251.03 L324.90,251.14 L325.40,251.26 L325.90,251.37 L326.40,251.48 L326.90,251.60 L327.40,251.71 L327.90,251.83 L328.40,251.94 L328.90,252.05 L329.40,252.17 L329.90,252.28 L330.40,252.40 L330.90,252.51 L331.40,252.62 L331.90,252.74 L332.40,252.85 L332.90,252.97 L333.40,253.08 L333.90,253.20 L334.40,253.31 L334.90,253.43 L335.40,253.54 L335.90,253.66 L336.40,253.77 L336.90,253.89 L337.40,254.01 L337.90,254.12 L338.40,254.24 L338.90,254.35 L339.40,254.47 L339.90,254.59 L340.40,254.70 L340.90,254.82 L341.40,254.93 L341.90,255.05 L342.40,255.17 L342.90,255.28 L343.40,255.40 L343.90,255.52 L344.40,255.63 L344.90,255.75 L345.40,255.87 L345.90,255.99 L346.40,256.10 L346.90,256.22 L347.40,256.34 L347.90,256.45 L348.40,256.57 L348.90,256.69 L349.40,256.81 L349.90,256.92 L350.40,257.04 L350.90,257.16 L351.40,257.28 L351.90,257.39 L352.40,257.51 L352.90,257.63 L353.40,257.75 L353.90,257.87 L354.40,257.98 L354.90,258.10 L355.40,258.22 L355.90,258.34 L356.40,258.46 L356.90,258.58 L357.40,258.69 L357.90,258.81 L358.40,258.93 L358.90,259.05 L359.40,259.17 L359.90,259.28 L360.40,259.40 L360.90,259.52 L361.40,259.64 L361.90,259.76 L361.90,259.76 L361.90,259.84 L361.90,259.84 L361.40,259.72 L360.90,259.60 L360.40,259.48 L359.90,259.36 L359.40,259.25 L358.90,259.13 L358.40,259.01 L357.90,258.89 L357.40,258.78 L356.90,258.66 L356.40,258.54 L355.90,258.43 L355.40,258.31 L354.90,258.19 L354.40,258.07 L353.90,257.96 L353.40,257.84 L352.90,257.72 L352.40,257.61 L351.90,257.49 L351.40,257.37 L350.90,257.26 L350.40,257.14 L349.90,257.02 L349.40,256.91 L348.90,256.79 L348.40,256.67 L347.90,256.56 L347.40,256.44 L346.90,256.32 L346.40,256.21 L345.90,256.09 L345.40,255.98 L344.90,255.86 L344.40,255.75 L343.90,255.63 L343.40,255.52 L342.90,255.40 L342.40,255.28 L341.90,255.17 L341.40,255.05 L340.90,254.94 L340.40,254.82 L339.90,254.71 L339.40,254.60 L338.90,254.48 L338.40,254.37 L337.90,254.25 L337.40,254.14 L336.90,254.02 L336.40,253.91 L335.90,253.80 L335.40,253.68 L334.90,253.57 L334.40,253.46 L333.90,253.34 L333.40,253.23 L332.90,253.12 L332.40,253.01 L331.90,252.89 L331.40,252.78 L330.90,252.67 L330.40,252.56 L329.90,252.44 L329.40,252.33 L328.90,252.22 L328.40,252.11 L327.90,252.00 L327.40,251.89 L326.90,251.78 L326.40,251.66 L325.90,251.55 L325.40,251.44 L324.90,251.33 L324.40,251.22 L323.90,251.11 L323.40,251.00 L322.90,250.89 L322.40,250.78 L321.90,250.67 L321.40,250.57 L320.90,250.46 L320.40,250.35 L319.90,250.24 L319.40,250.13 L318.90,250.02 L318.40,249.92 L317.90,249.81 L317.40,249.70 L316.90,249.59 L316.40,249.49 L315.90,249.38 L315.40,249.27 L314.90,249.17 L314.40,249.06 L313.90,248.95 L313.40,248.85 L312.90,248.74 L312.40,248.64 L311.90,248.53 L311.40,248.43 L310.90,248.32 L310.40,248.22 L309.90,248.11 L309.40,248.01 L308.90,247.91 L308.40,247.80 L307.90,247.70 L307.40,247.60 L306.90,247.49 L306.40,247.39 L305.90,247.29 L305.40,247.19 L304.90,247.08 L304.40,246.98 L303.90,246.88 L303.40,246.78 L302.90,246.68 L302.40,246.58 L301.90,246.48 L301.40,246.38 L300.90,246.28 L300.40,246.18 L299.90,246.08 L299.40,245.98 L298.90,245.88 L298.40,245.78 L297.90,245.69 L297.40,245.59 L296.90,245.49 L296.40,245.39 L295.90,245.30 L295.40,245.20 L294.90,245.10 L294.40,245.01 L293.90,244.91 L293.40,244.82 L292.90,244.72 L292.40,244.63 L291.90,244.53 L291.40,244.44 L290.90,244.35 L290.40,244.25 L289.90,244.16 L289.40,244.07 L288.90,243.97 L288.40,243.88 L287.90,243.79 L287.40,243.70 L286.90,243.61 L286.40,243.51 L285.90,243.42 L285.40,243.33 L284.90,243.24 L284.40,243.15 L283.90,243.06 L283.40,242.98 L282.90,242.89 L282.40,242.80 L281.90,242.71 L281.40,242.62 L280.90,242.54 L280.40,242.45 L279.90,242.36 L279.40,242.28 L278.90,242.19 L278.40,242.11 L277.90,242.02 L277.40,241.94 L276.90,241.85 L276.40,241.77 L275.90,241.68 L275.40,241.60 L274.90,241.52 L274.40,241.43 L273.90,241.35 L273.40,241.27 L272.90,241.19 L272.40,241.11 L271.90,241.03 L271.40,240.95 L270.90,240.87 L270.40,240.79 L269.90,240.71 L269.40,240.63 L268.90,240.55 L268.40,240.47 L267.90,240.40 L267.40,240.32 L266.90,240.24 L266.40,240.17 L265.90,240.09 L265.40,240.02 L264.90,239.94 L264.40,239.87 L263.90,239.79 L263.40,239.72 L262.90,239.64 L262.40,239.57 L261.90,239.50 L261.40,239.43 L260.90,239.36 L260.40,239.28 L259.90,239.21 L259.40,239.14 L258.90,239.07 L258.40,239.00 L257.90,238.94 L257.40,238.87 L256.90,238.80 L256.40,238.73 L255.90,238.66 L255.40,238.60 L254.90,238.53 L254.40,238.46 L253.90,238.40 L253.40,238.33 L252.90,238.27 L252.40,238.21 L251.90,238.14 L251.40,238.08 L250.90,238.02 L250.40,237.95 L249.90,237.89 L249.40,237.83 L248.90,237.77 L248.40,237.71 L247.90,237.65 L247.40,237.59 L246.90,237.53 L246.40,237.47 L245.90,237.42 L245.40,237.36 L244.90,237.30 L244.40,237.25 L243.90,237.19 L243.40,237.14 L242.90,237.08 L242.40,237.03 L241.90,236.97 L241.40,236.92 L240.90,236.87 L240.40,236.81 L239.90,236.76 L239.40,236.71 L238.90,236.66 L238.40,236.61 L237.90,236.56 L237.40,236.51 L236.90,236.46 L236.40,236.42 L235.90,236.37 L235.40,236.32 L234.90,236.27 L234.40,236.23 L233.90,236.18 L233.40,236.14 L232.90,236.09 L232.40,236.05 L231.90,236.01 L231.40,235.96 L230.90,235.92 L230.40,235.88 L229.90,235.84 L229.40,235.80 L228.90,235.76 L228.40,235.72 L227.90,235.68 L227.40,235.64 L226.90,235.60 L226.40,235.57 L225.90,235.53 L225.40,235.50 L224.90,235.46 L224.40,235.43 L223.90,235.39 L223.40,235.36 L222.90,235.32 L222.40,235.29 L221.90,235.26 L221.40,235.23 L220.90,235.20 L220.40,235.17 L219.90,235.14 L219.40,235.11 L218.90,235.08 L218.40,235.05 L217.90,235.03 Z" fill="url(#g5)"/>
<linearGradient id="g6" gradientUnits="userSpaceOnUse" x1="0" y1="235.0" x2="0" y2="259.8"><stop offset="0" stop-color="#9aa3d6"/><stop offset="1" stop-color="#7579c0"/></linearGradient>
<path d="M217.90,234.98 L218.40,235.01 L218.90,235.03 L219.40,235.06 L219.90,235.09 L220.40,235.12 L220.90,235.14 L221.40,235.17 L221.90,235.20 L222.40,235.24 L222.90,235.27 L223.40,235.30 L223.90,235.33 L224.40,235.36 L224.90,235.40 L225.40,235.43 L225.90,235.47 L226.40,235.50 L226.90,235.54 L227.40,235.57 L227.90,235.61 L228.40,235.65 L228.90,235.68 L229.40,235.72 L229.90,235.76 L230.40,235.80 L230.90,235.84 L231.40,235.88 L231.90,235.92 L232.40,235.96 L232.90,236.00 L233.40,236.04 L233.90,236.08 L234.40,236.13 L234.90,236.17 L235.40,236.21 L235.90,236.26 L236.40,236.30 L236.90,236.35 L237.40,236.39 L237.90,236.44 L238.40,236.49 L238.90,236.54 L239.40,236.59 L239.90,236.64 L240.40,236.69 L240.90,236.74 L241.40,236.79 L241.90,236.84 L242.40,236.89 L242.90,236.95 L243.40,237.00 L243.90,237.05 L244.40,237.11 L244.90,237.16 L245.40,237.22 L245.90,237.27 L246.40,237.33 L246.90,237.39 L247.40,237.44 L247.90,237.50 L248.40,237.56 L248.90,237.62 L249.40,237.68 L249.90,237.74 L250.40,237.80 L250.90,237.86 L251.40,237.92 L251.90,237.98 L252.40,238.04 L252.90,238.10 L253.40,238.16 L253.90,238.23 L254.40,238.29 L254.90,238.35 L255.40,238.42 L255.90,238.48 L256.40,238.55 L256.90,238.61 L257.40,238.68 L257.90,238.74 L258.40,238.81 L258.90,238.87 L259.40,238.94 L259.90,239.01 L260.40,239.08 L260.90,239.15 L261.40,239.21 L261.90,239.28 L262.40,239.35 L262.90,239.42 L263.40,239.49 L263.90,239.56 L264.40,239.63 L264.90,239.71 L265.40,239.78 L265.90,239.85 L266.40,239.92 L266.90,239.99 L267.40,240.07 L267.90,240.14 L268.40,240.21 L268.90,240.29 L269.40,240.36 L269.90,240.43 L270.40,240.51 L270.90,240.58 L271.40,240.66 L271.90,240.73 L272.40,240.81 L272.90,240.89 L273.40,240.96 L273.90,241.04 L274.40,241.12 L274.90,241.19 L275.40,241.27 L275.90,241.35 L276.40,241.43 L276.90,241.50 L277.40,241.58 L277.90,241.66 L278.40,241.74 L278.90,241.82 L279.40,241.90 L279.90,241.97 L280.40,242.05 L280.90,242.13 L281.40,242.21 L281.90,242.29 L282.40,242.37 L282.90,242.45 L283.40,242.53 L283.90,242.61 L284.40,242.69 L284.90,242.77 L285.40,242.85 L285.90,242.93 L286.40,243.01 L286.90,243.09 L287.40,243.18 L287.90,243.32 L288.40,243.45 L288.90,243.57 L289.40,243.69 L289.90,243.81 L290.40,243.92 L290.90,244.03 L291.40,244.14 L291.90,244.25 L292.40,244.35 L292.90,244.46 L293.40,244.57 L293.90,244.67 L294.40,244.78 L294.90,244.88 L295.40,244.98 L295.90,245.09 L296.40,245.19 L296.90,245.30 L297.40,245.40 L297.90,245.50 L298.40,245.61 L298.90,245.71 L299.40,245.82 L299.90,245.92 L300.40,246.02 L300.90,246.13 L301.40,246.23 L301.90,246.34 L302.40,246.44 L302.90,246.54 L303.40,246.65 L303.90,246.75 L304.40,246.86 L304.90,246.96 L305.40,247.07 L305.90,247.17 L306.40,247.28 L306.90,247.38 L307.40,247.49 L307.90,247.59 L308.40,247.70 L308.90,247.81 L309.40,247.91 L309.90,248.02 L310.40,248.12 L310.90,248.23 L311.40,248.34 L311.90,248.44 L312.40,248.55 L312.90,248.66 L313.40,248.77 L313.90,248.87 L314.40,248.98 L314.90,249.09 L315.40,249.20 L315.90,249.31 L316.40,249.41 L316.90,249.52 L317.40,249.63 L317.90,249.74 L318.40,249.85 L318.90,249.96 L319.40,250.07 L319.90,250.18 L320.40,250.29 L320.90,250.40 L321.40,250.51 L321.90,250.62 L322.40,250.73 L322.90,250.84 L323.40,250.95 L323.90,251.06 L324.40,251.17 L324.90,251.28 L325.40,251.39 L325.90,251.50 L326.40,251.62 L326.90,251.73 L327.40,251.84 L327.90,251.95 L328.40,252.06 L328.90,252.18 L329.40,252.29 L329.90,252.40 L330.40,252.51 L330.90,252.63 L331.40,252.74 L331.90,252.85 L332.40,252.96 L332.90,253.08 L333.40,253.19 L333.90,253.31 L334.40,253.42 L334.90,253.53 L335.40,253.65 L335.90,253.76 L336.40,253.88 L336.90,253.99 L337.40,254.10 L337.90,254.22 L338.40,254.33 L338.90,254.45 L339.40,254.56 L339.90,254.68 L340.40,254.79 L340.90,254.91 L341.40,255.02 L341.90,255.14 L342.40,255.25 L342.90,255.37 L343.40,255.49 L343.90,255.60 L344.40,255.72 L344.90,255.83 L345.40,255.95 L345.90,256.07 L346.40,256.18 L346.90,256.30 L347.40,256.41 L347.90,256.53 L348.40,256.65 L348.90,256.76 L349.40,256.88 L349.90,257.00 L350.40,257.11 L350.90,257.23 L351.40,257.35 L351.90,257.47 L352.40,257.58 L352.90,257.70 L353.40,257.82 L353.90,257.93 L354.40,258.05 L354.90,258.17 L355.40,258.29 L355.90,258.40 L356.40,258.52 L356.90,258.64 L357.40,258.76 L357.90,258.87 L358.40,258.99 L358.90,259.11 L359.40,259.23 L359.90,259.34 L360.40,259.46 L360.90,259.58 L361.40,259.70 L361.90,259.82 L361.90,259.82 L361.90,259.84 L361.90,259.84 L361.40,259.72 L360.90,259.60 L360.40,259.48 L359.90,259.36 L359.40,259.25 L358.90,259.13 L358.40,259.01 L357.90,258.89 L357.40,258.78 L356.90,258.66 L356.40,258.54 L355.90,258.43 L355.40,258.31 L354.90,258.19 L354.40,258.07 L353.90,257.96 L353.40,257.84 L352.90,257.72 L352.40,257.61 L351.90,257.49 L351.40,257.37 L350.90,257.26 L350.40,257.14 L349.90,257.02 L349.40,256.91 L348.90,256.79 L348.40,256.67 L347.90,256.56 L347.40,256.44 L346.90,256.32 L346.40,256.21 L345.90,256.09 L345.40,255.98 L344.90,255.86 L344.40,255.75 L343.90,255.63 L343.40,255.52 L342.90,255.40 L342.40,255.28 L341.90,255.17 L341.40,255.05 L340.90,254.94 L340.40,254.82 L339.90,254.71 L339.40,254.60 L338.90,254.48 L338.40,254.37 L337.90,254.25 L337.40,254.14 L336.90,254.02 L336.40,253.91 L335.90,253.80 L335.40,253.68 L334.90,253.57 L334.40,253.46 L333.90,253.34 L333.40,253.23 L332.90,253.12 L332.40,253.01 L331.90,252.89 L331.40,252.78 L330.90,252.67 L330.40,252.56 L329.90,252.44 L329.40,252.33 L328.90,252.22 L328.40,252.11 L327.90,252.00 L327.40,251.89 L326.90,251.78 L326.40,251.66 L325.90,251.55 L325.40,251.44 L324.90,251.33 L324.40,251.22 L323.90,251.11 L323.40,251.00 L322.90,250.89 L322.40,250.78 L321.90,250.67 L321.40,250.57 L320.90,250.46 L320.40,250.35 L319.90,250.24 L319.40,250.13 L318.90,250.02 L318.40,249.92 L317.90,249.81 L317.40,249.70 L316.90,249.59 L316.40,249.49 L315.90,249.38 L315.40,249.27 L314.90,249.17 L314.40,249.06 L313.90,248.95 L313.40,248.85 L312.90,248.74 L312.40,248.64 L311.90,248.53 L311.40,248.43 L310.90,248.32 L310.40,248.22 L309.90,248.11 L309.40,248.01 L308.90,247.91 L308.40,247.80 L307.90,247.70 L307.40,247.60 L306.90,247.49 L306.40,247.39 L305.90,247.29 L305.40,247.19 L304.90,247.08 L304.40,246.98 L303.90,246.88 L303.40,246.78 L302.90,246.68 L302.40,246.58 L301.90,246.48 L301.40,246.38 L300.90,246.28 L300.40,246.18 L299.90,246.08 L299.40,245.98 L298.90,245.88 L298.40,245.78 L297.90,245.69 L297.40,245.59 L296.90,245.49 L296.40,245.39 L295.90,245.30 L295.40,245.20 L294.90,245.10 L294.40,245.01 L293.90,244.91 L293.40,244.82 L292.90,244.72 L292.40,244.63 L291.90,244.53 L291.40,244.44 L290.90,244.35 L290.40,244.25 L289.90,244.16 L289.40,244.07 L288.90,243.97 L288.40,243.88 L287.90,243.79 L287.40,243.70 L286.90,243.61 L286.40,243.51 L285.90,243.42 L285.40,243.33 L284.90,243.24 L284.40,243.15 L283.90,243.06 L283.40,242.98 L282.90,242.89 L282.40,242.80 L281.90,242.71 L281.40,242.62 L280.90,242.54 L280.40,242.45 L279.90,242.36 L279.40,242.28 L278.90,242.19 L278.40,242.11 L277.90,242.02 L277.40,241.94 L276.90,241.85 L276.40,241.77 L275.90,241.68 L275.40,241.60 L274.90,241.52 L274.40,241.43 L273.90,241.35 L273.40,241.27 L272.90,241.19 L272.40,241.11 L271.90,241.03 L271.40,240.95 L270.90,240.87 L270.40,240.79 L269.90,240.71 L269.40,240.63 L268.90,240.55 L268.40,240.47 L267.90,240.40 L267.40,240.32 L266.90,240.24 L266.40,240.17 L265.90,240.09 L265.40,240.02 L264.90,239.94 L264.40,239.87 L263.90,239.79 L263.40,239.72 L262.90,239.64 L262.40,239.57 L261.90,239.50 L261.40,239.43 L260.90,239.36 L260.40,239.28 L259.90,239.21 L259.40,239.14 L258.90,239.07 L258.40,239.00 L257.90,238.94 L257.40,238.87 L256.90,238.80 L256.40,238.73 L255.90,238.66 L255.40,238.60 L254.90,238.53 L254.40,238.46 L253.90,238.40 L253.40,238.33 L252.90,238.27 L252.40,238.21 L251.90,238.14 L251.40,238.08 L250.90,238.02 L250.40,237.95 L249.90,237.89 L249.40,237.83 L248.90,237.77 L248.40,237.71 L247.90,237.65 L247.40,237.59 L246.90,237.53 L246.40,237.47 L245.90,237.42 L245.40,237.36 L244.90,237.30 L244.40,237.25 L243.90,237.19 L243.40,237.14 L242.90,237.08 L242.40,237.03 L241.90,236.97 L241.40,236.92 L240.90,236.87 L240.40,236.81 L239.90,236.76 L239.40,236.71 L238.90,236.66 L238.40,236.61 L237.90,236.56 L237.40,236.51 L236.90,236.46 L236.40,236.42 L235.90,236.37 L235.40,236.32 L234.90,236.27 L234.40,236.23 L233.90,236.18 L233.40,236.14 L232.90,236.09 L232.40,236.05 L231.90,236.01 L231.40,235.96 L230.90,235.92 L230.40,235.88 L229.90,235.84 L229.40,235.80 L228.90,235.76 L228.40,235.72 L227.90,235.68 L227.40,235.64 L226.90,235.60 L226.40,235.57 L225.90,235.53 L225.40,235.50 L224.90,235.46 L224.40,235.43 L223.90,235.39 L223.40,235.36 L222.90,235.32 L222.40,235.29 L221.90,235.26 L221.40,235.23 L220.90,235.20 L220.40,235.17 L219.90,235.14 L219.40,235.11 L218.90,235.08 L218.40,235.05 L217.90,235.03 Z" fill="url(#g6)"/>
<polyline points="217.90,234.42 218.40,234.43 218.90,234.44 219.40,234.45 219.90,234.46 220.40,234.47 220.90,234.48 221.40,234.49 221.90,234.50 222.40,234.51 222.90,234.52 223.40,234.52 223.90,234.53 224.40,234.53 224.90,234.53 225.40,234.53 225.90,234.53 226.40,234.53 226.90,234.52 227.40,234.52 227.90,234.51 228.40,234.49 228.90,234.48 229.40,234.46 229.90,234.43 230.40,234.41 230.90,234.38 231.40,234.34 231.90,234.30 232.40,234.26 232.90,234.20 233.40,234.15 233.90,234.09 234.40,234.02 234.90,233.94 235.40,233.86 235.90,233.77 236.40,233.68 236.90,233.57 237.40,233.46 237.90,233.34 238.40,233.21 238.90,233.07 239.40,232.92 239.90,232.77 240.40,232.60 240.90,232.43 241.40,232.25 241.90,232.05 242.40,231.85 242.90,231.64 243.40,231.42 243.90,231.19 244.40,230.95 244.90,230.70 245.40,230.44 245.90,230.18 246.40,229.91 246.90,229.63 247.40,229.34 247.90,229.05 248.40,228.76 248.90,228.46 249.40,228.16 249.90,227.85 250.40,227.55 250.90,227.24 251.40,226.94 251.90,226.63 252.40,226.33 252.90,226.04 253.40,225.75 253.90,225.48 254.40,225.21 254.90,224.95 255.40,224.71 255.90,224.48 256.40,224.27 256.90,224.09 257.40,223.92 257.90,223.77 258.40,223.65 258.90,223.56 259.40,223.49 259.90,223.45 260.40,223.44 260.90,223.46 261.40,223.51 261.90,223.60 262.40,223.74 262.90,223.93 263.40,224.16 263.90,224.44 264.40,224.76 264.90,225.12 265.40,225.51 265.90,225.93 266.40,226.38 266.90,226.85 267.40,227.35 267.90,227.86 268.40,228.38 268.90,228.91 269.40,229.45 269.90,229.99 270.40,230.54 270.90,231.08 271.40,231.62 271.90,232.15 272.40,232.68 272.90,233.20 273.40,233.71 273.90,234.20 274.40,234.69 274.90,235.16 275.40,235.61 275.90,236.05 276.40,236.48 276.90,236.89 277.40,237.29 277.90,237.67 278.40,238.03 278.90,238.38 279.40,238.72 279.90,239.04 280.40,239.34 280.90,239.64 281.40,239.91 281.90,240.18 282.40,240.43 282.90,240.68 283.40,240.91 283.90,241.13 284.40,241.34 284.90,241.54 285.40,241.74 285.90,241.92 286.40,242.10 286.90,242.27 287.40,242.44 287.90,242.60 288.40,242.75 288.90,242.90 289.40,243.04 289.90,243.19 290.40,243.32 290.90,243.46 291.40,243.59 291.90,243.72 292.40,243.85 292.90,243.97 293.40,244.09 293.90,244.21 294.40,244.33 294.90,244.45 295.40,244.57 295.90,244.69 296.40,244.80 296.90,244.91 297.40,245.03 297.90,245.14 298.40,245.25 298.90,245.37 299.40,245.48 299.90,245.59 300.40,245.70 300.90,245.81 301.40,245.92 301.90,246.03 302.40,246.15 302.90,246.26 303.40,246.37 303.90,246.48 304.40,246.59 304.90,246.70 305.40,246.81 305.90,246.92 306.40,247.03 306.90,247.14 307.40,247.25 307.90,247.36 308.40,247.47 308.90,247.58 309.40,247.69 309.90,247.80 310.40,247.91 310.90,248.02 311.40,248.13 311.90,248.24 312.40,248.35 312.90,248.46 313.40,248.57 313.90,248.68 314.40,248.79 314.90,248.90 315.40,249.01 315.90,249.13 316.40,249.24 316.90,249.35 317.40,249.46 317.90,249.57 318.40,249.68 318.90,249.80 319.40,249.91 319.90,250.02 320.40,250.13 320.90,250.24 321.40,250.36 321.90,250.47 322.40,250.58 322.90,250.69 323.40,250.81 323.90,250.92 324.40,251.03 324.90,251.14 325.40,251.26 325.90,251.37 326.40,251.48 326.90,251.60 327.40,251.71 327.90,251.83 328.40,251.94 328.90,252.05 329.40,252.17 329.90,252.28 330.40,252.40 330.90,252.51 331.40,252.62 331.90,252.74 332.40,252.85 332.90,252.97 333.40,253.08 333.90,253.20 334.40,253.31 334.90,253.43 335.40,253.54 335.90,253.66 336.40,253.77 336.90,253.89 337.40,254.01 337.90,254.12 338.40,254.24 338.90,254.35 339.40,254.47 339.90,254.59 340.40,254.70 340.90,254.82 341.40,254.93 341.90,255.05 342.40,255.17 342.90,255.28 343.40,255.40 343.90,255.52 344.40,255.63 344.90,255.75 345.40,255.87 345.90,255.99 346.40,256.10 346.90,256.22 347.40,256.34 347.90,256.45 348.40,256.57 348.90,256.69 349.40,256.81 349.90,256.92 350.40,257.04 350.90,257.16 351.40,257.28 351.90,257.39 352.40,257.51 352.90,257.63 353.40,257.75 353.90,257.87 354.40,257.98 354.90,258.10 355.40,258.22 355.90,258.34 356.40,258.46 356.90,258.58 357.40,258.69 357.90,258.81 358.40,258.93 358.90,259.05 359.40,259.17 359.90,259.28 360.40,259.40 360.90,259.52 361.40,259.64 361.90,259.76 361.90,259.76" fill="none" stroke="#7a6cc0" stroke-width="0.9" stroke-linejoin="round" stroke-linecap="round" />
<polyline points="217.90,234.86 218.40,234.88 218.90,234.91 219.40,234.93 219.90,234.96 220.40,234.99 220.90,235.02 221.40,235.05 221.90,235.08 222.40,235.11 222.90,235.14 223.40,235.17 223.90,235.20 224.40,235.23 224.90,235.27 225.40,235.30 225.90,235.33 226.40,235.37 226.90,235.40 227.40,235.44 227.90,235.47 228.40,235.51 228.90,235.55 229.40,235.58 229.90,235.62 230.40,235.66 230.90,235.70 231.40,235.74 231.90,235.78 232.40,235.82 232.90,235.86 233.40,235.90 233.90,235.95 234.40,235.99 234.90,236.03 235.40,236.08 235.90,236.12 236.40,236.17 236.90,236.21 237.40,236.26 237.90,236.30 238.40,236.35 238.90,236.40 239.40,236.44 239.90,236.49 240.40,236.54 240.90,236.59 241.40,236.64 241.90,236.69 242.40,236.74 242.90,236.79 243.40,236.84 243.90,236.89 244.40,236.95 244.90,237.00 245.40,237.05 245.90,237.10 246.40,237.16 246.90,237.21 247.40,237.27 247.90,237.32 248.40,237.38 248.90,237.43 249.40,237.49 249.90,237.55 250.40,237.60 250.90,237.66 251.40,237.72 251.90,237.78 252.40,237.83 252.90,237.89 253.40,237.95 253.90,238.01 254.40,238.07 254.90,238.13 255.40,238.19 255.90,238.25 256.40,238.31 256.90,238.38 257.40,238.44 257.90,238.50 258.40,238.56 258.90,238.62 259.40,238.69 259.90,238.75 260.40,238.81 260.90,238.88 261.40,238.94 261.90,239.01 262.40,239.07 262.90,239.14 263.40,239.20 263.90,239.27 264.40,239.33 264.90,239.40 265.40,239.46 265.90,239.53 266.40,239.60 266.90,239.66 267.40,239.73 267.90,239.80 268.40,239.86 268.90,239.93 269.40,240.00 269.90,240.06 270.40,240.13 270.90,240.20 271.40,240.27 271.90,240.33 272.40,240.40 272.90,240.47 273.40,240.53 273.90,240.60 274.40,240.67 274.90,240.74 275.40,240.80 275.90,240.87 276.40,240.94 276.90,241.00 277.40,241.07 277.90,241.14 278.40,241.20 278.90,241.27 279.40,241.33 279.90,241.40 280.40,241.46 280.90,241.53 281.40,241.59 281.90,241.65 282.40,241.72 282.90,241.78 283.40,241.84 283.90,241.90 284.40,241.95 284.90,242.01 285.40,242.07 285.90,242.12 286.40,242.17 286.90,242.22 287.40,242.27 287.90,242.32 288.40,242.36 288.90,242.41 289.40,242.44 289.90,242.48 290.40,242.51 290.90,242.54 291.40,242.57 291.90,242.59 292.40,242.60 292.90,242.61 293.40,242.62 293.90,242.62 294.40,242.61 294.90,242.60 295.40,242.58 295.90,242.55 296.40,242.51 296.90,242.47 297.40,242.41 297.90,242.35 298.40,242.28 298.90,242.19 299.40,242.10 299.90,241.99 300.40,241.87 300.90,241.74 301.40,241.59 301.90,241.43 302.40,241.26 302.90,241.07 303.40,240.87 303.90,240.65 304.40,240.42 304.90,240.17 305.40,239.91 305.90,239.63 306.40,239.34 306.90,239.03 307.40,238.71 307.90,238.37 308.40,238.01 308.90,237.65 309.40,237.27 309.90,236.88 310.40,236.48 310.90,236.06 311.40,235.64 311.90,235.22 312.40,234.78 312.90,234.35 313.40,233.91 313.90,233.47 314.40,233.04 314.90,232.61 315.40,232.20 315.90,231.79 316.40,231.41 316.90,231.04 317.40,230.70 317.90,230.38 318.40,230.10 318.90,229.86 319.40,229.65 319.90,229.49 320.40,229.37 320.90,229.30 321.40,229.29 321.90,229.33 322.40,229.42 322.90,229.56 323.40,229.75 323.90,229.99 324.40,230.27 324.90,230.60 325.40,230.97 325.90,231.38 326.40,231.83 326.90,232.30 327.40,232.81 327.90,233.34 328.40,233.89 328.90,234.47 329.40,235.06 329.90,235.66 330.40,236.27 330.90,236.89 331.40,237.52 331.90,238.14 332.40,238.77 332.90,239.39 333.40,240.01 333.90,240.63 334.40,241.24 334.90,241.84 335.40,242.43 335.90,243.02 336.40,243.59 336.90,244.15 337.40,244.70 337.90,245.23 338.40,245.76 338.90,246.27 339.40,246.76 339.90,247.24 340.40,247.71 340.90,248.17 341.40,248.61 341.90,249.03 342.40,249.44 342.90,249.84 343.40,250.23 343.90,250.60 344.40,250.96 344.90,251.31 345.40,251.65 345.90,251.97 346.40,252.28 346.90,252.59 347.40,252.88 347.90,253.16 348.40,253.43 348.90,253.70 349.40,253.95 349.90,254.20 350.40,254.44 350.90,254.67 351.40,254.90 351.90,255.11 352.40,255.33 352.90,255.53 353.40,255.73 353.90,255.93 354.40,256.12 354.90,256.31 355.40,256.49 355.90,256.67 356.40,256.85 356.90,257.02 357.40,257.19 357.90,257.36 358.40,257.52 358.90,257.68 359.40,257.84 359.90,258.00 360.40,258.15 360.90,258.31 361.40,258.46 361.90,258.61 361.90,258.61" fill="none" stroke="#7a6cc0" stroke-width="0.9" stroke-linejoin="round" stroke-linecap="round" />
<polyline points="217.90,234.25 218.40,234.26 218.90,234.27 219.40,234.28 219.90,234.29 220.40,234.29 220.90,234.30 221.40,234.31 221.90,234.32 222.40,234.32 222.90,234.33 223.40,234.33 223.90,234.34 224.40,234.34 224.90,234.34 225.40,234.34 225.90,234.33 226.40,234.33 226.90,234.32 227.40,234.31 227.90,234.30 228.40,234.28 228.90,234.27 229.40,234.24 229.90,234.22 230.40,234.19 230.90,234.16 231.40,234.12 231.90,234.08 232.40,234.03 232.90,233.97 233.40,233.92 233.90,233.85 234.40,233.78 234.90,233.70 235.40,233.62 235.90,233.53 236.40,233.43 236.90,233.32 237.40,233.20 237.90,233.08 238.40,232.95 238.90,232.81 239.40,232.66 239.90,232.50 240.40,232.33 240.90,232.15 241.40,231.96 241.90,231.77 242.40,231.56 242.90,231.35 243.40,231.12 243.90,230.89 244.40,230.64 244.90,230.39 245.40,230.13 245.90,229.86 246.40,229.58 246.90,229.29 247.40,229.00 247.90,228.69 248.40,228.38 248.90,228.06 249.40,227.73 249.90,227.39 250.40,227.04 250.90,226.68 251.40,226.30 251.90,225.90 252.40,225.49 252.90,225.05 253.40,224.58 253.90,224.08 254.40,223.53 254.90,222.94 255.40,222.30 255.90,221.59 256.40,220.81 256.90,219.95 257.40,219.01 257.90,217.98 258.40,216.84 258.90,215.61 259.40,214.27 259.90,212.83 260.40,211.30 260.90,209.68 261.40,207.98 261.90,206.23 262.40,204.45 262.90,202.68 263.40,200.94 263.90,199.26 264.40,197.67 264.90,196.20 265.40,194.89 265.90,193.76 266.40,192.86 266.90,192.20 267.40,191.80 267.90,191.69 268.40,191.87 268.90,192.36 269.40,193.18 269.90,194.32 270.40,195.77 270.90,197.50 271.40,199.47 271.90,201.65 272.40,204.00 272.90,206.46 273.40,209.00 273.90,211.57 274.40,214.13 274.90,216.64 275.40,219.06 275.90,221.38 276.40,223.57 276.90,225.61 277.40,227.49 277.90,229.21 278.40,230.77 278.90,232.17 279.40,233.41 279.90,234.50 280.40,235.47 280.90,236.31 281.40,237.04 281.90,237.67 282.40,238.22 282.90,238.69 283.40,239.10 283.90,239.45 284.40,239.76 284.90,240.02 285.40,240.26 285.90,240.46 286.40,240.65 286.90,240.81 287.40,240.95 287.90,241.09 288.40,241.20 288.90,241.31 289.40,241.41 289.90,241.50 290.40,241.58 290.90,241.65 291.40,241.71 291.90,241.77 292.40,241.82 292.90,241.86 293.40,241.89 293.90,241.92 294.40,241.93 294.90,241.94 295.40,241.94 295.90,241.94 296.40,241.92 296.90,241.89 297.40,241.85 297.90,241.80 298.40,241.74 298.90,241.67 299.40,241.59 299.90,241.49 300.40,241.38 300.90,241.25 301.40,241.11 301.90,240.96 302.40,240.78 302.90,240.60 303.40,240.39 303.90,240.16 304.40,239.92 304.90,239.65 305.40,239.36 305.90,239.05 306.40,238.71 306.90,238.35 307.40,237.96 307.90,237.53 308.40,237.08 308.90,236.59 309.40,236.06 309.90,235.49 310.40,234.88 310.90,234.22 311.40,233.51 311.90,232.75 312.40,231.93 312.90,231.04 313.40,230.10 313.90,229.08 314.40,227.98 314.90,226.81 315.40,225.56 315.90,224.23 316.40,222.81 316.90,221.31 317.40,219.72 317.90,218.04 318.40,216.28 318.90,214.43 319.40,212.51 319.90,210.52 320.40,208.47 320.90,206.36 321.40,204.20 321.90,202.01 322.40,199.80 322.90,197.57 323.40,195.35 323.90,193.15 324.40,190.99 324.90,188.88 325.40,186.85 325.90,184.92 326.40,183.10 326.90,181.42 327.40,179.90 327.90,178.55 328.40,177.39 328.90,176.45 329.40,175.74 329.90,175.26 330.40,175.03 330.90,175.06 331.40,175.35 331.90,175.91 332.40,176.81 332.90,178.08 333.40,179.70 333.90,181.67 334.40,183.94 334.90,186.49 335.40,189.29 335.90,192.30 336.40,195.48 336.90,198.79 337.40,202.19 337.90,205.64 338.40,209.10 338.90,212.53 339.40,215.89 339.90,219.17 340.40,222.34 340.90,225.37 341.40,228.25 341.90,230.96 342.40,233.49 342.90,235.85 343.40,238.02 343.90,240.02 344.40,241.84 344.90,243.49 345.40,244.98 345.90,246.32 346.40,247.52 346.90,248.59 347.40,249.55 347.90,250.40 348.40,251.15 348.90,251.82 349.40,252.41 349.90,252.94 350.40,253.41 350.90,253.84 351.40,254.22 351.90,254.56 352.40,254.88 352.90,255.16 353.40,255.43 353.90,255.68 354.40,255.91 354.90,256.13 355.40,256.33 355.90,256.53 356.40,256.72 356.90,256.91 357.40,257.08 357.90,257.26 358.40,257.43 358.90,257.59 359.40,257.75 359.90,257.91 360.40,258.07 360.90,258.23 361.40,258.38 361.90,258.53 361.90,258.53" fill="none" stroke="#acacac" stroke-width="1.15" stroke-linejoin="round" stroke-linecap="round" />
<polyline points="217.90,235.03 218.40,235.05 218.90,235.08 219.40,235.11 219.90,235.14 220.40,235.17 220.90,235.20 221.40,235.23 221.90,235.26 222.40,235.29 222.90,235.32 223.40,235.36 223.90,235.39 224.40,235.43 224.90,235.46 225.40,235.50 225.90,235.53 226.40,235.57 226.90,235.60 227.40,235.64 227.90,235.68 228.40,235.72 228.90,235.76 229.40,235.80 229.90,235.84 230.40,235.88 230.90,235.92 231.40,235.96 231.90,236.01 232.40,236.05 232.90,236.09 233.40,236.14 233.90,236.18 234.40,236.23 234.90,236.27 235.40,236.32 235.90,236.37 236.40,236.42 236.90,236.46 237.40,236.51 237.90,236.56 238.40,236.61 238.90,236.66 239.40,236.71 239.90,236.76 240.40,236.81 240.90,236.87 241.40,236.92 241.90,236.97 242.40,237.03 242.90,237.08 243.40,237.14 243.90,237.19 244.40,237.25 244.90,237.30 245.40,237.36 245.90,237.42 246.40,237.47 246.90,237.53 247.40,237.59 247.90,237.65 248.40,237.71 248.90,237.77 249.40,237.83 249.90,237.89 250.40,237.95 250.90,238.02 251.40,238.08 251.90,238.14 252.40,238.21 252.90,238.27 253.40,238.33 253.90,238.40 254.40,238.46 254.90,238.53 255.40,238.60 255.90,238.66 256.40,238.73 256.90,238.80 257.40,238.87 257.90,238.94 258.40,239.00 258.90,239.07 259.40,239.14 259.90,239.21 260.40,239.28 260.90,239.36 261.40,239.43 261.90,239.50 262.40,239.57 262.90,239.64 263.40,239.72 263.90,239.79 264.40,239.87 264.90,239.94 265.40,240.02 265.90,240.09 266.40,240.17 266.90,240.24 267.40,240.32 267.90,240.40 268.40,240.47 268.90,240.55 269.40,240.63 269.90,240.71 270.40,240.79 270.90,240.87 271.40,240.95 271.90,241.03 272.40,241.11 272.90,241.19 273.40,241.27 273.90,241.35 274.40,241.43 274.90,241.52 275.40,241.60 275.90,241.68 276.40,241.77 276.90,241.85 277.40,241.94 277.90,242.02 278.40,242.11 278.90,242.19 279.40,242.28 279.90,242.36 280.40,242.45 280.90,242.54 281.40,242.62 281.90,242.71 282.40,242.80 282.90,242.89 283.40,242.98 283.90,243.06 284.40,243.15 284.90,243.24 285.40,243.33 285.90,243.42 286.40,243.51 286.90,243.61 287.40,243.70 287.90,243.79 288.40,243.88 288.90,243.97 289.40,244.07 289.90,244.16 290.40,244.25 290.90,244.35 291.40,244.44 291.90,244.53 292.40,244.63 292.90,244.72 293.40,244.82 293.90,244.91 294.40,245.01 294.90,245.10 295.40,245.20 295.90,245.30 296.40,245.39 296.90,245.49 297.40,245.59 297.90,245.69 298.40,245.78 298.90,245.88 299.40,245.98 299.90,246.08 300.40,246.18 300.90,246.28 301.40,246.38 301.90,246.48 302.40,246.58 302.90,246.68 303.40,246.78 303.90,246.88 304.40,246.98 304.90,247.08 305.40,247.19 305.90,247.29 306.40,247.39 306.90,247.49 307.40,247.60 307.90,247.70 308.40,247.80 308.90,247.91 309.40,248.01 309.90,248.11 310.40,248.22 310.90,248.32 311.40,248.43 311.90,248.53 312.40,248.64 312.90,248.74 313.40,248.85 313.90,248.95 314.40,249.06 314.90,249.17 315.40,249.27 315.90,249.38 316.40,249.49 316.90,249.59 317.40,249.70 317.90,249.81 318.40,249.92 318.90,250.02 319.40,250.13 319.90,250.24 320.40,250.35 320.90,250.46 321.40,250.57 321.90,250.67 322.40,250.78 322.90,250.89 323.40,251.00 323.90,251.11 324.40,251.22 324.90,251.33 325.40,251.44 325.90,251.55 326.40,251.66 326.90,251.78 327.40,251.89 327.90,252.00 328.40,252.11 328.90,252.22 329.40,252.33 329.90,252.44 330.40,252.56 330.90,252.67 331.40,252.78 331.90,252.89 332.40,253.01 332.90,253.12 333.40,253.23 333.90,253.34 334.40,253.46 334.90,253.57 335.40,253.68 335.90,253.80 336.40,253.91 336.90,254.02 337.40,254.14 337.90,254.25 338.40,254.37 338.90,254.48 339.40,254.60 339.90,254.71 340.40,254.82 340.90,254.94 341.40,255.05 341.90,255.17 342.40,255.28 342.90,255.40 343.40,255.52 343.90,255.63 344.40,255.75 344.90,255.86 345.40,255.98 345.90,256.09 346.40,256.21 346.90,256.32 347.40,256.44 347.90,256.56 348.40,256.67 348.90,256.79 349.40,256.91 349.90,257.02 350.40,257.14 350.90,257.26 351.40,257.37 351.90,257.49 352.40,257.61 352.90,257.72 353.40,257.84 353.90,257.96 354.40,258.07 354.90,258.19 355.40,258.31 355.90,258.43 356.40,258.54 356.90,258.66 357.40,258.78 357.90,258.89 358.40,259.01 358.90,259.13 359.40,259.25 359.90,259.36 360.40,259.48 360.90,259.60 361.40,259.72 361.90,259.84 361.90,259.84" fill="none" stroke="#4a90d6" stroke-width="1.1" stroke-linejoin="round" stroke-linecap="round" />
<rect x="217.3" y="158.2" width="145.2" height="116.90000000000003" fill="none" stroke="#2e2e2e" stroke-width="1.2"/>
<line x1="217.30" y1="275.10" x2="217.30" y2="277.10" stroke="#2e2e2e" stroke-width="1.0"/>
<text textLength="9.6" lengthAdjust="spacingAndGlyphs" x="217.30" y="283.70" font-family='"Liberation Serif", serif' font-size="7.0" font-weight="normal" fill="#222" stroke="#222" stroke-width="0.45" text-anchor="middle" style=""><tspan dy="-0.00" font-size="7.0">595</tspan></text>
<line x1="249.25" y1="275.10" x2="249.25" y2="277.10" stroke="#2e2e2e" stroke-width="1.0"/>
<text textLength="9.6" lengthAdjust="spacingAndGlyphs" x="249.25" y="283.70" font-family='"Liberation Serif", serif' font-size="7.0" font-weight="normal" fill="#222" stroke="#222" stroke-width="0.45" text-anchor="middle" style=""><tspan dy="-0.00" font-size="7.0">590</tspan></text>
<line x1="281.20" y1="275.10" x2="281.20" y2="277.10" stroke="#2e2e2e" stroke-width="1.0"/>
<text textLength="9.6" lengthAdjust="spacingAndGlyphs" x="281.20" y="283.70" font-family='"Liberation Serif", serif' font-size="7.0" font-weight="normal" fill="#222" stroke="#222" stroke-width="0.45" text-anchor="middle" style=""><tspan dy="-0.00" font-size="7.0">585</tspan></text>
<line x1="313.15" y1="275.10" x2="313.15" y2="277.10" stroke="#2e2e2e" stroke-width="1.0"/>
<text textLength="9.6" lengthAdjust="spacingAndGlyphs" x="313.15" y="283.70" font-family='"Liberation Serif", serif' font-size="7.0" font-weight="normal" fill="#222" stroke="#222" stroke-width="0.45" text-anchor="middle" style=""><tspan dy="-0.00" font-size="7.0">580</tspan></text>
<line x1="345.10" y1="275.10" x2="345.10" y2="277.10" stroke="#2e2e2e" stroke-width="1.0"/>
<text textLength="9.6" lengthAdjust="spacingAndGlyphs" x="345.10" y="283.70" font-family='"Liberation Serif", serif' font-size="7.0" font-weight="normal" fill="#222" stroke="#222" stroke-width="0.45" text-anchor="middle" style=""><tspan dy="-0.00" font-size="7.0">575</tspan></text>
<line x1="233.28" y1="275.10" x2="233.28" y2="276.30" stroke="#2e2e2e" stroke-width="1.0"/>
<line x1="265.23" y1="275.10" x2="265.23" y2="276.30" stroke="#2e2e2e" stroke-width="1.0"/>
<line x1="297.18" y1="275.10" x2="297.18" y2="276.30" stroke="#2e2e2e" stroke-width="1.0"/>
<line x1="329.12" y1="275.10" x2="329.12" y2="276.30" stroke="#2e2e2e" stroke-width="1.0"/>
<text textLength="65.7" lengthAdjust="spacingAndGlyphs" x="256.70" y="295.40" font-family='"Liberation Serif", serif' font-size="7.5" font-weight="bold" fill="#222" stroke="#222" stroke-width="0.25" text-anchor="start" style=""><tspan dy="-0.00" font-size="7.5">Binding energy (eV)</tspan></text>
<text x="211.50" y="215.40" font-family='"Liberation Serif", serif' font-size="7.5" font-weight="bold" fill="#222" stroke="#222" stroke-width="0.12" text-anchor="middle" transform="rotate(-90 211.5 215.4)" style=""><tspan dy="-0.00" font-size="7.5">Intensity (a.u.)</tspan></text>
<text x="221.80" y="168.70" font-family='"Liberation Serif", serif' font-size="6.6" font-weight="bold" fill="#222" stroke="#222" stroke-width="0.12" text-anchor="start" style=""><tspan dy="-0.00" font-size="6.6">Cr 3p</tspan></text>
<text x="262.80" y="185.00" font-family='"Liberation Serif", serif' font-size="6.6" font-weight="bold" fill="#222" stroke="#222" stroke-width="0.12" text-anchor="start" style=""><tspan dy="-0.00" font-size="6.6">2p</tspan><tspan dy="1.45" font-size="4.49">1/2</tspan></text>
<text x="324.80" y="168.50" font-family='"Liberation Serif", serif' font-size="6.6" font-weight="bold" fill="#222" stroke="#222" stroke-width="0.12" text-anchor="start" style=""><tspan dy="-0.00" font-size="6.6">2p</tspan><tspan dy="1.45" font-size="4.49">3/2</tspan></text>
<text x="343.30" y="204.30" font-family='"Liberation Serif", serif' font-size="7.0" font-weight="bold" fill="#3f95dc" stroke="#3f95dc" stroke-width="0.05" text-anchor="start" style=""><tspan dy="-0.00" font-size="7.0">Cr</tspan><tspan dy="-3.50" font-size="5.60">3+</tspan></text>
<text x="299.20" y="230.30" font-family='"Liberation Serif", serif' font-size="7.0" font-weight="bold" fill="#7b7bd4" stroke="#7b7bd4" stroke-width="0.05" text-anchor="start" style=""><tspan dy="-0.00" font-size="7.0">Cr</tspan><tspan dy="-3.50" font-size="5.60">6+</tspan></text>
<text textLength="56.4" lengthAdjust="spacingAndGlyphs" x="222.30" y="261.70" font-family='"Liberation Serif", serif' font-size="7.2" font-weight="bold" fill="#222" stroke="#222" stroke-width="0.35" text-anchor="start" style=""><tspan dy="-0.00" font-size="7.2">Zn</tspan><tspan dy="1.58" font-size="3.60">1</tspan><tspan dy="-1.58" font-size="7.2">Cr</tspan><tspan dy="1.58" font-size="3.60">2</tspan><tspan dy="-1.58" font-size="7.2">-CO</tspan><tspan dy="1.58" font-size="3.60">3</tspan><tspan dy="-4.32" font-size="3.60">2-</tspan><tspan dy="2.74" font-size="7.2">-MMO</tspan></text>
<text x="374.40" y="164.00" font-family='"Liberation Serif", serif' font-size="16.5" font-weight="bold" fill="#222" stroke="#222" stroke-width="0.12" text-anchor="start" style=""><tspan dy="-0.00" font-size="16.5">(f)</tspan></text>
<path d="M400.90,229.45 L401.40,229.46 L401.90,229.48 L402.40,229.49 L402.90,229.51 L403.40,229.52 L403.90,229.54 L404.40,229.55 L404.90,229.57 L405.40,229.58 L405.90,229.60 L406.40,229.61 L406.90,229.63 L407.40,229.64 L407.90,229.65 L408.40,229.66 L408.90,229.66 L409.40,229.67 L409.90,229.67 L410.40,229.67 L410.90,229.67 L411.40,229.66 L411.90,229.65 L412.40,229.63 L412.90,229.61 L413.40,229.58 L413.90,229.55 L414.40,229.51 L414.90,229.46 L415.40,229.40 L415.90,229.34 L416.40,229.26 L416.90,229.18 L417.40,229.08 L417.90,228.97 L418.40,228.85 L418.90,228.71 L419.40,228.57 L419.90,228.40 L420.40,228.22 L420.90,228.03 L421.40,227.82 L421.90,227.59 L422.40,227.34 L422.90,227.08 L423.40,226.80 L423.90,226.50 L424.40,226.19 L424.90,225.85 L425.40,225.50 L425.90,225.14 L426.40,224.75 L426.90,224.35 L427.40,223.94 L427.90,223.52 L428.40,223.08 L428.90,222.63 L429.40,222.17 L429.90,221.70 L430.40,221.23 L430.90,220.76 L431.40,220.28 L431.90,219.81 L432.40,219.34 L432.90,218.88 L433.40,218.42 L433.90,217.98 L434.40,217.55 L434.90,217.13 L435.40,216.74 L435.90,216.37 L436.40,216.02 L436.90,215.70 L437.40,215.41 L437.90,215.15 L438.40,214.93 L438.90,214.74 L439.40,214.59 L439.90,214.47 L440.40,214.40 L440.90,214.36 L441.40,214.37 L441.90,214.42 L442.40,214.52 L442.90,214.68 L443.40,214.91 L443.90,215.21 L444.40,215.56 L444.90,215.97 L445.40,216.43 L445.90,216.94 L446.40,217.50 L446.90,218.10 L447.40,218.74 L447.90,219.41 L448.40,220.10 L448.90,220.82 L449.40,221.56 L449.90,222.30 L450.40,223.05 L450.90,223.80 L451.40,224.55 L451.90,225.29 L452.40,226.03 L452.90,226.74 L453.40,227.44 L453.90,228.12 L454.40,228.78 L454.90,229.41 L455.40,230.01 L455.90,230.59 L456.40,231.14 L456.90,231.66 L457.40,232.16 L457.90,232.63 L458.40,233.06 L458.90,233.48 L459.40,233.86 L459.90,234.22 L460.40,234.56 L460.90,234.88 L461.40,235.17 L461.90,235.45 L462.40,235.70 L462.90,235.94 L463.40,236.17 L463.90,236.38 L464.40,236.57 L464.90,236.76 L465.40,236.93 L465.90,237.10 L466.40,237.26 L466.90,237.41 L467.40,237.55 L467.90,237.69 L468.40,237.82 L468.90,237.95 L469.40,238.08 L469.90,238.20 L470.40,238.32 L470.90,238.44 L471.40,238.56 L471.90,238.67 L472.40,238.79 L472.90,238.90 L473.40,239.01 L473.90,239.13 L474.40,239.24 L474.90,239.35 L475.40,239.46 L475.90,239.57 L476.40,239.69 L476.90,239.80 L477.40,239.91 L477.90,240.02 L478.40,240.14 L478.90,240.25 L479.40,240.36 L479.90,240.48 L480.40,240.59 L480.90,240.70 L481.40,240.82 L481.90,240.94 L482.40,241.05 L482.90,241.17 L483.40,241.28 L483.90,241.40 L484.40,241.52 L484.90,241.64 L485.40,241.75 L485.90,241.87 L486.40,241.99 L486.90,242.11 L487.40,242.23 L487.90,242.35 L488.40,242.47 L488.90,242.59 L489.40,242.72 L489.90,242.84 L490.40,242.96 L490.90,243.08 L491.40,243.21 L491.90,243.33 L492.40,243.45 L492.90,243.58 L493.40,243.70 L493.90,243.83 L494.40,243.95 L494.90,244.08 L495.40,244.21 L495.90,244.33 L496.40,244.46 L496.90,244.59 L497.40,244.71 L497.90,244.84 L498.40,244.97 L498.90,245.10 L499.40,245.23 L499.90,245.36 L500.40,245.49 L500.90,245.62 L501.40,245.75 L501.90,245.88 L502.40,246.01 L502.90,246.14 L503.40,246.27 L503.90,246.40 L504.40,246.54 L504.90,246.67 L505.40,246.80 L505.90,246.94 L506.40,247.07 L506.90,247.20 L507.40,247.34 L507.90,247.47 L508.40,247.61 L508.90,247.74 L509.40,247.88 L509.90,248.02 L510.40,248.15 L510.90,248.29 L511.40,248.43 L511.90,248.56 L512.40,248.70 L512.90,248.84 L513.40,248.98 L513.90,249.12 L514.40,249.25 L514.90,249.39 L515.40,249.53 L515.90,249.67 L516.40,249.81 L516.90,249.95 L517.40,250.09 L517.90,250.23 L518.40,250.37 L518.90,250.51 L519.40,250.66 L519.90,250.80 L520.40,250.94 L520.90,251.08 L521.40,251.22 L521.90,251.37 L522.40,251.51 L522.90,251.65 L523.40,251.80 L523.90,251.94 L524.40,252.08 L524.90,252.23 L525.40,252.37 L525.90,252.52 L526.40,252.66 L526.90,252.81 L527.40,252.95 L527.90,253.10 L528.40,253.24 L528.90,253.39 L529.40,253.54 L529.90,253.68 L530.40,253.83 L530.90,253.98 L531.40,254.12 L531.90,254.27 L532.40,254.42 L532.90,254.57 L533.40,254.71 L533.90,254.86 L534.40,255.01 L534.90,255.16 L535.40,255.31 L535.90,255.46 L536.40,255.61 L536.90,255.76 L537.40,255.91 L537.90,256.05 L538.40,256.20 L538.90,256.35 L539.40,256.50 L539.90,256.66 L540.40,256.81 L540.90,256.96 L541.40,257.11 L541.90,257.26 L542.40,257.41 L542.90,257.56 L543.40,257.71 L543.90,257.86 L544.40,258.02 L544.70,258.11 L544.70,258.11 L544.40,258.02 L543.90,257.86 L543.40,257.71 L542.90,257.56 L542.40,257.41 L541.90,257.26 L541.40,257.11 L540.90,256.96 L540.40,256.81 L539.90,256.66 L539.40,256.50 L538.90,256.35 L538.40,256.20 L537.90,256.05 L537.40,255.91 L536.90,255.76 L536.40,255.61 L535.90,255.46 L535.40,255.31 L534.90,255.16 L534.40,255.01 L533.90,254.86 L533.40,254.71 L532.90,254.57 L532.40,254.42 L531.90,254.27 L531.40,254.12 L530.90,253.98 L530.40,253.83 L529.90,253.68 L529.40,253.54 L528.90,253.39 L528.40,253.24 L527.90,253.10 L527.40,252.95 L526.90,252.81 L526.40,252.66 L525.90,252.52 L525.40,252.37 L524.90,252.23 L524.40,252.08 L523.90,251.94 L523.40,251.80 L522.90,251.65 L522.40,251.51 L521.90,251.37 L521.40,251.22 L520.90,251.08 L520.40,250.94 L519.90,250.80 L519.40,250.66 L518.90,250.51 L518.40,250.37 L517.90,250.23 L517.40,250.09 L516.90,249.95 L516.40,249.81 L515.90,249.67 L515.40,249.53 L514.90,249.39 L514.40,249.25 L513.90,249.12 L513.40,248.98 L512.90,248.84 L512.40,248.70 L511.90,248.56 L511.40,248.43 L510.90,248.29 L510.40,248.15 L509.90,248.02 L509.40,247.88 L508.90,247.74 L508.40,247.61 L507.90,247.47 L507.40,247.34 L506.90,247.20 L506.40,247.07 L505.90,246.94 L505.40,246.80 L504.90,246.67 L504.40,246.54 L503.90,246.40 L503.40,246.27 L502.90,246.14 L502.40,246.01 L501.90,245.88 L501.40,245.75 L500.90,245.62 L500.40,245.49 L499.90,245.36 L499.40,245.23 L498.90,245.10 L498.40,244.97 L497.90,244.84 L497.40,244.71 L496.90,244.59 L496.40,244.46 L495.90,244.33 L495.40,244.21 L494.90,244.08 L494.40,243.95 L493.90,243.83 L493.40,243.70 L492.90,243.58 L492.40,243.45 L491.90,243.33 L491.40,243.21 L490.90,243.08 L490.40,242.96 L489.90,242.84 L489.40,242.72 L488.90,242.59 L488.40,242.47 L487.90,242.35 L487.40,242.23 L486.90,242.11 L486.40,241.99 L485.90,241.87 L485.40,241.75 L484.90,241.64 L484.40,241.52 L483.90,241.40 L483.40,241.28 L482.90,241.17 L482.40,241.05 L481.90,240.94 L481.40,240.82 L480.90,240.71 L480.40,240.59 L479.90,240.48 L479.40,240.36 L478.90,240.25 L478.40,240.14 L477.90,240.03 L477.40,239.91 L476.90,239.80 L476.40,239.69 L475.90,239.58 L475.40,239.47 L474.90,239.36 L474.40,239.25 L473.90,239.14 L473.40,239.04 L472.90,238.93 L472.40,238.82 L471.90,238.71 L471.40,238.61 L470.90,238.50 L470.40,238.40 L469.90,238.29 L469.40,238.19 L468.90,238.08 L468.40,237.98 L467.90,237.88 L467.40,237.77 L466.90,237.67 L466.40,237.57 L465.90,237.47 L465.40,237.37 L464.90,237.27 L464.40,237.17 L463.90,237.07 L463.40,236.97 L462.90,236.88 L462.40,236.78 L461.90,236.68 L461.40,236.59 L460.90,236.49 L460.40,236.39 L459.90,236.30 L459.40,236.21 L458.90,236.11 L458.40,236.02 L457.90,235.93 L457.40,235.83 L456.90,235.74 L456.40,235.65 L455.90,235.56 L455.40,235.47 L454.90,235.38 L454.40,235.29 L453.90,235.21 L453.40,235.12 L452.90,235.03 L452.40,234.94 L451.90,234.86 L451.40,234.77 L450.90,234.69 L450.40,234.60 L449.90,234.52 L449.40,234.44 L448.90,234.36 L448.40,234.27 L447.90,234.19 L447.40,234.11 L446.90,234.03 L446.40,233.95 L445.90,233.87 L445.40,233.79 L444.90,233.72 L444.40,233.64 L443.90,233.56 L443.40,233.49 L442.90,233.41 L442.40,233.34 L441.90,233.26 L441.40,233.19 L440.90,233.12 L440.40,233.04 L439.90,232.97 L439.40,232.90 L438.90,232.83 L438.40,232.76 L437.90,232.69 L437.40,232.62 L436.90,232.55 L436.40,232.49 L435.90,232.42 L435.40,232.35 L434.90,232.29 L434.40,232.22 L433.90,232.16 L433.40,232.10 L432.90,232.03 L432.40,231.97 L431.90,231.91 L431.40,231.85 L430.90,231.79 L430.40,231.73 L429.90,231.67 L429.40,231.61 L428.90,231.55 L428.40,231.50 L427.90,231.44 L427.40,231.38 L426.90,231.33 L426.40,231.27 L425.90,231.22 L425.40,231.17 L424.90,231.12 L424.40,231.06 L423.90,231.01 L423.40,230.96 L422.90,230.91 L422.40,230.87 L421.90,230.82 L421.40,230.77 L420.90,230.72 L420.40,230.68 L419.90,230.63 L419.40,230.59 L418.90,230.54 L418.40,230.50 L417.90,230.46 L417.40,230.42 L416.90,230.38 L416.40,230.34 L415.90,230.30 L415.40,230.26 L414.90,230.22 L414.40,230.18 L413.90,230.15 L413.40,230.11 L412.90,230.07 L412.40,230.04 L411.90,230.01 L411.40,229.97 L410.90,229.94 L410.40,229.91 L409.90,229.88 L409.40,229.85 L408.90,229.82 L408.40,229.79 L407.90,229.76 L407.40,229.74 L406.90,229.71 L406.40,229.69 L405.90,229.66 L405.40,229.64 L404.90,229.61 L404.40,229.59 L403.90,229.57 L403.40,229.55 L402.90,229.53 L402.40,229.51 L401.90,229.49 L401.40,229.48 L400.90,229.46 Z" fill="#dcc0ea"/>
<path d="M400.90,229.14 L401.40,229.16 L401.90,229.17 L402.40,229.19 L402.90,229.20 L403.40,229.22 L403.90,229.24 L404.40,229.26 L404.90,229.28 L405.40,229.30 L405.90,229.32 L406.40,229.34 L406.90,229.36 L407.40,229.38 L407.90,229.41 L408.40,229.43 L408.90,229.45 L409.40,229.48 L409.90,229.51 L410.40,229.53 L410.90,229.56 L411.40,229.59 L411.90,229.62 L412.40,229.65 L412.90,229.68 L413.40,229.71 L413.90,229.74 L414.40,229.77 L414.90,229.81 L415.40,229.84 L415.90,229.87 L416.40,229.91 L416.90,229.94 L417.40,229.98 L417.90,230.02 L418.40,230.06 L418.90,230.09 L419.40,230.13 L419.90,230.17 L420.40,230.21 L420.90,230.25 L421.40,230.29 L421.90,230.34 L422.40,230.38 L422.90,230.42 L423.40,230.47 L423.90,230.51 L424.40,230.55 L424.90,230.60 L425.40,230.65 L425.90,230.69 L426.40,230.74 L426.90,230.79 L427.40,230.84 L427.90,230.89 L428.40,230.93 L428.90,230.98 L429.40,231.04 L429.90,231.09 L430.40,231.14 L430.90,231.19 L431.40,231.24 L431.90,231.30 L432.40,231.35 L432.90,231.40 L433.40,231.46 L433.90,231.51 L434.40,231.57 L434.90,231.63 L435.40,231.68 L435.90,231.74 L436.40,231.80 L436.90,231.86 L437.40,231.91 L437.90,231.97 L438.40,232.03 L438.90,232.09 L439.40,232.15 L439.90,232.21 L440.40,232.27 L440.90,232.33 L441.40,232.40 L441.90,232.46 L442.40,232.52 L442.90,232.58 L443.40,232.65 L443.90,232.71 L444.40,232.77 L444.90,232.84 L445.40,232.90 L445.90,232.97 L446.40,233.03 L446.90,233.10 L447.40,233.16 L447.90,233.23 L448.40,233.29 L448.90,233.36 L449.40,233.43 L449.90,233.49 L450.40,233.56 L450.90,233.63 L451.40,233.69 L451.90,233.76 L452.40,233.83 L452.90,233.89 L453.40,233.96 L453.90,234.03 L454.40,234.10 L454.90,234.16 L455.40,234.23 L455.90,234.30 L456.40,234.37 L456.90,234.43 L457.40,234.50 L457.90,234.57 L458.40,234.63 L458.90,234.70 L459.40,234.77 L459.90,234.83 L460.40,234.90 L460.90,234.97 L461.40,235.03 L461.90,235.10 L462.40,235.16 L462.90,235.22 L463.40,235.29 L463.90,235.35 L464.40,235.41 L464.90,235.47 L465.40,235.53 L465.90,235.59 L466.40,235.65 L466.90,235.71 L467.40,235.77 L467.90,235.82 L468.40,235.88 L468.90,235.93 L469.40,235.98 L469.90,236.04 L470.40,236.08 L470.90,236.13 L471.40,236.18 L471.90,236.22 L472.40,236.26 L472.90,236.30 L473.40,236.33 L473.90,236.37 L474.40,236.40 L474.90,236.42 L475.40,236.45 L475.90,236.47 L476.40,236.48 L476.90,236.49 L477.40,236.50 L477.90,236.50 L478.40,236.49 L478.90,236.48 L479.40,236.46 L479.90,236.43 L480.40,236.40 L480.90,236.35 L481.40,236.30 L481.90,236.24 L482.40,236.17 L482.90,236.08 L483.40,235.99 L483.90,235.88 L484.40,235.76 L484.90,235.62 L485.40,235.47 L485.90,235.31 L486.40,235.12 L486.90,234.92 L487.40,234.70 L487.90,234.46 L488.40,234.20 L488.90,233.92 L489.40,233.62 L489.90,233.29 L490.40,232.95 L490.90,232.57 L491.40,232.17 L491.90,231.75 L492.40,231.30 L492.90,230.83 L493.40,230.32 L493.90,229.79 L494.40,229.24 L494.90,228.65 L495.40,228.05 L495.90,227.41 L496.40,226.75 L496.90,226.07 L497.40,225.36 L497.90,224.63 L498.40,223.89 L498.90,223.12 L499.40,222.35 L499.90,221.56 L500.40,220.77 L500.90,219.98 L501.40,219.19 L501.90,218.41 L502.40,217.65 L502.90,216.92 L503.40,216.22 L503.90,215.55 L504.40,214.94 L504.90,214.38 L505.40,213.89 L505.90,213.48 L506.40,213.15 L506.90,212.91 L507.40,212.77 L507.90,212.72 L508.40,212.78 L508.90,212.99 L509.40,213.43 L509.90,214.11 L510.40,214.99 L510.90,216.06 L511.40,217.29 L511.90,218.63 L512.40,220.07 L512.90,221.58 L513.40,223.11 L513.90,224.67 L514.40,226.21 L514.90,227.73 L515.40,229.22 L515.90,230.67 L516.40,232.06 L516.90,233.40 L517.40,234.68 L517.90,235.89 L518.40,237.05 L518.90,238.13 L519.40,239.16 L519.90,240.12 L520.40,241.03 L520.90,241.87 L521.40,242.67 L521.90,243.41 L522.40,244.10 L522.90,244.75 L523.40,245.35 L523.90,245.91 L524.40,246.44 L524.90,246.93 L525.40,247.40 L525.90,247.83 L526.40,248.25 L526.90,248.63 L527.40,249.00 L527.90,249.35 L528.40,249.68 L528.90,250.00 L529.40,250.31 L529.90,250.60 L530.40,250.88 L530.90,251.15 L531.40,251.42 L531.90,251.68 L532.40,251.92 L532.90,252.17 L533.40,252.41 L533.90,252.64 L534.40,252.87 L534.90,253.09 L535.40,253.31 L535.90,253.53 L536.40,253.74 L536.90,253.95 L537.40,254.16 L537.90,254.36 L538.40,254.57 L538.90,254.77 L539.40,254.96 L539.90,255.16 L540.40,255.35 L540.90,255.55 L541.40,255.74 L541.90,255.93 L542.40,256.12 L542.90,256.30 L543.40,256.49 L543.90,256.67 L544.40,256.86 L544.70,256.96 L544.70,258.11 L544.40,258.02 L543.90,257.86 L543.40,257.71 L542.90,257.56 L542.40,257.41 L541.90,257.26 L541.40,257.11 L540.90,256.96 L540.40,256.81 L539.90,256.66 L539.40,256.50 L538.90,256.35 L538.40,256.20 L537.90,256.05 L537.40,255.91 L536.90,255.76 L536.40,255.61 L535.90,255.46 L535.40,255.31 L534.90,255.16 L534.40,255.01 L533.90,254.86 L533.40,254.71 L532.90,254.57 L532.40,254.42 L531.90,254.27 L531.40,254.12 L530.90,253.98 L530.40,253.83 L529.90,253.68 L529.40,253.54 L528.90,253.39 L528.40,253.24 L527.90,253.10 L527.40,252.95 L526.90,252.81 L526.40,252.66 L525.90,252.52 L525.40,252.37 L524.90,252.23 L524.40,252.08 L523.90,251.94 L523.40,251.80 L522.90,251.65 L522.40,251.51 L521.90,251.37 L521.40,251.22 L520.90,251.08 L520.40,250.94 L519.90,250.80 L519.40,250.66 L518.90,250.51 L518.40,250.37 L517.90,250.23 L517.40,250.09 L516.90,249.95 L516.40,249.81 L515.90,249.67 L515.40,249.53 L514.90,249.39 L514.40,249.25 L513.90,249.12 L513.40,248.98 L512.90,248.84 L512.40,248.70 L511.90,248.56 L511.40,248.43 L510.90,248.29 L510.40,248.15 L509.90,248.02 L509.40,247.88 L508.90,247.74 L508.40,247.61 L507.90,247.47 L507.40,247.34 L506.90,247.20 L506.40,247.07 L505.90,246.94 L505.40,246.80 L504.90,246.67 L504.40,246.54 L503.90,246.40 L503.40,246.27 L502.90,246.14 L502.40,246.01 L501.90,245.88 L501.40,245.75 L500.90,245.62 L500.40,245.49 L499.90,245.36 L499.40,245.23 L498.90,245.10 L498.40,244.97 L497.90,244.84 L497.40,244.71 L496.90,244.59 L496.40,244.46 L495.90,244.33 L495.40,244.21 L494.90,244.08 L494.40,243.95 L493.90,243.83 L493.40,243.70 L492.90,243.58 L492.40,243.45 L491.90,243.33 L491.40,243.21 L490.90,243.08 L490.40,242.96 L489.90,242.84 L489.40,242.72 L488.90,242.59 L488.40,242.47 L487.90,242.35 L487.40,242.23 L486.90,242.11 L486.40,241.99 L485.90,241.87 L485.40,241.75 L484.90,241.64 L484.40,241.52 L483.90,241.40 L483.40,241.28 L482.90,241.17 L482.40,241.05 L481.90,240.94 L481.40,240.82 L480.90,240.71 L480.40,240.59 L479.90,240.48 L479.40,240.36 L478.90,240.25 L478.40,240.14 L477.90,240.03 L477.40,239.91 L476.90,239.80 L476.40,239.69 L475.90,239.58 L475.40,239.47 L474.90,239.36 L474.40,239.25 L473.90,239.14 L473.40,239.04 L472.90,238.93 L472.40,238.82 L471.90,238.71 L471.40,238.61 L470.90,238.50 L470.40,238.40 L469.90,238.29 L469.40,238.19 L468.90,238.08 L468.40,237.98 L467.90,237.88 L467.40,237.77 L466.90,237.67 L466.40,237.57 L465.90,237.47 L465.40,237.37 L464.90,237.27 L464.40,237.17 L463.90,237.07 L463.40,236.97 L462.90,236.88 L462.40,236.78 L461.90,236.68 L461.40,236.59 L460.90,236.49 L460.40,236.39 L459.90,236.30 L459.40,236.21 L458.90,236.11 L458.40,236.02 L457.90,235.93 L457.40,235.83 L456.90,235.74 L456.40,235.65 L455.90,235.56 L455.40,235.47 L454.90,235.38 L454.40,235.29 L453.90,235.21 L453.40,235.12 L452.90,235.03 L452.40,234.94 L451.90,234.86 L451.40,234.77 L450.90,234.69 L450.40,234.60 L449.90,234.52 L449.40,234.44 L448.90,234.36 L448.40,234.27 L447.90,234.19 L447.40,234.11 L446.90,234.03 L446.40,233.95 L445.90,233.87 L445.40,233.79 L444.90,233.72 L444.40,233.64 L443.90,233.56 L443.40,233.49 L442.90,233.41 L442.40,233.34 L441.90,233.26 L441.40,233.19 L440.90,233.12 L440.40,233.04 L439.90,232.97 L439.40,232.90 L438.90,232.83 L438.40,232.76 L437.90,232.69 L437.40,232.62 L436.90,232.55 L436.40,232.49 L435.90,232.42 L435.40,232.35 L434.90,232.29 L434.40,232.22 L433.90,232.16 L433.40,232.10 L432.90,232.03 L432.40,231.97 L431.90,231.91 L431.40,231.85 L430.90,231.79 L430.40,231.73 L429.90,231.67 L429.40,231.61 L428.90,231.55 L428.40,231.50 L427.90,231.44 L427.40,231.38 L426.90,231.33 L426.40,231.27 L425.90,231.22 L425.40,231.17 L424.90,231.12 L424.40,231.06 L423.90,231.01 L423.40,230.96 L422.90,230.91 L422.40,230.87 L421.90,230.82 L421.40,230.77 L420.90,230.72 L420.40,230.68 L419.90,230.63 L419.40,230.59 L418.90,230.54 L418.40,230.50 L417.90,230.46 L417.40,230.42 L416.90,230.38 L416.40,230.34 L415.90,230.30 L415.40,230.26 L414.90,230.22 L414.40,230.18 L413.90,230.15 L413.40,230.11 L412.90,230.07 L412.40,230.04 L411.90,230.01 L411.40,229.97 L410.90,229.94 L410.40,229.91 L409.90,229.88 L409.40,229.85 L408.90,229.82 L408.40,229.79 L407.90,229.76 L407.40,229.74 L406.90,229.71 L406.40,229.69 L405.90,229.66 L405.40,229.64 L404.90,229.61 L404.40,229.59 L403.90,229.57 L403.40,229.55 L402.90,229.53 L402.40,229.51 L401.90,229.49 L401.40,229.48 L400.90,229.46 Z" fill="#dcc0ea"/>
<path d="M400.90,229.46 L401.40,229.48 L401.90,229.49 L402.40,229.51 L402.90,229.53 L403.40,229.55 L403.90,229.57 L404.40,229.59 L404.90,229.61 L405.40,229.64 L405.90,229.66 L406.40,229.69 L406.90,229.71 L407.40,229.74 L407.90,229.76 L408.40,229.79 L408.90,229.82 L409.40,229.85 L409.90,229.88 L410.40,229.91 L410.90,229.94 L411.40,229.97 L411.90,230.01 L412.40,230.04 L412.90,230.07 L413.40,230.11 L413.90,230.15 L414.40,230.18 L414.90,230.22 L415.40,230.26 L415.90,230.30 L416.40,230.34 L416.90,230.38 L417.40,230.42 L417.90,230.46 L418.40,230.50 L418.90,230.54 L419.40,230.59 L419.90,230.63 L420.40,230.68 L420.90,230.72 L421.40,230.77 L421.90,230.82 L422.40,230.87 L422.90,230.91 L423.40,230.96 L423.90,231.01 L424.40,231.06 L424.90,231.12 L425.40,231.17 L425.90,231.22 L426.40,231.27 L426.90,231.33 L427.40,231.38 L427.90,231.44 L428.40,231.49 L428.90,231.55 L429.40,231.61 L429.90,231.66 L430.40,231.72 L430.90,231.78 L431.40,231.84 L431.90,231.89 L432.40,231.95 L432.90,232.00 L433.40,232.05 L433.90,232.10 L434.40,232.14 L434.90,232.17 L435.40,232.20 L435.90,232.21 L436.40,232.21 L436.90,232.20 L437.40,232.16 L437.90,232.09 L438.40,231.99 L438.90,231.85 L439.40,231.67 L439.90,231.44 L440.40,231.14 L440.90,230.77 L441.40,230.33 L441.90,229.80 L442.40,229.18 L442.90,228.45 L443.40,227.62 L443.90,226.68 L444.40,225.62 L444.90,224.45 L445.40,223.17 L445.90,221.79 L446.40,220.32 L446.90,218.76 L447.40,217.15 L447.90,215.50 L448.40,213.83 L448.90,212.17 L449.40,210.55 L449.90,209.01 L450.40,207.57 L450.90,206.26 L451.40,205.11 L451.90,204.15 L452.40,203.41 L452.90,202.89 L453.40,202.62 L453.90,202.61 L454.40,202.94 L454.90,203.65 L455.40,204.74 L455.90,206.16 L456.40,207.87 L456.90,209.81 L457.40,211.93 L457.90,214.15 L458.40,216.43 L458.90,218.71 L459.40,220.93 L459.90,223.06 L460.40,225.05 L460.90,226.90 L461.40,228.57 L461.90,230.07 L462.40,231.38 L462.90,232.53 L463.40,233.52 L463.90,234.36 L464.40,235.06 L464.90,235.66 L465.40,236.15 L465.90,236.56 L466.40,236.90 L466.90,237.18 L467.40,237.42 L467.90,237.62 L468.40,237.80 L468.90,237.96 L469.40,238.10 L469.90,238.23 L470.40,238.36 L470.90,238.48 L471.40,238.59 L471.90,238.70 L472.40,238.81 L472.90,238.92 L473.40,239.03 L473.90,239.14 L474.40,239.25 L474.90,239.36 L475.40,239.47 L475.90,239.58 L476.40,239.69 L476.90,239.80 L477.40,239.91 L477.90,240.03 L478.40,240.14 L478.90,240.25 L479.40,240.36 L479.90,240.48 L480.40,240.59 L480.90,240.71 L481.40,240.82 L481.90,240.94 L482.40,241.05 L482.90,241.17 L483.40,241.28 L483.90,241.40 L484.40,241.52 L484.90,241.64 L485.40,241.75 L485.90,241.87 L486.40,241.99 L486.90,242.11 L487.40,242.23 L487.90,242.35 L488.40,242.47 L488.90,242.59 L489.40,242.72 L489.90,242.84 L490.40,242.96 L490.90,243.08 L491.40,243.21 L491.90,243.33 L492.40,243.45 L492.90,243.58 L493.40,243.70 L493.90,243.83 L494.40,243.95 L494.90,244.08 L495.40,244.21 L495.90,244.33 L496.40,244.46 L496.90,244.59 L497.40,244.71 L497.90,244.84 L498.40,244.97 L498.90,245.10 L499.40,245.23 L499.90,245.36 L500.40,245.49 L500.90,245.62 L501.40,245.75 L501.90,245.88 L502.40,246.01 L502.90,246.14 L503.40,246.27 L503.90,246.40 L504.40,246.54 L504.90,246.67 L505.40,246.80 L505.90,246.94 L506.40,247.07 L506.90,247.20 L507.40,247.34 L507.90,247.47 L508.40,247.61 L508.90,247.74 L509.40,247.88 L509.90,248.02 L510.40,248.15 L510.90,248.29 L511.40,248.43 L511.90,248.56 L512.40,248.70 L512.90,248.84 L513.40,248.98 L513.90,249.12 L514.40,249.25 L514.90,249.39 L515.40,249.53 L515.90,249.67 L516.40,249.81 L516.90,249.95 L517.40,250.09 L517.90,250.23 L518.40,250.37 L518.90,250.51 L519.40,250.66 L519.90,250.80 L520.40,250.94 L520.90,251.08 L521.40,251.22 L521.90,251.37 L522.40,251.51 L522.90,251.65 L523.40,251.80 L523.90,251.94 L524.40,252.08 L524.90,252.23 L525.40,252.37 L525.90,252.52 L526.40,252.66 L526.90,252.81 L527.40,252.95 L527.90,253.10 L528.40,253.24 L528.90,253.39 L529.40,253.54 L529.90,253.68 L530.40,253.83 L530.90,253.98 L531.40,254.12 L531.90,254.27 L532.40,254.42 L532.90,254.57 L533.40,254.71 L533.90,254.86 L534.40,255.01 L534.90,255.16 L535.40,255.31 L535.90,255.46 L536.40,255.61 L536.90,255.76 L537.40,255.91 L537.90,256.05 L538.40,256.20 L538.90,256.35 L539.40,256.50 L539.90,256.66 L540.40,256.81 L540.90,256.96 L541.40,257.11 L541.90,257.26 L542.40,257.41 L542.90,257.56 L543.40,257.71 L543.90,257.86 L544.40,258.02 L544.70,258.11 L544.70,258.11 L544.40,258.02 L543.90,257.86 L543.40,257.71 L542.90,257.56 L542.40,257.41 L541.90,257.26 L541.40,257.11 L540.90,256.96 L540.40,256.81 L539.90,256.66 L539.40,256.50 L538.90,256.35 L538.40,256.20 L537.90,256.05 L537.40,255.91 L536.90,255.76 L536.40,255.61 L535.90,255.46 L535.40,255.31 L534.90,255.16 L534.40,255.01 L533.90,254.86 L533.40,254.71 L532.90,254.57 L532.40,254.42 L531.90,254.27 L531.40,254.12 L530.90,253.98 L530.40,253.83 L529.90,253.68 L529.40,253.54 L528.90,253.39 L528.40,253.24 L527.90,253.10 L527.40,252.95 L526.90,252.81 L526.40,252.66 L525.90,252.52 L525.40,252.37 L524.90,252.23 L524.40,252.08 L523.90,251.94 L523.40,251.80 L522.90,251.65 L522.40,251.51 L521.90,251.37 L521.40,251.22 L520.90,251.08 L520.40,250.94 L519.90,250.80 L519.40,250.66 L518.90,250.51 L518.40,250.37 L517.90,250.23 L517.40,250.09 L516.90,249.95 L516.40,249.81 L515.90,249.67 L515.40,249.53 L514.90,249.39 L514.40,249.25 L513.90,249.12 L513.40,248.98 L512.90,248.84 L512.40,248.70 L511.90,248.56 L511.40,248.43 L510.90,248.29 L510.40,248.15 L509.90,248.02 L509.40,247.88 L508.90,247.74 L508.40,247.61 L507.90,247.47 L507.40,247.34 L506.90,247.20 L506.40,247.07 L505.90,246.94 L505.40,246.80 L504.90,246.67 L504.40,246.54 L503.90,246.40 L503.40,246.27 L502.90,246.14 L502.40,246.01 L501.90,245.88 L501.40,245.75 L500.90,245.62 L500.40,245.49 L499.90,245.36 L499.40,245.23 L498.90,245.10 L498.40,244.97 L497.90,244.84 L497.40,244.71 L496.90,244.59 L496.40,244.46 L495.90,244.33 L495.40,244.21 L494.90,244.08 L494.40,243.95 L493.90,243.83 L493.40,243.70 L492.90,243.58 L492.40,243.45 L491.90,243.33 L491.40,243.21 L490.90,243.08 L490.40,242.96 L489.90,242.84 L489.40,242.72 L488.90,242.59 L488.40,242.47 L487.90,242.35 L487.40,242.23 L486.90,242.11 L486.40,241.99 L485.90,241.87 L485.40,241.75 L484.90,241.64 L484.40,241.52 L483.90,241.40 L483.40,241.28 L482.90,241.17 L482.40,241.05 L481.90,240.94 L481.40,240.82 L480.90,240.71 L480.40,240.59 L479.90,240.48 L479.40,240.36 L478.90,240.25 L478.40,240.14 L477.90,240.03 L477.40,239.91 L476.90,239.80 L476.40,239.69 L475.90,239.58 L475.40,239.47 L474.90,239.36 L474.40,239.25 L473.90,239.14 L473.40,239.04 L472.90,238.93 L472.40,238.82 L471.90,238.71 L471.40,238.61 L470.90,238.50 L470.40,238.40 L469.90,238.29 L469.40,238.19 L468.90,238.08 L468.40,237.98 L467.90,237.88 L467.40,237.77 L466.90,237.67 L466.40,237.57 L465.90,237.47 L465.40,237.37 L464.90,237.27 L464.40,237.17 L463.90,237.07 L463.40,236.97 L462.90,236.88 L462.40,236.78 L461.90,236.68 L461.40,236.59 L460.90,236.49 L460.40,236.39 L459.90,236.30 L459.40,236.21 L458.90,236.11 L458.40,236.02 L457.90,235.93 L457.40,235.83 L456.90,235.74 L456.40,235.65 L455.90,235.56 L455.40,235.47 L454.90,235.38 L454.40,235.29 L453.90,235.21 L453.40,235.12 L452.90,235.03 L452.40,234.94 L451.90,234.86 L451.40,234.77 L450.90,234.69 L450.40,234.60 L449.90,234.52 L449.40,234.44 L448.90,234.36 L448.40,234.27 L447.90,234.19 L447.40,234.11 L446.90,234.03 L446.40,233.95 L445.90,233.87 L445.40,233.79 L444.90,233.72 L444.40,233.64 L443.90,233.56 L443.40,233.49 L442.90,233.41 L442.40,233.34 L441.90,233.26 L441.40,233.19 L440.90,233.12 L440.40,233.04 L439.90,232.97 L439.40,232.90 L438.90,232.83 L438.40,232.76 L437.90,232.69 L437.40,232.62 L436.90,232.55 L436.40,232.49 L435.90,232.42 L435.40,232.35 L434.90,232.29 L434.40,232.22 L433.90,232.16 L433.40,232.10 L432.90,232.03 L432.40,231.97 L431.90,231.91 L431.40,231.85 L430.90,231.79 L430.40,231.73 L429.90,231.67 L429.40,231.61 L428.90,231.55 L428.40,231.50 L427.90,231.44 L427.40,231.38 L426.90,231.33 L426.40,231.27 L425.90,231.22 L425.40,231.17 L424.90,231.12 L424.40,231.06 L423.90,231.01 L423.40,230.96 L422.90,230.91 L422.40,230.87 L421.90,230.82 L421.40,230.77 L420.90,230.72 L420.40,230.68 L419.90,230.63 L419.40,230.59 L418.90,230.54 L418.40,230.50 L417.90,230.46 L417.40,230.42 L416.90,230.38 L416.40,230.34 L415.90,230.30 L415.40,230.26 L414.90,230.22 L414.40,230.18 L413.90,230.15 L413.40,230.11 L412.90,230.07 L412.40,230.04 L411.90,230.01 L411.40,229.97 L410.90,229.94 L410.40,229.91 L409.90,229.88 L409.40,229.85 L408.90,229.82 L408.40,229.79 L407.90,229.76 L407.40,229.74 L406.90,229.71 L406.40,229.69 L405.90,229.66 L405.40,229.64 L404.90,229.61 L404.40,229.59 L403.90,229.57 L403.40,229.55 L402.90,229.53 L402.40,229.51 L401.90,229.49 L401.40,229.48 L400.90,229.46 Z" fill="#40c8cd"/>
<path d="M400.90,229.44 L401.40,229.46 L401.90,229.48 L402.40,229.49 L402.90,229.51 L403.40,229.53 L403.90,229.55 L404.40,229.57 L404.90,229.60 L405.40,229.62 L405.90,229.64 L406.40,229.67 L406.90,229.69 L407.40,229.72 L407.90,229.74 L408.40,229.77 L408.90,229.80 L409.40,229.83 L409.90,229.86 L410.40,229.89 L410.90,229.92 L411.40,229.95 L411.90,229.98 L412.40,230.02 L412.90,230.05 L413.40,230.09 L413.90,230.12 L414.40,230.16 L414.90,230.20 L415.40,230.23 L415.90,230.27 L416.40,230.31 L416.90,230.35 L417.40,230.39 L417.90,230.43 L418.40,230.48 L418.90,230.52 L419.40,230.56 L419.90,230.61 L420.40,230.65 L420.90,230.70 L421.40,230.74 L421.90,230.79 L422.40,230.84 L422.90,230.89 L423.40,230.94 L423.90,230.99 L424.40,231.04 L424.90,231.09 L425.40,231.14 L425.90,231.19 L426.40,231.25 L426.90,231.30 L427.40,231.35 L427.90,231.41 L428.40,231.47 L428.90,231.52 L429.40,231.58 L429.90,231.64 L430.40,231.70 L430.90,231.76 L431.40,231.82 L431.90,231.88 L432.40,231.94 L432.90,232.00 L433.40,232.06 L433.90,232.12 L434.40,232.19 L434.90,232.25 L435.40,232.32 L435.90,232.38 L436.40,232.45 L436.90,232.52 L437.40,232.58 L437.90,232.65 L438.40,232.72 L438.90,232.79 L439.40,232.86 L439.90,232.93 L440.40,233.00 L440.90,233.07 L441.40,233.15 L441.90,233.22 L442.40,233.29 L442.90,233.37 L443.40,233.44 L443.90,233.52 L444.40,233.59 L444.90,233.67 L445.40,233.75 L445.90,233.83 L446.40,233.90 L446.90,233.98 L447.40,234.06 L447.90,234.14 L448.40,234.22 L448.90,234.31 L449.40,234.39 L449.90,234.47 L450.40,234.55 L450.90,234.64 L451.40,234.72 L451.90,234.81 L452.40,234.89 L452.90,234.98 L453.40,235.06 L453.90,235.15 L454.40,235.24 L454.90,235.32 L455.40,235.41 L455.90,235.50 L456.40,235.59 L456.90,235.68 L457.40,235.77 L457.90,235.86 L458.40,235.95 L458.90,236.05 L459.40,236.14 L459.90,236.23 L460.40,236.33 L460.90,236.42 L461.40,236.51 L461.90,236.61 L462.40,236.70 L462.90,236.80 L463.40,236.90 L463.90,236.99 L464.40,237.09 L464.90,237.19 L465.40,237.29 L465.90,237.39 L466.40,237.49 L466.90,237.59 L467.40,237.69 L467.90,237.79 L468.40,237.89 L468.90,237.99 L469.40,238.09 L469.90,238.19 L470.40,238.30 L470.90,238.40 L471.40,238.50 L471.90,238.61 L472.40,238.71 L472.90,238.82 L473.40,238.92 L473.90,239.03 L474.40,239.14 L474.90,239.24 L475.40,239.35 L475.90,239.46 L476.40,239.56 L476.90,239.67 L477.40,239.78 L477.90,239.89 L478.40,240.00 L478.90,240.11 L479.40,240.22 L479.90,240.33 L480.40,240.44 L480.90,240.55 L481.40,240.66 L481.90,240.77 L482.40,240.88 L482.90,241.00 L483.40,241.11 L483.90,241.22 L484.40,241.33 L484.90,241.45 L485.40,241.56 L485.90,241.67 L486.40,241.79 L486.90,241.90 L487.40,242.01 L487.90,242.13 L488.40,242.24 L488.90,242.36 L489.40,242.47 L489.90,242.58 L490.40,242.70 L490.90,242.81 L491.40,242.93 L491.90,243.04 L492.40,243.15 L492.90,243.27 L493.40,243.38 L493.90,243.49 L494.40,243.60 L494.90,243.71 L495.40,243.82 L495.90,243.92 L496.40,244.02 L496.90,244.12 L497.40,244.21 L497.90,244.30 L498.40,244.38 L498.90,244.44 L499.40,244.50 L499.90,244.54 L500.40,244.57 L500.90,244.57 L501.40,244.55 L501.90,244.49 L502.40,244.40 L502.90,244.27 L503.40,244.09 L503.90,243.85 L504.40,243.55 L504.90,243.18 L505.40,242.72 L505.90,242.16 L506.40,241.51 L506.90,240.74 L507.40,239.85 L507.90,238.83 L508.40,237.67 L508.90,236.36 L509.40,234.90 L509.90,233.29 L510.40,231.52 L510.90,229.60 L511.40,227.53 L511.90,225.32 L512.40,222.98 L512.90,220.52 L513.40,217.98 L513.90,215.36 L514.40,212.70 L514.90,210.03 L515.40,207.37 L515.90,204.77 L516.40,202.26 L516.90,199.87 L517.40,197.66 L517.90,195.65 L518.40,193.89 L518.90,192.40 L519.40,191.22 L519.90,190.37 L520.40,189.87 L520.90,189.75 L521.40,190.02 L521.90,190.74 L522.40,191.90 L522.90,193.48 L523.40,195.43 L523.90,197.72 L524.40,200.31 L524.90,203.13 L525.40,206.14 L525.90,209.29 L526.40,212.52 L526.90,215.78 L527.40,219.04 L527.90,222.24 L528.40,225.35 L528.90,228.34 L529.40,231.19 L529.90,233.88 L530.40,236.38 L530.90,238.70 L531.40,240.83 L531.90,242.77 L532.40,244.52 L532.90,246.09 L533.40,247.49 L533.90,248.74 L534.40,249.83 L534.90,250.79 L535.40,251.64 L535.90,252.37 L536.40,253.02 L536.90,253.58 L537.40,254.07 L537.90,254.50 L538.40,254.89 L538.90,255.23 L539.40,255.53 L539.90,255.81 L540.40,256.06 L540.90,256.29 L541.40,256.51 L541.90,256.72 L542.40,256.92 L542.90,257.10 L543.40,257.29 L543.90,257.47 L544.40,257.64 L544.70,257.74 L544.70,258.11 L544.40,258.02 L543.90,257.86 L543.40,257.71 L542.90,257.56 L542.40,257.41 L541.90,257.26 L541.40,257.11 L540.90,256.96 L540.40,256.81 L539.90,256.66 L539.40,256.50 L538.90,256.35 L538.40,256.20 L537.90,256.05 L537.40,255.91 L536.90,255.76 L536.40,255.61 L535.90,255.46 L535.40,255.31 L534.90,255.16 L534.40,255.01 L533.90,254.86 L533.40,254.71 L532.90,254.57 L532.40,254.42 L531.90,254.27 L531.40,254.12 L530.90,253.98 L530.40,253.83 L529.90,253.68 L529.40,253.54 L528.90,253.39 L528.40,253.24 L527.90,253.10 L527.40,252.95 L526.90,252.81 L526.40,252.66 L525.90,252.52 L525.40,252.37 L524.90,252.23 L524.40,252.08 L523.90,251.94 L523.40,251.80 L522.90,251.65 L522.40,251.51 L521.90,251.37 L521.40,251.22 L520.90,251.08 L520.40,250.94 L519.90,250.80 L519.40,250.66 L518.90,250.51 L518.40,250.37 L517.90,250.23 L517.40,250.09 L516.90,249.95 L516.40,249.81 L515.90,249.67 L515.40,249.53 L514.90,249.39 L514.40,249.25 L513.90,249.12 L513.40,248.98 L512.90,248.84 L512.40,248.70 L511.90,248.56 L511.40,248.43 L510.90,248.29 L510.40,248.15 L509.90,248.02 L509.40,247.88 L508.90,247.74 L508.40,247.61 L507.90,247.47 L507.40,247.34 L506.90,247.20 L506.40,247.07 L505.90,246.94 L505.40,246.80 L504.90,246.67 L504.40,246.54 L503.90,246.40 L503.40,246.27 L502.90,246.14 L502.40,246.01 L501.90,245.88 L501.40,245.75 L500.90,245.62 L500.40,245.49 L499.90,245.36 L499.40,245.23 L498.90,245.10 L498.40,244.97 L497.90,244.84 L497.40,244.71 L496.90,244.59 L496.40,244.46 L495.90,244.33 L495.40,244.21 L494.90,244.08 L494.40,243.95 L493.90,243.83 L493.40,243.70 L492.90,243.58 L492.40,243.45 L491.90,243.33 L491.40,243.21 L490.90,243.08 L490.40,242.96 L489.90,242.84 L489.40,242.72 L488.90,242.59 L488.40,242.47 L487.90,242.35 L487.40,242.23 L486.90,242.11 L486.40,241.99 L485.90,241.87 L485.40,241.75 L484.90,241.64 L484.40,241.52 L483.90,241.40 L483.40,241.28 L482.90,241.17 L482.40,241.05 L481.90,240.94 L481.40,240.82 L480.90,240.71 L480.40,240.59 L479.90,240.48 L479.40,240.36 L478.90,240.25 L478.40,240.14 L477.90,240.03 L477.40,239.91 L476.90,239.80 L476.40,239.69 L475.90,239.58 L475.40,239.47 L474.90,239.36 L474.40,239.25 L473.90,239.14 L473.40,239.04 L472.90,238.93 L472.40,238.82 L471.90,238.71 L471.40,238.61 L470.90,238.50 L470.40,238.40 L469.90,238.29 L469.40,238.19 L468.90,238.08 L468.40,237.98 L467.90,237.88 L467.40,237.77 L466.90,237.67 L466.40,237.57 L465.90,237.47 L465.40,237.37 L464.90,237.27 L464.40,237.17 L463.90,237.07 L463.40,236.97 L462.90,236.88 L462.40,236.78 L461.90,236.68 L461.40,236.59 L460.90,236.49 L460.40,236.39 L459.90,236.30 L459.40,236.21 L458.90,236.11 L458.40,236.02 L457.90,235.93 L457.40,235.83 L456.90,235.74 L456.40,235.65 L455.90,235.56 L455.40,235.47 L454.90,235.38 L454.40,235.29 L453.90,235.21 L453.40,235.12 L452.90,235.03 L452.40,234.94 L451.90,234.86 L451.40,234.77 L450.90,234.69 L450.40,234.60 L449.90,234.52 L449.40,234.44 L448.90,234.36 L448.40,234.27 L447.90,234.19 L447.40,234.11 L446.90,234.03 L446.40,233.95 L445.90,233.87 L445.40,233.79 L444.90,233.72 L444.40,233.64 L443.90,233.56 L443.40,233.49 L442.90,233.41 L442.40,233.34 L441.90,233.26 L441.40,233.19 L440.90,233.12 L440.40,233.04 L439.90,232.97 L439.40,232.90 L438.90,232.83 L438.40,232.76 L437.90,232.69 L437.40,232.62 L436.90,232.55 L436.40,232.49 L435.90,232.42 L435.40,232.35 L434.90,232.29 L434.40,232.22 L433.90,232.16 L433.40,232.10 L432.90,232.03 L432.40,231.97 L431.90,231.91 L431.40,231.85 L430.90,231.79 L430.40,231.73 L429.90,231.67 L429.40,231.61 L428.90,231.55 L428.40,231.50 L427.90,231.44 L427.40,231.38 L426.90,231.33 L426.40,231.27 L425.90,231.22 L425.40,231.17 L424.90,231.12 L424.40,231.06 L423.90,231.01 L423.40,230.96 L422.90,230.91 L422.40,230.87 L421.90,230.82 L421.40,230.77 L420.90,230.72 L420.40,230.68 L419.90,230.63 L419.40,230.59 L418.90,230.54 L418.40,230.50 L417.90,230.46 L417.40,230.42 L416.90,230.38 L416.40,230.34 L415.90,230.30 L415.40,230.26 L414.90,230.22 L414.40,230.18 L413.90,230.15 L413.40,230.11 L412.90,230.07 L412.40,230.04 L411.90,230.01 L411.40,229.97 L410.90,229.94 L410.40,229.91 L409.90,229.88 L409.40,229.85 L408.90,229.82 L408.40,229.79 L407.90,229.76 L407.40,229.74 L406.90,229.71 L406.40,229.69 L405.90,229.66 L405.40,229.64 L404.90,229.61 L404.40,229.59 L403.90,229.57 L403.40,229.55 L402.90,229.53 L402.40,229.51 L401.90,229.49 L401.40,229.48 L400.90,229.46 Z" fill="#40c8cd"/>
<polyline points="400.90,229.46 401.40,229.48 401.90,229.49 402.40,229.51 402.90,229.53 403.40,229.55 403.90,229.57 404.40,229.59 404.90,229.61 405.40,229.64 405.90,229.66 406.40,229.69 406.90,229.71 407.40,229.74 407.90,229.76 408.40,229.79 408.90,229.82 409.40,229.85 409.90,229.88 410.40,229.91 410.90,229.94 411.40,229.97 411.90,230.01 412.40,230.04 412.90,230.07 413.40,230.11 413.90,230.15 414.40,230.18 414.90,230.22 415.40,230.26 415.90,230.30 416.40,230.34 416.90,230.38 417.40,230.42 417.90,230.46 418.40,230.50 418.90,230.54 419.40,230.59 419.90,230.63 420.40,230.68 420.90,230.72 421.40,230.77 421.90,230.82 422.40,230.87 422.90,230.91 423.40,230.96 423.90,231.01 424.40,231.06 424.90,231.12 425.40,231.17 425.90,231.22 426.40,231.27 426.90,231.33 427.40,231.38 427.90,231.44 428.40,231.49 428.90,231.55 429.40,231.61 429.90,231.66 430.40,231.72 430.90,231.78 431.40,231.84 431.90,231.89 432.40,231.95 432.90,232.00 433.40,232.05 433.90,232.10 434.40,232.14 434.90,232.17 435.40,232.20 435.90,232.21 436.40,232.21 436.90,232.20 437.40,232.16 437.90,232.09 438.40,231.99 438.90,231.85 439.40,231.67 439.90,231.44 440.40,231.14 440.90,230.77 441.40,230.33 441.90,229.80 442.40,229.18 442.90,228.45 443.40,227.62 443.90,226.68 444.40,225.62 444.90,224.45 445.40,223.17 445.90,221.79 446.40,220.32 446.90,218.76 447.40,217.15 447.90,215.50 448.40,213.83 448.90,212.17 449.40,210.55 449.90,209.01 450.40,207.57 450.90,206.26 451.40,205.11 451.90,204.15 452.40,203.41 452.90,202.89 453.40,202.62 453.90,202.61 454.40,202.94 454.90,203.65 455.40,204.74 455.90,206.16 456.40,207.87 456.90,209.81 457.40,211.93 457.90,214.15 458.40,216.43 458.90,218.71 459.40,220.93 459.90,223.06 460.40,225.05 460.90,226.90 461.40,228.57 461.90,230.07 462.40,231.38 462.90,232.53 463.40,233.52 463.90,234.36 464.40,235.06 464.90,235.66 465.40,236.15 465.90,236.56 466.40,236.90 466.90,237.18 467.40,237.42 467.90,237.62 468.40,237.80 468.90,237.96 469.40,238.10 469.90,238.23 470.40,238.36 470.90,238.48 471.40,238.59 471.90,238.70 472.40,238.81 472.90,238.92 473.40,239.03 473.90,239.14 474.40,239.25 474.90,239.36 475.40,239.47 475.90,239.58 476.40,239.69 476.90,239.80 477.40,239.91 477.90,240.03 478.40,240.14 478.90,240.25 479.40,240.36 479.90,240.48 480.40,240.59 480.90,240.71 481.40,240.82 481.90,240.94 482.40,241.05 482.90,241.17 483.40,241.28 483.90,241.40 484.40,241.52 484.90,241.64 485.40,241.75 485.90,241.87 486.40,241.99 486.90,242.11 487.40,242.23 487.90,242.35 488.40,242.47 488.90,242.59 489.40,242.72 489.90,242.84 490.40,242.96 490.90,243.08 491.40,243.21 491.90,243.33 492.40,243.45 492.90,243.58 493.40,243.70 493.90,243.83 494.40,243.95 494.90,244.08 495.40,244.21 495.90,244.33 496.40,244.46 496.90,244.59 497.40,244.71 497.90,244.84 498.40,244.97 498.90,245.10 499.40,245.23 499.90,245.36 500.40,245.49 500.90,245.62 501.40,245.75 501.90,245.88 502.40,246.01 502.90,246.14 503.40,246.27 503.90,246.40 504.40,246.54 504.90,246.67 505.40,246.80 505.90,246.94 506.40,247.07 506.90,247.20 507.40,247.34 507.90,247.47 508.40,247.61 508.90,247.74 509.40,247.88 509.90,248.02 510.40,248.15 510.90,248.29 511.40,248.43 511.90,248.56 512.40,248.70 512.90,248.84 513.40,248.98 513.90,249.12 514.40,249.25 514.90,249.39 515.40,249.53 515.90,249.67 516.40,249.81 516.90,249.95 517.40,250.09 517.90,250.23 518.40,250.37 518.90,250.51 519.40,250.66 519.90,250.80 520.40,250.94 520.90,251.08 521.40,251.22 521.90,251.37 522.40,251.51 522.90,251.65 523.40,251.80 523.90,251.94 524.40,252.08 524.90,252.23 525.40,252.37 525.90,252.52 526.40,252.66 526.90,252.81 527.40,252.95 527.90,253.10 528.40,253.24 528.90,253.39 529.40,253.54 529.90,253.68 530.40,253.83 530.90,253.98 531.40,254.12 531.90,254.27 532.40,254.42 532.90,254.57 533.40,254.71 533.90,254.86 534.40,255.01 534.90,255.16 535.40,255.31 535.90,255.46 536.40,255.61 536.90,255.76 537.40,255.91 537.90,256.05 538.40,256.20 538.90,256.35 539.40,256.50 539.90,256.66 540.40,256.81 540.90,256.96 541.40,257.11 541.90,257.26 542.40,257.41 542.90,257.56 543.40,257.71 543.90,257.86 544.40,258.02 544.70,258.11" fill="none" stroke="#3a7cc8" stroke-width="0.9" stroke-linejoin="round" stroke-linecap="round" />
<polyline points="400.90,229.44 401.40,229.46 401.90,229.48 402.40,229.49 402.90,229.51 403.40,229.53 403.90,229.55 404.40,229.57 404.90,229.60 405.40,229.62 405.90,229.64 406.40,229.67 406.90,229.69 407.40,229.72 407.90,229.74 408.40,229.77 408.90,229.80 409.40,229.83 409.90,229.86 410.40,229.89 410.90,229.92 411.40,229.95 411.90,229.98 412.40,230.02 412.90,230.05 413.40,230.09 413.90,230.12 414.40,230.16 414.90,230.20 415.40,230.23 415.90,230.27 416.40,230.31 416.90,230.35 417.40,230.39 417.90,230.43 418.40,230.48 418.90,230.52 419.40,230.56 419.90,230.61 420.40,230.65 420.90,230.70 421.40,230.74 421.90,230.79 422.40,230.84 422.90,230.89 423.40,230.94 423.90,230.99 424.40,231.04 424.90,231.09 425.40,231.14 425.90,231.19 426.40,231.25 426.90,231.30 427.40,231.35 427.90,231.41 428.40,231.47 428.90,231.52 429.40,231.58 429.90,231.64 430.40,231.70 430.90,231.76 431.40,231.82 431.90,231.88 432.40,231.94 432.90,232.00 433.40,232.06 433.90,232.12 434.40,232.19 434.90,232.25 435.40,232.32 435.90,232.38 436.40,232.45 436.90,232.52 437.40,232.58 437.90,232.65 438.40,232.72 438.90,232.79 439.40,232.86 439.90,232.93 440.40,233.00 440.90,233.07 441.40,233.15 441.90,233.22 442.40,233.29 442.90,233.37 443.40,233.44 443.90,233.52 444.40,233.59 444.90,233.67 445.40,233.75 445.90,233.83 446.40,233.90 446.90,233.98 447.40,234.06 447.90,234.14 448.40,234.22 448.90,234.31 449.40,234.39 449.90,234.47 450.40,234.55 450.90,234.64 451.40,234.72 451.90,234.81 452.40,234.89 452.90,234.98 453.40,235.06 453.90,235.15 454.40,235.24 454.90,235.32 455.40,235.41 455.90,235.50 456.40,235.59 456.90,235.68 457.40,235.77 457.90,235.86 458.40,235.95 458.90,236.05 459.40,236.14 459.90,236.23 460.40,236.33 460.90,236.42 461.40,236.51 461.90,236.61 462.40,236.70 462.90,236.80 463.40,236.90 463.90,236.99 464.40,237.09 464.90,237.19 465.40,237.29 465.90,237.39 466.40,237.49 466.90,237.59 467.40,237.69 467.90,237.79 468.40,237.89 468.90,237.99 469.40,238.09 469.90,238.19 470.40,238.30 470.90,238.40 471.40,238.50 471.90,238.61 472.40,238.71 472.90,238.82 473.40,238.92 473.90,239.03 474.40,239.14 474.90,239.24 475.40,239.35 475.90,239.46 476.40,239.56 476.90,239.67 477.40,239.78 477.90,239.89 478.40,240.00 478.90,240.11 479.40,240.22 479.90,240.33 480.40,240.44 480.90,240.55 481.40,240.66 481.90,240.77 482.40,240.88 482.90,241.00 483.40,241.11 483.90,241.22 484.40,241.33 484.90,241.45 485.40,241.56 485.90,241.67 486.40,241.79 486.90,241.90 487.40,242.01 487.90,242.13 488.40,242.24 488.90,242.36 489.40,242.47 489.90,242.58 490.40,242.70 490.90,242.81 491.40,242.93 491.90,243.04 492.40,243.15 492.90,243.27 493.40,243.38 493.90,243.49 494.40,243.60 494.90,243.71 495.40,243.82 495.90,243.92 496.40,244.02 496.90,244.12 497.40,244.21 497.90,244.30 498.40,244.38 498.90,244.44 499.40,244.50 499.90,244.54 500.40,244.57 500.90,244.57 501.40,244.55 501.90,244.49 502.40,244.40 502.90,244.27 503.40,244.09 503.90,243.85 504.40,243.55 504.90,243.18 505.40,242.72 505.90,242.16 506.40,241.51 506.90,240.74 507.40,239.85 507.90,238.83 508.40,237.67 508.90,236.36 509.40,234.90 509.90,233.29 510.40,231.52 510.90,229.60 511.40,227.53 511.90,225.32 512.40,222.98 512.90,220.52 513.40,217.98 513.90,215.36 514.40,212.70 514.90,210.03 515.40,207.37 515.90,204.77 516.40,202.26 516.90,199.87 517.40,197.66 517.90,195.65 518.40,193.89 518.90,192.40 519.40,191.22 519.90,190.37 520.40,189.87 520.90,189.75 521.40,190.02 521.90,190.74 522.40,191.90 522.90,193.48 523.40,195.43 523.90,197.72 524.40,200.31 524.90,203.13 525.40,206.14 525.90,209.29 526.40,212.52 526.90,215.78 527.40,219.04 527.90,222.24 528.40,225.35 528.90,228.34 529.40,231.19 529.90,233.88 530.40,236.38 530.90,238.70 531.40,240.83 531.90,242.77 532.40,244.52 532.90,246.09 533.40,247.49 533.90,248.74 534.40,249.83 534.90,250.79 535.40,251.64 535.90,252.37 536.40,253.02 536.90,253.58 537.40,254.07 537.90,254.50 538.40,254.89 538.90,255.23 539.40,255.53 539.90,255.81 540.40,256.06 540.90,256.29 541.40,256.51 541.90,256.72 542.40,256.92 542.90,257.10 543.40,257.29 543.90,257.47 544.40,257.64 544.70,257.74" fill="none" stroke="#3a7cc8" stroke-width="0.9" stroke-linejoin="round" stroke-linecap="round" />
<linearGradient id="g7" gradientUnits="userSpaceOnUse" x1="0" y1="218.7" x2="0" y2="258.1"><stop offset="0" stop-color="#9aa3d6"/><stop offset="1" stop-color="#7579c0"/></linearGradient>
<path d="M400.90,229.46 L401.40,229.48 L401.90,229.49 L402.40,229.51 L402.90,229.53 L403.40,229.55 L403.90,229.57 L404.40,229.59 L404.90,229.61 L405.40,229.64 L405.90,229.66 L406.40,229.69 L406.90,229.71 L407.40,229.74 L407.90,229.76 L408.40,229.79 L408.90,229.82 L409.40,229.85 L409.90,229.88 L410.40,229.91 L410.90,229.94 L411.40,229.97 L411.90,230.01 L412.40,230.04 L412.90,230.07 L413.40,230.11 L413.90,230.15 L414.40,230.18 L414.90,230.22 L415.40,230.26 L415.90,230.30 L416.40,230.34 L416.90,230.38 L417.40,230.42 L417.90,230.46 L418.40,230.50 L418.90,230.54 L419.40,230.59 L419.90,230.63 L420.40,230.68 L420.90,230.72 L421.40,230.77 L421.90,230.82 L422.40,230.87 L422.90,230.91 L423.40,230.96 L423.90,231.01 L424.40,231.06 L424.90,231.12 L425.40,231.17 L425.90,231.22 L426.40,231.27 L426.90,231.33 L427.40,231.38 L427.90,231.44 L428.40,231.49 L428.90,231.55 L429.40,231.61 L429.90,231.66 L430.40,231.72 L430.90,231.78 L431.40,231.84 L431.90,231.89 L432.40,231.95 L432.90,232.00 L433.40,232.05 L433.90,232.10 L434.40,232.14 L434.90,232.17 L435.40,232.20 L435.90,232.21 L436.40,232.21 L436.90,232.20 L437.40,232.16 L437.90,232.09 L438.40,231.99 L438.90,231.85 L439.40,231.67 L439.90,231.44 L440.40,231.14 L440.90,230.77 L441.40,230.33 L441.90,229.80 L442.40,229.18 L442.90,228.45 L443.40,227.62 L443.90,226.68 L444.40,225.62 L444.90,224.45 L445.40,223.17 L445.90,221.79 L446.40,220.32 L446.90,218.76 L447.40,218.74 L447.90,219.41 L448.40,220.10 L448.90,220.82 L449.40,221.56 L449.90,222.30 L450.40,223.05 L450.90,223.80 L451.40,224.55 L451.90,225.29 L452.40,226.03 L452.90,226.74 L453.40,227.44 L453.90,228.12 L454.40,228.78 L454.90,229.41 L455.40,230.01 L455.90,230.59 L456.40,231.14 L456.90,231.66 L457.40,232.16 L457.90,232.63 L458.40,233.06 L458.90,233.48 L459.40,233.86 L459.90,234.22 L460.40,234.56 L460.90,234.88 L461.40,235.17 L461.90,235.45 L462.40,235.70 L462.90,235.94 L463.40,236.17 L463.90,236.38 L464.40,236.57 L464.90,236.76 L465.40,236.93 L465.90,237.10 L466.40,237.26 L466.90,237.41 L467.40,237.55 L467.90,237.69 L468.40,237.82 L468.90,237.96 L469.40,238.10 L469.90,238.23 L470.40,238.36 L470.90,238.48 L471.40,238.59 L471.90,238.70 L472.40,238.81 L472.90,238.92 L473.40,239.03 L473.90,239.14 L474.40,239.25 L474.90,239.36 L475.40,239.47 L475.90,239.58 L476.40,239.69 L476.90,239.80 L477.40,239.91 L477.90,240.03 L478.40,240.14 L478.90,240.25 L479.40,240.36 L479.90,240.48 L480.40,240.59 L480.90,240.71 L481.40,240.82 L481.90,240.94 L482.40,241.05 L482.90,241.17 L483.40,241.28 L483.90,241.40 L484.40,241.52 L484.90,241.64 L485.40,241.75 L485.90,241.87 L486.40,241.99 L486.90,242.11 L487.40,242.23 L487.90,242.35 L488.40,242.47 L488.90,242.59 L489.40,242.72 L489.90,242.84 L490.40,242.96 L490.90,243.08 L491.40,243.21 L491.90,243.33 L492.40,243.45 L492.90,243.58 L493.40,243.70 L493.90,243.83 L494.40,243.95 L494.90,244.08 L495.40,244.21 L495.90,244.33 L496.40,244.46 L496.90,244.59 L497.40,244.71 L497.90,244.84 L498.40,244.97 L498.90,245.10 L499.40,245.23 L499.90,245.36 L500.40,245.49 L500.90,245.62 L501.40,245.75 L501.90,245.88 L502.40,246.01 L502.90,246.14 L503.40,246.27 L503.90,246.40 L504.40,246.54 L504.90,246.67 L505.40,246.80 L505.90,246.94 L506.40,247.07 L506.90,247.20 L507.40,247.34 L507.90,247.47 L508.40,247.61 L508.90,247.74 L509.40,247.88 L509.90,248.02 L510.40,248.15 L510.90,248.29 L511.40,248.43 L511.90,248.56 L512.40,248.70 L512.90,248.84 L513.40,248.98 L513.90,249.12 L514.40,249.25 L514.90,249.39 L515.40,249.53 L515.90,249.67 L516.40,249.81 L516.90,249.95 L517.40,250.09 L517.90,250.23 L518.40,250.37 L518.90,250.51 L519.40,250.66 L519.90,250.80 L520.40,250.94 L520.90,251.08 L521.40,251.22 L521.90,251.37 L522.40,251.51 L522.90,251.65 L523.40,251.80 L523.90,251.94 L524.40,252.08 L524.90,252.23 L525.40,252.37 L525.90,252.52 L526.40,252.66 L526.90,252.81 L527.40,252.95 L527.90,253.10 L528.40,253.24 L528.90,253.39 L529.40,253.54 L529.90,253.68 L530.40,253.83 L530.90,253.98 L531.40,254.12 L531.90,254.27 L532.40,254.42 L532.90,254.57 L533.40,254.71 L533.90,254.86 L534.40,255.01 L534.90,255.16 L535.40,255.31 L535.90,255.46 L536.40,255.61 L536.90,255.76 L537.40,255.91 L537.90,256.05 L538.40,256.20 L538.90,256.35 L539.40,256.50 L539.90,256.66 L540.40,256.81 L540.90,256.96 L541.40,257.11 L541.90,257.26 L542.40,257.41 L542.90,257.56 L543.40,257.71 L543.90,257.86 L544.40,258.02 L544.70,258.11 L544.70,258.11 L544.40,258.02 L543.90,257.86 L543.40,257.71 L542.90,257.56 L542.40,257.41 L541.90,257.26 L541.40,257.11 L540.90,256.96 L540.40,256.81 L539.90,256.66 L539.40,256.50 L538.90,256.35 L538.40,256.20 L537.90,256.05 L537.40,255.91 L536.90,255.76 L536.40,255.61 L535.90,255.46 L535.40,255.31 L534.90,255.16 L534.40,255.01 L533.90,254.86 L533.40,254.71 L532.90,254.57 L532.40,254.42 L531.90,254.27 L531.40,254.12 L530.90,253.98 L530.40,253.83 L529.90,253.68 L529.40,253.54 L528.90,253.39 L528.40,253.24 L527.90,253.10 L527.40,252.95 L526.90,252.81 L526.40,252.66 L525.90,252.52 L525.40,252.37 L524.90,252.23 L524.40,252.08 L523.90,251.94 L523.40,251.80 L522.90,251.65 L522.40,251.51 L521.90,251.37 L521.40,251.22 L520.90,251.08 L520.40,250.94 L519.90,250.80 L519.40,250.66 L518.90,250.51 L518.40,250.37 L517.90,250.23 L517.40,250.09 L516.90,249.95 L516.40,249.81 L515.90,249.67 L515.40,249.53 L514.90,249.39 L514.40,249.25 L513.90,249.12 L513.40,248.98 L512.90,248.84 L512.40,248.70 L511.90,248.56 L511.40,248.43 L510.90,248.29 L510.40,248.15 L509.90,248.02 L509.40,247.88 L508.90,247.74 L508.40,247.61 L507.90,247.47 L507.40,247.34 L506.90,247.20 L506.40,247.07 L505.90,246.94 L505.40,246.80 L504.90,246.67 L504.40,246.54 L503.90,246.40 L503.40,246.27 L502.90,246.14 L502.40,246.01 L501.90,245.88 L501.40,245.75 L500.90,245.62 L500.40,245.49 L499.90,245.36 L499.40,245.23 L498.90,245.10 L498.40,244.97 L497.90,244.84 L497.40,244.71 L496.90,244.59 L496.40,244.46 L495.90,244.33 L495.40,244.21 L494.90,244.08 L494.40,243.95 L493.90,243.83 L493.40,243.70 L492.90,243.58 L492.40,243.45 L491.90,243.33 L491.40,243.21 L490.90,243.08 L490.40,242.96 L489.90,242.84 L489.40,242.72 L488.90,242.59 L488.40,242.47 L487.90,242.35 L487.40,242.23 L486.90,242.11 L486.40,241.99 L485.90,241.87 L485.40,241.75 L484.90,241.64 L484.40,241.52 L483.90,241.40 L483.40,241.28 L482.90,241.17 L482.40,241.05 L481.90,240.94 L481.40,240.82 L480.90,240.71 L480.40,240.59 L479.90,240.48 L479.40,240.36 L478.90,240.25 L478.40,240.14 L477.90,240.03 L477.40,239.91 L476.90,239.80 L476.40,239.69 L475.90,239.58 L475.40,239.47 L474.90,239.36 L474.40,239.25 L473.90,239.14 L473.40,239.04 L472.90,238.93 L472.40,238.82 L471.90,238.71 L471.40,238.61 L470.90,238.50 L470.40,238.40 L469.90,238.29 L469.40,238.19 L468.90,238.08 L468.40,237.98 L467.90,237.88 L467.40,237.77 L466.90,237.67 L466.40,237.57 L465.90,237.47 L465.40,237.37 L464.90,237.27 L464.40,237.17 L463.90,237.07 L463.40,236.97 L462.90,236.88 L462.40,236.78 L461.90,236.68 L461.40,236.59 L460.90,236.49 L460.40,236.39 L459.90,236.30 L459.40,236.21 L458.90,236.11 L458.40,236.02 L457.90,235.93 L457.40,235.83 L456.90,235.74 L456.40,235.65 L455.90,235.56 L455.40,235.47 L454.90,235.38 L454.40,235.29 L453.90,235.21 L453.40,235.12 L452.90,235.03 L452.40,234.94 L451.90,234.86 L451.40,234.77 L450.90,234.69 L450.40,234.60 L449.90,234.52 L449.40,234.44 L448.90,234.36 L448.40,234.27 L447.90,234.19 L447.40,234.11 L446.90,234.03 L446.40,233.95 L445.90,233.87 L445.40,233.79 L444.90,233.72 L444.40,233.64 L443.90,233.56 L443.40,233.49 L442.90,233.41 L442.40,233.34 L441.90,233.26 L441.40,233.19 L440.90,233.12 L440.40,233.04 L439.90,232.97 L439.40,232.90 L438.90,232.83 L438.40,232.76 L437.90,232.69 L437.40,232.62 L436.90,232.55 L436.40,232.49 L435.90,232.42 L435.40,232.35 L434.90,232.29 L434.40,232.22 L433.90,232.16 L433.40,232.10 L432.90,232.03 L432.40,231.97 L431.90,231.91 L431.40,231.85 L430.90,231.79 L430.40,231.73 L429.90,231.67 L429.40,231.61 L428.90,231.55 L428.40,231.50 L427.90,231.44 L427.40,231.38 L426.90,231.33 L426.40,231.27 L425.90,231.22 L425.40,231.17 L424.90,231.12 L424.40,231.06 L423.90,231.01 L423.40,230.96 L422.90,230.91 L422.40,230.87 L421.90,230.82 L421.40,230.77 L420.90,230.72 L420.40,230.68 L419.90,230.63 L419.40,230.59 L418.90,230.54 L418.40,230.50 L417.90,230.46 L417.40,230.42 L416.90,230.38 L416.40,230.34 L415.90,230.30 L415.40,230.26 L414.90,230.22 L414.40,230.18 L413.90,230.15 L413.40,230.11 L412.90,230.07 L412.40,230.04 L411.90,230.01 L411.40,229.97 L410.90,229.94 L410.40,229.91 L409.90,229.88 L409.40,229.85 L408.90,229.82 L408.40,229.79 L407.90,229.76 L407.40,229.74 L406.90,229.71 L406.40,229.69 L405.90,229.66 L405.40,229.64 L404.90,229.61 L404.40,229.59 L403.90,229.57 L403.40,229.55 L402.90,229.53 L402.40,229.51 L401.90,229.49 L401.40,229.48 L400.90,229.46 Z" fill="url(#g7)"/>
<linearGradient id="g8" gradientUnits="userSpaceOnUse" x1="0" y1="229.5" x2="0" y2="258.1"><stop offset="0" stop-color="#9aa3d6"/><stop offset="1" stop-color="#7579c0"/></linearGradient>
<path d="M400.90,229.46 L401.40,229.48 L401.90,229.49 L402.40,229.51 L402.90,229.53 L403.40,229.55 L403.90,229.57 L404.40,229.59 L404.90,229.61 L405.40,229.64 L405.90,229.66 L406.40,229.69 L406.90,229.71 L407.40,229.74 L407.90,229.76 L408.40,229.79 L408.90,229.82 L409.40,229.85 L409.90,229.88 L410.40,229.91 L410.90,229.94 L411.40,229.97 L411.90,230.01 L412.40,230.04 L412.90,230.07 L413.40,230.11 L413.90,230.15 L414.40,230.18 L414.90,230.22 L415.40,230.26 L415.90,230.30 L416.40,230.34 L416.90,230.38 L417.40,230.42 L417.90,230.46 L418.40,230.50 L418.90,230.54 L419.40,230.59 L419.90,230.63 L420.40,230.68 L420.90,230.72 L421.40,230.77 L421.90,230.82 L422.40,230.87 L422.90,230.91 L423.40,230.96 L423.90,231.01 L424.40,231.06 L424.90,231.12 L425.40,231.17 L425.90,231.22 L426.40,231.27 L426.90,231.33 L427.40,231.38 L427.90,231.44 L428.40,231.49 L428.90,231.55 L429.40,231.61 L429.90,231.66 L430.40,231.72 L430.90,231.78 L431.40,231.84 L431.90,231.89 L432.40,231.95 L432.90,232.00 L433.40,232.05 L433.90,232.10 L434.40,232.14 L434.90,232.17 L435.40,232.20 L435.90,232.21 L436.40,232.21 L436.90,232.20 L437.40,232.16 L437.90,232.09 L438.40,232.03 L438.90,232.09 L439.40,232.15 L439.90,232.21 L440.40,232.27 L440.90,232.33 L441.40,232.40 L441.90,232.46 L442.40,232.52 L442.90,232.58 L443.40,232.65 L443.90,232.71 L444.40,232.77 L444.90,232.84 L445.40,232.90 L445.90,232.97 L446.40,233.03 L446.90,233.10 L447.40,233.16 L447.90,233.23 L448.40,233.29 L448.90,233.36 L449.40,233.43 L449.90,233.49 L450.40,233.56 L450.90,233.63 L451.40,233.69 L451.90,233.76 L452.40,233.83 L452.90,233.89 L453.40,233.96 L453.90,234.03 L454.40,234.10 L454.90,234.16 L455.40,234.23 L455.90,234.30 L456.40,234.37 L456.90,234.43 L457.40,234.50 L457.90,234.57 L458.40,234.63 L458.90,234.70 L459.40,234.77 L459.90,234.83 L460.40,234.90 L460.90,234.97 L461.40,235.03 L461.90,235.10 L462.40,235.16 L462.90,235.22 L463.40,235.29 L463.90,235.35 L464.40,235.41 L464.90,235.66 L465.40,236.15 L465.90,236.56 L466.40,236.90 L466.90,237.18 L467.40,237.42 L467.90,237.62 L468.40,237.80 L468.90,237.96 L469.40,238.10 L469.90,238.23 L470.40,238.36 L470.90,238.48 L471.40,238.59 L471.90,238.70 L472.40,238.81 L472.90,238.92 L473.40,239.03 L473.90,239.14 L474.40,239.25 L474.90,239.36 L475.40,239.47 L475.90,239.58 L476.40,239.69 L476.90,239.80 L477.40,239.91 L477.90,240.03 L478.40,240.14 L478.90,240.25 L479.40,240.36 L479.90,240.48 L480.40,240.59 L480.90,240.71 L481.40,240.82 L481.90,240.94 L482.40,241.05 L482.90,241.17 L483.40,241.28 L483.90,241.40 L484.40,241.52 L484.90,241.64 L485.40,241.75 L485.90,241.87 L486.40,241.99 L486.90,242.11 L487.40,242.23 L487.90,242.35 L488.40,242.47 L488.90,242.59 L489.40,242.72 L489.90,242.84 L490.40,242.96 L490.90,243.08 L491.40,243.21 L491.90,243.33 L492.40,243.45 L492.90,243.58 L493.40,243.70 L493.90,243.83 L494.40,243.95 L494.90,244.08 L495.40,244.21 L495.90,244.33 L496.40,244.46 L496.90,244.59 L497.40,244.71 L497.90,244.84 L498.40,244.97 L498.90,245.10 L499.40,245.23 L499.90,245.36 L500.40,245.49 L500.90,245.62 L501.40,245.75 L501.90,245.88 L502.40,246.01 L502.90,246.14 L503.40,246.27 L503.90,246.40 L504.40,246.54 L504.90,246.67 L505.40,246.80 L505.90,246.94 L506.40,247.07 L506.90,247.20 L507.40,247.34 L507.90,247.47 L508.40,247.61 L508.90,247.74 L509.40,247.88 L509.90,248.02 L510.40,248.15 L510.90,248.29 L511.40,248.43 L511.90,248.56 L512.40,248.70 L512.90,248.84 L513.40,248.98 L513.90,249.12 L514.40,249.25 L514.90,249.39 L515.40,249.53 L515.90,249.67 L516.40,249.81 L516.90,249.95 L517.40,250.09 L517.90,250.23 L518.40,250.37 L518.90,250.51 L519.40,250.66 L519.90,250.80 L520.40,250.94 L520.90,251.08 L521.40,251.22 L521.90,251.37 L522.40,251.51 L522.90,251.65 L523.40,251.80 L523.90,251.94 L524.40,252.08 L524.90,252.23 L525.40,252.37 L525.90,252.52 L526.40,252.66 L526.90,252.81 L527.40,252.95 L527.90,253.10 L528.40,253.24 L528.90,253.39 L529.40,253.54 L529.90,253.68 L530.40,253.83 L530.90,253.98 L531.40,254.12 L531.90,254.27 L532.40,254.42 L532.90,254.57 L533.40,254.71 L533.90,254.86 L534.40,255.01 L534.90,255.16 L535.40,255.31 L535.90,255.46 L536.40,255.61 L536.90,255.76 L537.40,255.91 L537.90,256.05 L538.40,256.20 L538.90,256.35 L539.40,256.50 L539.90,256.66 L540.40,256.81 L540.90,256.96 L541.40,257.11 L541.90,257.26 L542.40,257.41 L542.90,257.56 L543.40,257.71 L543.90,257.86 L544.40,258.02 L544.70,258.11 L544.70,258.11 L544.40,258.02 L543.90,257.86 L543.40,257.71 L542.90,257.56 L542.40,257.41 L541.90,257.26 L541.40,257.11 L540.90,256.96 L540.40,256.81 L539.90,256.66 L539.40,256.50 L538.90,256.35 L538.40,256.20 L537.90,256.05 L537.40,255.91 L536.90,255.76 L536.40,255.61 L535.90,255.46 L535.40,255.31 L534.90,255.16 L534.40,255.01 L533.90,254.86 L533.40,254.71 L532.90,254.57 L532.40,254.42 L531.90,254.27 L531.40,254.12 L530.90,253.98 L530.40,253.83 L529.90,253.68 L529.40,253.54 L528.90,253.39 L528.40,253.24 L527.90,253.10 L527.40,252.95 L526.90,252.81 L526.40,252.66 L525.90,252.52 L525.40,252.37 L524.90,252.23 L524.40,252.08 L523.90,251.94 L523.40,251.80 L522.90,251.65 L522.40,251.51 L521.90,251.37 L521.40,251.22 L520.90,251.08 L520.40,250.94 L519.90,250.80 L519.40,250.66 L518.90,250.51 L518.40,250.37 L517.90,250.23 L517.40,250.09 L516.90,249.95 L516.40,249.81 L515.90,249.67 L515.40,249.53 L514.90,249.39 L514.40,249.25 L513.90,249.12 L513.40,248.98 L512.90,248.84 L512.40,248.70 L511.90,248.56 L511.40,248.43 L510.90,248.29 L510.40,248.15 L509.90,248.02 L509.40,247.88 L508.90,247.74 L508.40,247.61 L507.90,247.47 L507.40,247.34 L506.90,247.20 L506.40,247.07 L505.90,246.94 L505.40,246.80 L504.90,246.67 L504.40,246.54 L503.90,246.40 L503.40,246.27 L502.90,246.14 L502.40,246.01 L501.90,245.88 L501.40,245.75 L500.90,245.62 L500.40,245.49 L499.90,245.36 L499.40,245.23 L498.90,245.10 L498.40,244.97 L497.90,244.84 L497.40,244.71 L496.90,244.59 L496.40,244.46 L495.90,244.33 L495.40,244.21 L494.90,244.08 L494.40,243.95 L493.90,243.83 L493.40,243.70 L492.90,243.58 L492.40,243.45 L491.90,243.33 L491.40,243.21 L490.90,243.08 L490.40,242.96 L489.90,242.84 L489.40,242.72 L488.90,242.59 L488.40,242.47 L487.90,242.35 L487.40,242.23 L486.90,242.11 L486.40,241.99 L485.90,241.87 L485.40,241.75 L484.90,241.64 L484.40,241.52 L483.90,241.40 L483.40,241.28 L482.90,241.17 L482.40,241.05 L481.90,240.94 L481.40,240.82 L480.90,240.71 L480.40,240.59 L479.90,240.48 L479.40,240.36 L478.90,240.25 L478.40,240.14 L477.90,240.03 L477.40,239.91 L476.90,239.80 L476.40,239.69 L475.90,239.58 L475.40,239.47 L474.90,239.36 L474.40,239.25 L473.90,239.14 L473.40,239.04 L472.90,238.93 L472.40,238.82 L471.90,238.71 L471.40,238.61 L470.90,238.50 L470.40,238.40 L469.90,238.29 L469.40,238.19 L468.90,238.08 L468.40,237.98 L467.90,237.88 L467.40,237.77 L466.90,237.67 L466.40,237.57 L465.90,237.47 L465.40,237.37 L464.90,237.27 L464.40,237.17 L463.90,237.07 L463.40,236.97 L462.90,236.88 L462.40,236.78 L461.90,236.68 L461.40,236.59 L460.90,236.49 L460.40,236.39 L459.90,236.30 L459.40,236.21 L458.90,236.11 L458.40,236.02 L457.90,235.93 L457.40,235.83 L456.90,235.74 L456.40,235.65 L455.90,235.56 L455.40,235.47 L454.90,235.38 L454.40,235.29 L453.90,235.21 L453.40,235.12 L452.90,235.03 L452.40,234.94 L451.90,234.86 L451.40,234.77 L450.90,234.69 L450.40,234.60 L449.90,234.52 L449.40,234.44 L448.90,234.36 L448.40,234.27 L447.90,234.19 L447.40,234.11 L446.90,234.03 L446.40,233.95 L445.90,233.87 L445.40,233.79 L444.90,233.72 L444.40,233.64 L443.90,233.56 L443.40,233.49 L442.90,233.41 L442.40,233.34 L441.90,233.26 L441.40,233.19 L440.90,233.12 L440.40,233.04 L439.90,232.97 L439.40,232.90 L438.90,232.83 L438.40,232.76 L437.90,232.69 L437.40,232.62 L436.90,232.55 L436.40,232.49 L435.90,232.42 L435.40,232.35 L434.90,232.29 L434.40,232.22 L433.90,232.16 L433.40,232.10 L432.90,232.03 L432.40,231.97 L431.90,231.91 L431.40,231.85 L430.90,231.79 L430.40,231.73 L429.90,231.67 L429.40,231.61 L428.90,231.55 L428.40,231.50 L427.90,231.44 L427.40,231.38 L426.90,231.33 L426.40,231.27 L425.90,231.22 L425.40,231.17 L424.90,231.12 L424.40,231.06 L423.90,231.01 L423.40,230.96 L422.90,230.91 L422.40,230.87 L421.90,230.82 L421.40,230.77 L420.90,230.72 L420.40,230.68 L419.90,230.63 L419.40,230.59 L418.90,230.54 L418.40,230.50 L417.90,230.46 L417.40,230.42 L416.90,230.38 L416.40,230.34 L415.90,230.30 L415.40,230.26 L414.90,230.22 L414.40,230.18 L413.90,230.15 L413.40,230.11 L412.90,230.07 L412.40,230.04 L411.90,230.01 L411.40,229.97 L410.90,229.94 L410.40,229.91 L409.90,229.88 L409.40,229.85 L408.90,229.82 L408.40,229.79 L407.90,229.76 L407.40,229.74 L406.90,229.71 L406.40,229.69 L405.90,229.66 L405.40,229.64 L404.90,229.61 L404.40,229.59 L403.90,229.57 L403.40,229.55 L402.90,229.53 L402.40,229.51 L401.90,229.49 L401.40,229.48 L400.90,229.46 Z" fill="url(#g8)"/>
<linearGradient id="g9" gradientUnits="userSpaceOnUse" x1="0" y1="221.6" x2="0" y2="258.1"><stop offset="0" stop-color="#9aa3d6"/><stop offset="1" stop-color="#7579c0"/></linearGradient>
<path d="M400.90,229.44 L401.40,229.46 L401.90,229.48 L402.40,229.49 L402.90,229.51 L403.40,229.53 L403.90,229.55 L404.40,229.57 L404.90,229.60 L405.40,229.62 L405.90,229.64 L406.40,229.67 L406.90,229.69 L407.40,229.72 L407.90,229.74 L408.40,229.77 L408.90,229.80 L409.40,229.83 L409.90,229.86 L410.40,229.89 L410.90,229.92 L411.40,229.95 L411.90,229.98 L412.40,230.02 L412.90,230.05 L413.40,230.09 L413.90,230.12 L414.40,230.16 L414.90,230.20 L415.40,230.23 L415.90,230.27 L416.40,230.31 L416.90,230.35 L417.40,230.39 L417.90,230.43 L418.40,230.48 L418.90,230.52 L419.40,230.56 L419.90,230.61 L420.40,230.65 L420.90,230.70 L421.40,230.74 L421.90,230.79 L422.40,230.84 L422.90,230.89 L423.40,230.94 L423.90,230.99 L424.40,231.04 L424.90,231.09 L425.40,231.14 L425.90,231.19 L426.40,231.25 L426.90,231.30 L427.40,231.35 L427.90,231.41 L428.40,231.47 L428.90,231.52 L429.40,231.58 L429.90,231.64 L430.40,231.70 L430.90,231.76 L431.40,231.82 L431.90,231.88 L432.40,231.94 L432.90,232.00 L433.40,232.06 L433.90,232.12 L434.40,232.19 L434.90,232.25 L435.40,232.32 L435.90,232.38 L436.40,232.45 L436.90,232.52 L437.40,232.58 L437.90,232.65 L438.40,232.72 L438.90,232.79 L439.40,232.86 L439.90,232.93 L440.40,233.00 L440.90,233.07 L441.40,233.15 L441.90,233.22 L442.40,233.29 L442.90,233.37 L443.40,233.44 L443.90,233.52 L444.40,233.59 L444.90,233.67 L445.40,233.75 L445.90,233.83 L446.40,233.90 L446.90,233.98 L447.40,234.06 L447.90,234.14 L448.40,234.22 L448.90,234.31 L449.40,234.39 L449.90,234.47 L450.40,234.55 L450.90,234.64 L451.40,234.72 L451.90,234.81 L452.40,234.89 L452.90,234.98 L453.40,235.06 L453.90,235.15 L454.40,235.24 L454.90,235.32 L455.40,235.41 L455.90,235.50 L456.40,235.59 L456.90,235.68 L457.40,235.77 L457.90,235.86 L458.40,235.95 L458.90,236.05 L459.40,236.14 L459.90,236.23 L460.40,236.33 L460.90,236.42 L461.40,236.51 L461.90,236.61 L462.40,236.70 L462.90,236.80 L463.40,236.90 L463.90,236.99 L464.40,237.09 L464.90,237.19 L465.40,237.29 L465.90,237.39 L466.40,237.49 L466.90,237.59 L467.40,237.69 L467.90,237.79 L468.40,237.89 L468.90,237.99 L469.40,238.09 L469.90,238.19 L470.40,238.30 L470.90,238.40 L471.40,238.50 L471.90,238.61 L472.40,238.71 L472.90,238.82 L473.40,238.92 L473.90,239.03 L474.40,239.14 L474.90,239.24 L475.40,239.35 L475.90,239.46 L476.40,239.56 L476.90,239.67 L477.40,239.78 L477.90,239.89 L478.40,240.00 L478.90,240.11 L479.40,240.22 L479.90,240.33 L480.40,240.44 L480.90,240.55 L481.40,240.66 L481.90,240.77 L482.40,240.88 L482.90,241.00 L483.40,241.11 L483.90,241.22 L484.40,241.33 L484.90,241.45 L485.40,241.56 L485.90,241.67 L486.40,241.79 L486.90,241.90 L487.40,242.01 L487.90,242.13 L488.40,242.24 L488.90,242.36 L489.40,242.47 L489.90,242.58 L490.40,242.70 L490.90,242.81 L491.40,242.93 L491.90,243.04 L492.40,243.15 L492.90,243.27 L493.40,243.38 L493.90,243.49 L494.40,243.60 L494.90,243.71 L495.40,243.82 L495.90,243.92 L496.40,244.02 L496.90,244.12 L497.40,244.21 L497.90,244.30 L498.40,244.38 L498.90,244.44 L499.40,244.50 L499.90,244.54 L500.40,244.57 L500.90,244.57 L501.40,244.55 L501.90,244.49 L502.40,244.40 L502.90,244.27 L503.40,244.09 L503.90,243.85 L504.40,243.55 L504.90,243.18 L505.40,242.72 L505.90,242.16 L506.40,241.51 L506.90,240.74 L507.40,239.85 L507.90,238.83 L508.40,237.67 L508.90,236.36 L509.40,234.90 L509.90,233.29 L510.40,231.52 L510.90,229.60 L511.40,227.53 L511.90,225.32 L512.40,222.98 L512.90,221.58 L513.40,223.11 L513.90,224.67 L514.40,226.21 L514.90,227.73 L515.40,229.22 L515.90,230.67 L516.40,232.06 L516.90,233.40 L517.40,234.68 L517.90,235.89 L518.40,237.05 L518.90,238.13 L519.40,239.16 L519.90,240.12 L520.40,241.03 L520.90,241.87 L521.40,242.67 L521.90,243.41 L522.40,244.10 L522.90,244.75 L523.40,245.35 L523.90,245.91 L524.40,246.44 L524.90,246.93 L525.40,247.40 L525.90,247.83 L526.40,248.25 L526.90,248.63 L527.40,249.00 L527.90,249.35 L528.40,249.68 L528.90,250.00 L529.40,250.31 L529.90,250.60 L530.40,250.88 L530.90,251.15 L531.40,251.42 L531.90,251.68 L532.40,251.92 L532.90,252.17 L533.40,252.41 L533.90,252.64 L534.40,252.87 L534.90,253.09 L535.40,253.31 L535.90,253.53 L536.40,253.74 L536.90,253.95 L537.40,254.16 L537.90,254.50 L538.40,254.89 L538.90,255.23 L539.40,255.53 L539.90,255.81 L540.40,256.06 L540.90,256.29 L541.40,256.51 L541.90,256.72 L542.40,256.92 L542.90,257.10 L543.40,257.29 L543.90,257.47 L544.40,257.64 L544.70,257.74 L544.70,258.11 L544.40,258.02 L543.90,257.86 L543.40,257.71 L542.90,257.56 L542.40,257.41 L541.90,257.26 L541.40,257.11 L540.90,256.96 L540.40,256.81 L539.90,256.66 L539.40,256.50 L538.90,256.35 L538.40,256.20 L537.90,256.05 L537.40,255.91 L536.90,255.76 L536.40,255.61 L535.90,255.46 L535.40,255.31 L534.90,255.16 L534.40,255.01 L533.90,254.86 L533.40,254.71 L532.90,254.57 L532.40,254.42 L531.90,254.27 L531.40,254.12 L530.90,253.98 L530.40,253.83 L529.90,253.68 L529.40,253.54 L528.90,253.39 L528.40,253.24 L527.90,253.10 L527.40,252.95 L526.90,252.81 L526.40,252.66 L525.90,252.52 L525.40,252.37 L524.90,252.23 L524.40,252.08 L523.90,251.94 L523.40,251.80 L522.90,251.65 L522.40,251.51 L521.90,251.37 L521.40,251.22 L520.90,251.08 L520.40,250.94 L519.90,250.80 L519.40,250.66 L518.90,250.51 L518.40,250.37 L517.90,250.23 L517.40,250.09 L516.90,249.95 L516.40,249.81 L515.90,249.67 L515.40,249.53 L514.90,249.39 L514.40,249.25 L513.90,249.12 L513.40,248.98 L512.90,248.84 L512.40,248.70 L511.90,248.56 L511.40,248.43 L510.90,248.29 L510.40,248.15 L509.90,248.02 L509.40,247.88 L508.90,247.74 L508.40,247.61 L507.90,247.47 L507.40,247.34 L506.90,247.20 L506.40,247.07 L505.90,246.94 L505.40,246.80 L504.90,246.67 L504.40,246.54 L503.90,246.40 L503.40,246.27 L502.90,246.14 L502.40,246.01 L501.90,245.88 L501.40,245.75 L500.90,245.62 L500.40,245.49 L499.90,245.36 L499.40,245.23 L498.90,245.10 L498.40,244.97 L497.90,244.84 L497.40,244.71 L496.90,244.59 L496.40,244.46 L495.90,244.33 L495.40,244.21 L494.90,244.08 L494.40,243.95 L493.90,243.83 L493.40,243.70 L492.90,243.58 L492.40,243.45 L491.90,243.33 L491.40,243.21 L490.90,243.08 L490.40,242.96 L489.90,242.84 L489.40,242.72 L488.90,242.59 L488.40,242.47 L487.90,242.35 L487.40,242.23 L486.90,242.11 L486.40,241.99 L485.90,241.87 L485.40,241.75 L484.90,241.64 L484.40,241.52 L483.90,241.40 L483.40,241.28 L482.90,241.17 L482.40,241.05 L481.90,240.94 L481.40,240.82 L480.90,240.71 L480.40,240.59 L479.90,240.48 L479.40,240.36 L478.90,240.25 L478.40,240.14 L477.90,240.03 L477.40,239.91 L476.90,239.80 L476.40,239.69 L475.90,239.58 L475.40,239.47 L474.90,239.36 L474.40,239.25 L473.90,239.14 L473.40,239.04 L472.90,238.93 L472.40,238.82 L471.90,238.71 L471.40,238.61 L470.90,238.50 L470.40,238.40 L469.90,238.29 L469.40,238.19 L468.90,238.08 L468.40,237.98 L467.90,237.88 L467.40,237.77 L466.90,237.67 L466.40,237.57 L465.90,237.47 L465.40,237.37 L464.90,237.27 L464.40,237.17 L463.90,237.07 L463.40,236.97 L462.90,236.88 L462.40,236.78 L461.90,236.68 L461.40,236.59 L460.90,236.49 L460.40,236.39 L459.90,236.30 L459.40,236.21 L458.90,236.11 L458.40,236.02 L457.90,235.93 L457.40,235.83 L456.90,235.74 L456.40,235.65 L455.90,235.56 L455.40,235.47 L454.90,235.38 L454.40,235.29 L453.90,235.21 L453.40,235.12 L452.90,235.03 L452.40,234.94 L451.90,234.86 L451.40,234.77 L450.90,234.69 L450.40,234.60 L449.90,234.52 L449.40,234.44 L448.90,234.36 L448.40,234.27 L447.90,234.19 L447.40,234.11 L446.90,234.03 L446.40,233.95 L445.90,233.87 L445.40,233.79 L444.90,233.72 L444.40,233.64 L443.90,233.56 L443.40,233.49 L442.90,233.41 L442.40,233.34 L441.90,233.26 L441.40,233.19 L440.90,233.12 L440.40,233.04 L439.90,232.97 L439.40,232.90 L438.90,232.83 L438.40,232.76 L437.90,232.69 L437.40,232.62 L436.90,232.55 L436.40,232.49 L435.90,232.42 L435.40,232.35 L434.90,232.29 L434.40,232.22 L433.90,232.16 L433.40,232.10 L432.90,232.03 L432.40,231.97 L431.90,231.91 L431.40,231.85 L430.90,231.79 L430.40,231.73 L429.90,231.67 L429.40,231.61 L428.90,231.55 L428.40,231.50 L427.90,231.44 L427.40,231.38 L426.90,231.33 L426.40,231.27 L425.90,231.22 L425.40,231.17 L424.90,231.12 L424.40,231.06 L423.90,231.01 L423.40,230.96 L422.90,230.91 L422.40,230.87 L421.90,230.82 L421.40,230.77 L420.90,230.72 L420.40,230.68 L419.90,230.63 L419.40,230.59 L418.90,230.54 L418.40,230.50 L417.90,230.46 L417.40,230.42 L416.90,230.38 L416.40,230.34 L415.90,230.30 L415.40,230.26 L414.90,230.22 L414.40,230.18 L413.90,230.15 L413.40,230.11 L412.90,230.07 L412.40,230.04 L411.90,230.01 L411.40,229.97 L410.90,229.94 L410.40,229.91 L409.90,229.88 L409.40,229.85 L408.90,229.82 L408.40,229.79 L407.90,229.76 L407.40,229.74 L406.90,229.71 L406.40,229.69 L405.90,229.66 L405.40,229.64 L404.90,229.61 L404.40,229.59 L403.90,229.57 L403.40,229.55 L402.90,229.53 L402.40,229.51 L401.90,229.49 L401.40,229.48 L400.90,229.46 Z" fill="url(#g9)"/>
<linearGradient id="g10" gradientUnits="userSpaceOnUse" x1="0" y1="229.4" x2="0" y2="258.1"><stop offset="0" stop-color="#9aa3d6"/><stop offset="1" stop-color="#7579c0"/></linearGradient>
<path d="M400.90,229.45 L401.40,229.46 L401.90,229.48 L402.40,229.49 L402.90,229.51 L403.40,229.52 L403.90,229.54 L404.40,229.55 L404.90,229.57 L405.40,229.58 L405.90,229.60 L406.40,229.61 L406.90,229.63 L407.40,229.64 L407.90,229.65 L408.40,229.66 L408.90,229.66 L409.40,229.67 L409.90,229.67 L410.40,229.67 L410.90,229.67 L411.40,229.66 L411.90,229.65 L412.40,229.65 L412.90,229.68 L413.40,229.71 L413.90,229.74 L414.40,229.77 L414.90,229.81 L415.40,229.84 L415.90,229.87 L416.40,229.91 L416.90,229.94 L417.40,229.98 L417.90,230.02 L418.40,230.06 L418.90,230.09 L419.40,230.13 L419.90,230.17 L420.40,230.21 L420.90,230.25 L421.40,230.29 L421.90,230.34 L422.40,230.38 L422.90,230.42 L423.40,230.47 L423.90,230.51 L424.40,230.55 L424.90,230.60 L425.40,230.65 L425.90,230.69 L426.40,230.74 L426.90,230.79 L427.40,230.84 L427.90,230.89 L428.40,230.93 L428.90,230.98 L429.40,231.04 L429.90,231.09 L430.40,231.14 L430.90,231.19 L431.40,231.24 L431.90,231.30 L432.40,231.35 L432.90,231.40 L433.40,231.46 L433.90,231.51 L434.40,231.57 L434.90,231.63 L435.40,231.68 L435.90,231.74 L436.40,231.80 L436.90,231.86 L437.40,231.91 L437.90,231.97 L438.40,232.03 L438.90,232.09 L439.40,232.15 L439.90,232.21 L440.40,232.27 L440.90,232.33 L441.40,232.40 L441.90,232.46 L442.40,232.52 L442.90,232.58 L443.40,232.65 L443.90,232.71 L444.40,232.77 L444.90,232.84 L445.40,232.90 L445.90,232.97 L446.40,233.03 L446.90,233.10 L447.40,233.16 L447.90,233.23 L448.40,233.29 L448.90,233.36 L449.40,233.43 L449.90,233.49 L450.40,233.56 L450.90,233.63 L451.40,233.69 L451.90,233.76 L452.40,233.83 L452.90,233.89 L453.40,233.96 L453.90,234.03 L454.40,234.10 L454.90,234.16 L455.40,234.23 L455.90,234.30 L456.40,234.37 L456.90,234.43 L457.40,234.50 L457.90,234.57 L458.40,234.63 L458.90,234.70 L459.40,234.77 L459.90,234.83 L460.40,234.90 L460.90,234.97 L461.40,235.17 L461.90,235.45 L462.40,235.70 L462.90,235.94 L463.40,236.17 L463.90,236.38 L464.40,236.57 L464.90,236.76 L465.40,236.93 L465.90,237.10 L466.40,237.26 L466.90,237.41 L467.40,237.55 L467.90,237.69 L468.40,237.82 L468.90,237.95 L469.40,238.08 L469.90,238.20 L470.40,238.32 L470.90,238.44 L471.40,238.56 L471.90,238.67 L472.40,238.79 L472.90,238.90 L473.40,239.01 L473.90,239.13 L474.40,239.24 L474.90,239.35 L475.40,239.46 L475.90,239.57 L476.40,239.69 L476.90,239.80 L477.40,239.91 L477.90,240.02 L478.40,240.14 L478.90,240.25 L479.40,240.36 L479.90,240.48 L480.40,240.59 L480.90,240.70 L481.40,240.82 L481.90,240.94 L482.40,241.05 L482.90,241.17 L483.40,241.28 L483.90,241.40 L484.40,241.52 L484.90,241.64 L485.40,241.75 L485.90,241.87 L486.40,241.99 L486.90,242.11 L487.40,242.23 L487.90,242.35 L488.40,242.47 L488.90,242.59 L489.40,242.72 L489.90,242.84 L490.40,242.96 L490.90,243.08 L491.40,243.21 L491.90,243.33 L492.40,243.45 L492.90,243.58 L493.40,243.70 L493.90,243.83 L494.40,243.95 L494.90,244.08 L495.40,244.21 L495.90,244.33 L496.40,244.46 L496.90,244.59 L497.40,244.71 L497.90,244.84 L498.40,244.97 L498.90,245.10 L499.40,245.23 L499.90,245.36 L500.40,245.49 L500.90,245.62 L501.40,245.75 L501.90,245.88 L502.40,246.01 L502.90,246.14 L503.40,246.27 L503.90,246.40 L504.40,246.54 L504.90,246.67 L505.40,246.80 L505.90,246.94 L506.40,247.07 L506.90,247.20 L507.40,247.34 L507.90,247.47 L508.40,247.61 L508.90,247.74 L509.40,247.88 L509.90,248.02 L510.40,248.15 L510.90,248.29 L511.40,248.43 L511.90,248.56 L512.40,248.70 L512.90,248.84 L513.40,248.98 L513.90,249.12 L514.40,249.25 L514.90,249.39 L515.40,249.53 L515.90,249.67 L516.40,249.81 L516.90,249.95 L517.40,250.09 L517.90,250.23 L518.40,250.37 L518.90,250.51 L519.40,250.66 L519.90,250.80 L520.40,250.94 L520.90,251.08 L521.40,251.22 L521.90,251.37 L522.40,251.51 L522.90,251.65 L523.40,251.80 L523.90,251.94 L524.40,252.08 L524.90,252.23 L525.40,252.37 L525.90,252.52 L526.40,252.66 L526.90,252.81 L527.40,252.95 L527.90,253.10 L528.40,253.24 L528.90,253.39 L529.40,253.54 L529.90,253.68 L530.40,253.83 L530.90,253.98 L531.40,254.12 L531.90,254.27 L532.40,254.42 L532.90,254.57 L533.40,254.71 L533.90,254.86 L534.40,255.01 L534.90,255.16 L535.40,255.31 L535.90,255.46 L536.40,255.61 L536.90,255.76 L537.40,255.91 L537.90,256.05 L538.40,256.20 L538.90,256.35 L539.40,256.50 L539.90,256.66 L540.40,256.81 L540.90,256.96 L541.40,257.11 L541.90,257.26 L542.40,257.41 L542.90,257.56 L543.40,257.71 L543.90,257.86 L544.40,258.02 L544.70,258.11 L544.70,258.11 L544.40,258.02 L543.90,257.86 L543.40,257.71 L542.90,257.56 L542.40,257.41 L541.90,257.26 L541.40,257.11 L540.90,256.96 L540.40,256.81 L539.90,256.66 L539.40,256.50 L538.90,256.35 L538.40,256.20 L537.90,256.05 L537.40,255.91 L536.90,255.76 L536.40,255.61 L535.90,255.46 L535.40,255.31 L534.90,255.16 L534.40,255.01 L533.90,254.86 L533.40,254.71 L532.90,254.57 L532.40,254.42 L531.90,254.27 L531.40,254.12 L530.90,253.98 L530.40,253.83 L529.90,253.68 L529.40,253.54 L528.90,253.39 L528.40,253.24 L527.90,253.10 L527.40,252.95 L526.90,252.81 L526.40,252.66 L525.90,252.52 L525.40,252.37 L524.90,252.23 L524.40,252.08 L523.90,251.94 L523.40,251.80 L522.90,251.65 L522.40,251.51 L521.90,251.37 L521.40,251.22 L520.90,251.08 L520.40,250.94 L519.90,250.80 L519.40,250.66 L518.90,250.51 L518.40,250.37 L517.90,250.23 L517.40,250.09 L516.90,249.95 L516.40,249.81 L515.90,249.67 L515.40,249.53 L514.90,249.39 L514.40,249.25 L513.90,249.12 L513.40,248.98 L512.90,248.84 L512.40,248.70 L511.90,248.56 L511.40,248.43 L510.90,248.29 L510.40,248.15 L509.90,248.02 L509.40,247.88 L508.90,247.74 L508.40,247.61 L507.90,247.47 L507.40,247.34 L506.90,247.20 L506.40,247.07 L505.90,246.94 L505.40,246.80 L504.90,246.67 L504.40,246.54 L503.90,246.40 L503.40,246.27 L502.90,246.14 L502.40,246.01 L501.90,245.88 L501.40,245.75 L500.90,245.62 L500.40,245.49 L499.90,245.36 L499.40,245.23 L498.90,245.10 L498.40,244.97 L497.90,244.84 L497.40,244.71 L496.90,244.59 L496.40,244.46 L495.90,244.33 L495.40,244.21 L494.90,244.08 L494.40,243.95 L493.90,243.83 L493.40,243.70 L492.90,243.58 L492.40,243.45 L491.90,243.33 L491.40,243.21 L490.90,243.08 L490.40,242.96 L489.90,242.84 L489.40,242.72 L488.90,242.59 L488.40,242.47 L487.90,242.35 L487.40,242.23 L486.90,242.11 L486.40,241.99 L485.90,241.87 L485.40,241.75 L484.90,241.64 L484.40,241.52 L483.90,241.40 L483.40,241.28 L482.90,241.17 L482.40,241.05 L481.90,240.94 L481.40,240.82 L480.90,240.71 L480.40,240.59 L479.90,240.48 L479.40,240.36 L478.90,240.25 L478.40,240.14 L477.90,240.03 L477.40,239.91 L476.90,239.80 L476.40,239.69 L475.90,239.58 L475.40,239.47 L474.90,239.36 L474.40,239.25 L473.90,239.14 L473.40,239.04 L472.90,238.93 L472.40,238.82 L471.90,238.71 L471.40,238.61 L470.90,238.50 L470.40,238.40 L469.90,238.29 L469.40,238.19 L468.90,238.08 L468.40,237.98 L467.90,237.88 L467.40,237.77 L466.90,237.67 L466.40,237.57 L465.90,237.47 L465.40,237.37 L464.90,237.27 L464.40,237.17 L463.90,237.07 L463.40,236.97 L462.90,236.88 L462.40,236.78 L461.90,236.68 L461.40,236.59 L460.90,236.49 L460.40,236.39 L459.90,236.30 L459.40,236.21 L458.90,236.11 L458.40,236.02 L457.90,235.93 L457.40,235.83 L456.90,235.74 L456.40,235.65 L455.90,235.56 L455.40,235.47 L454.90,235.38 L454.40,235.29 L453.90,235.21 L453.40,235.12 L452.90,235.03 L452.40,234.94 L451.90,234.86 L451.40,234.77 L450.90,234.69 L450.40,234.60 L449.90,234.52 L449.40,234.44 L448.90,234.36 L448.40,234.27 L447.90,234.19 L447.40,234.11 L446.90,234.03 L446.40,233.95 L445.90,233.87 L445.40,233.79 L444.90,233.72 L444.40,233.64 L443.90,233.56 L443.40,233.49 L442.90,233.41 L442.40,233.34 L441.90,233.26 L441.40,233.19 L440.90,233.12 L440.40,233.04 L439.90,232.97 L439.40,232.90 L438.90,232.83 L438.40,232.76 L437.90,232.69 L437.40,232.62 L436.90,232.55 L436.40,232.49 L435.90,232.42 L435.40,232.35 L434.90,232.29 L434.40,232.22 L433.90,232.16 L433.40,232.10 L432.90,232.03 L432.40,231.97 L431.90,231.91 L431.40,231.85 L430.90,231.79 L430.40,231.73 L429.90,231.67 L429.40,231.61 L428.90,231.55 L428.40,231.50 L427.90,231.44 L427.40,231.38 L426.90,231.33 L426.40,231.27 L425.90,231.22 L425.40,231.17 L424.90,231.12 L424.40,231.06 L423.90,231.01 L423.40,230.96 L422.90,230.91 L422.40,230.87 L421.90,230.82 L421.40,230.77 L420.90,230.72 L420.40,230.68 L419.90,230.63 L419.40,230.59 L418.90,230.54 L418.40,230.50 L417.90,230.46 L417.40,230.42 L416.90,230.38 L416.40,230.34 L415.90,230.30 L415.40,230.26 L414.90,230.22 L414.40,230.18 L413.90,230.15 L413.40,230.11 L412.90,230.07 L412.40,230.04 L411.90,230.01 L411.40,229.97 L410.90,229.94 L410.40,229.91 L409.90,229.88 L409.40,229.85 L408.90,229.82 L408.40,229.79 L407.90,229.76 L407.40,229.74 L406.90,229.71 L406.40,229.69 L405.90,229.66 L405.40,229.64 L404.90,229.61 L404.40,229.59 L403.90,229.57 L403.40,229.55 L402.90,229.53 L402.40,229.51 L401.90,229.49 L401.40,229.48 L400.90,229.46 Z" fill="url(#g10)"/>
<polyline points="400.90,229.45 401.40,229.46 401.90,229.48 402.40,229.49 402.90,229.51 403.40,229.52 403.90,229.54 404.40,229.55 404.90,229.57 405.40,229.58 405.90,229.60 406.40,229.61 406.90,229.63 407.40,229.64 407.90,229.65 408.40,229.66 408.90,229.66 409.40,229.67 409.90,229.67 410.40,229.67 410.90,229.67 411.40,229.66 411.90,229.65 412.40,229.63 412.90,229.61 413.40,229.58 413.90,229.55 414.40,229.51 414.90,229.46 415.40,229.40 415.90,229.34 416.40,229.26 416.90,229.18 417.40,229.08 417.90,228.97 418.40,228.85 418.90,228.71 419.40,228.57 419.90,228.40 420.40,228.22 420.90,228.03 421.40,227.82 421.90,227.59 422.40,227.34 422.90,227.08 423.40,226.80 423.90,226.50 424.40,226.19 424.90,225.85 425.40,225.50 425.90,225.14 426.40,224.75 426.90,224.35 427.40,223.94 427.90,223.52 428.40,223.08 428.90,222.63 429.40,222.17 429.90,221.70 430.40,221.23 430.90,220.76 431.40,220.28 431.90,219.81 432.40,219.34 432.90,218.88 433.40,218.42 433.90,217.98 434.40,217.55 434.90,217.13 435.40,216.74 435.90,216.37 436.40,216.02 436.90,215.70 437.40,215.41 437.90,215.15 438.40,214.93 438.90,214.74 439.40,214.59 439.90,214.47 440.40,214.40 440.90,214.36 441.40,214.37 441.90,214.42 442.40,214.52 442.90,214.68 443.40,214.91 443.90,215.21 444.40,215.56 444.90,215.97 445.40,216.43 445.90,216.94 446.40,217.50 446.90,218.10 447.40,218.74 447.90,219.41 448.40,220.10 448.90,220.82 449.40,221.56 449.90,222.30 450.40,223.05 450.90,223.80 451.40,224.55 451.90,225.29 452.40,226.03 452.90,226.74 453.40,227.44 453.90,228.12 454.40,228.78 454.90,229.41 455.40,230.01 455.90,230.59 456.40,231.14 456.90,231.66 457.40,232.16 457.90,232.63 458.40,233.06 458.90,233.48 459.40,233.86 459.90,234.22 460.40,234.56 460.90,234.88 461.40,235.17 461.90,235.45 462.40,235.70 462.90,235.94 463.40,236.17 463.90,236.38 464.40,236.57 464.90,236.76 465.40,236.93 465.90,237.10 466.40,237.26 466.90,237.41 467.40,237.55 467.90,237.69 468.40,237.82 468.90,237.95 469.40,238.08 469.90,238.20 470.40,238.32 470.90,238.44 471.40,238.56 471.90,238.67 472.40,238.79 472.90,238.90 473.40,239.01 473.90,239.13 474.40,239.24 474.90,239.35 475.40,239.46 475.90,239.57 476.40,239.69 476.90,239.80 477.40,239.91 477.90,240.02 478.40,240.14 478.90,240.25 479.40,240.36 479.90,240.48 480.40,240.59 480.90,240.70 481.40,240.82 481.90,240.94 482.40,241.05 482.90,241.17 483.40,241.28 483.90,241.40 484.40,241.52 484.90,241.64 485.40,241.75 485.90,241.87 486.40,241.99 486.90,242.11 487.40,242.23 487.90,242.35 488.40,242.47 488.90,242.59 489.40,242.72 489.90,242.84 490.40,242.96 490.90,243.08 491.40,243.21 491.90,243.33 492.40,243.45 492.90,243.58 493.40,243.70 493.90,243.83 494.40,243.95 494.90,244.08 495.40,244.21 495.90,244.33 496.40,244.46 496.90,244.59 497.40,244.71 497.90,244.84 498.40,244.97 498.90,245.10 499.40,245.23 499.90,245.36 500.40,245.49 500.90,245.62 501.40,245.75 501.90,245.88 502.40,246.01 502.90,246.14 503.40,246.27 503.90,246.40 504.40,246.54 504.90,246.67 505.40,246.80 505.90,246.94 506.40,247.07 506.90,247.20 507.40,247.34 507.90,247.47 508.40,247.61 508.90,247.74 509.40,247.88 509.90,248.02 510.40,248.15 510.90,248.29 511.40,248.43 511.90,248.56 512.40,248.70 512.90,248.84 513.40,248.98 513.90,249.12 514.40,249.25 514.90,249.39 515.40,249.53 515.90,249.67 516.40,249.81 516.90,249.95 517.40,250.09 517.90,250.23 518.40,250.37 518.90,250.51 519.40,250.66 519.90,250.80 520.40,250.94 520.90,251.08 521.40,251.22 521.90,251.37 522.40,251.51 522.90,251.65 523.40,251.80 523.90,251.94 524.40,252.08 524.90,252.23 525.40,252.37 525.90,252.52 526.40,252.66 526.90,252.81 527.40,252.95 527.90,253.10 528.40,253.24 528.90,253.39 529.40,253.54 529.90,253.68 530.40,253.83 530.90,253.98 531.40,254.12 531.90,254.27 532.40,254.42 532.90,254.57 533.40,254.71 533.90,254.86 534.40,255.01 534.90,255.16 535.40,255.31 535.90,255.46 536.40,255.61 536.90,255.76 537.40,255.91 537.90,256.05 538.40,256.20 538.90,256.35 539.40,256.50 539.90,256.66 540.40,256.81 540.90,256.96 541.40,257.11 541.90,257.26 542.40,257.41 542.90,257.56 543.40,257.71 543.90,257.86 544.40,258.02 544.70,258.11" fill="none" stroke="#7a6cc0" stroke-width="0.9" stroke-linejoin="round" stroke-linecap="round" />
<polyline points="400.90,229.14 401.40,229.16 401.90,229.17 402.40,229.19 402.90,229.20 403.40,229.22 403.90,229.24 404.40,229.26 404.90,229.28 405.40,229.30 405.90,229.32 406.40,229.34 406.90,229.36 407.40,229.38 407.90,229.41 408.40,229.43 408.90,229.45 409.40,229.48 409.90,229.51 410.40,229.53 410.90,229.56 411.40,229.59 411.90,229.62 412.40,229.65 412.90,229.68 413.40,229.71 413.90,229.74 414.40,229.77 414.90,229.81 415.40,229.84 415.90,229.87 416.40,229.91 416.90,229.94 417.40,229.98 417.90,230.02 418.40,230.06 418.90,230.09 419.40,230.13 419.90,230.17 420.40,230.21 420.90,230.25 421.40,230.29 421.90,230.34 422.40,230.38 422.90,230.42 423.40,230.47 423.90,230.51 424.40,230.55 424.90,230.60 425.40,230.65 425.90,230.69 426.40,230.74 426.90,230.79 427.40,230.84 427.90,230.89 428.40,230.93 428.90,230.98 429.40,231.04 429.90,231.09 430.40,231.14 430.90,231.19 431.40,231.24 431.90,231.30 432.40,231.35 432.90,231.40 433.40,231.46 433.90,231.51 434.40,231.57 434.90,231.63 435.40,231.68 435.90,231.74 436.40,231.80 436.90,231.86 437.40,231.91 437.90,231.97 438.40,232.03 438.90,232.09 439.40,232.15 439.90,232.21 440.40,232.27 440.90,232.33 441.40,232.40 441.90,232.46 442.40,232.52 442.90,232.58 443.40,232.65 443.90,232.71 444.40,232.77 444.90,232.84 445.40,232.90 445.90,232.97 446.40,233.03 446.90,233.10 447.40,233.16 447.90,233.23 448.40,233.29 448.90,233.36 449.40,233.43 449.90,233.49 450.40,233.56 450.90,233.63 451.40,233.69 451.90,233.76 452.40,233.83 452.90,233.89 453.40,233.96 453.90,234.03 454.40,234.10 454.90,234.16 455.40,234.23 455.90,234.30 456.40,234.37 456.90,234.43 457.40,234.50 457.90,234.57 458.40,234.63 458.90,234.70 459.40,234.77 459.90,234.83 460.40,234.90 460.90,234.97 461.40,235.03 461.90,235.10 462.40,235.16 462.90,235.22 463.40,235.29 463.90,235.35 464.40,235.41 464.90,235.47 465.40,235.53 465.90,235.59 466.40,235.65 466.90,235.71 467.40,235.77 467.90,235.82 468.40,235.88 468.90,235.93 469.40,235.98 469.90,236.04 470.40,236.08 470.90,236.13 471.40,236.18 471.90,236.22 472.40,236.26 472.90,236.30 473.40,236.33 473.90,236.37 474.40,236.40 474.90,236.42 475.40,236.45 475.90,236.47 476.40,236.48 476.90,236.49 477.40,236.50 477.90,236.50 478.40,236.49 478.90,236.48 479.40,236.46 479.90,236.43 480.40,236.40 480.90,236.35 481.40,236.30 481.90,236.24 482.40,236.17 482.90,236.08 483.40,235.99 483.90,235.88 484.40,235.76 484.90,235.62 485.40,235.47 485.90,235.31 486.40,235.12 486.90,234.92 487.40,234.70 487.90,234.46 488.40,234.20 488.90,233.92 489.40,233.62 489.90,233.29 490.40,232.95 490.90,232.57 491.40,232.17 491.90,231.75 492.40,231.30 492.90,230.83 493.40,230.32 493.90,229.79 494.40,229.24 494.90,228.65 495.40,228.05 495.90,227.41 496.40,226.75 496.90,226.07 497.40,225.36 497.90,224.63 498.40,223.89 498.90,223.12 499.40,222.35 499.90,221.56 500.40,220.77 500.90,219.98 501.40,219.19 501.90,218.41 502.40,217.65 502.90,216.92 503.40,216.22 503.90,215.55 504.40,214.94 504.90,214.38 505.40,213.89 505.90,213.48 506.40,213.15 506.90,212.91 507.40,212.77 507.90,212.72 508.40,212.78 508.90,212.99 509.40,213.43 509.90,214.11 510.40,214.99 510.90,216.06 511.40,217.29 511.90,218.63 512.40,220.07 512.90,221.58 513.40,223.11 513.90,224.67 514.40,226.21 514.90,227.73 515.40,229.22 515.90,230.67 516.40,232.06 516.90,233.40 517.40,234.68 517.90,235.89 518.40,237.05 518.90,238.13 519.40,239.16 519.90,240.12 520.40,241.03 520.90,241.87 521.40,242.67 521.90,243.41 522.40,244.10 522.90,244.75 523.40,245.35 523.90,245.91 524.40,246.44 524.90,246.93 525.40,247.40 525.90,247.83 526.40,248.25 526.90,248.63 527.40,249.00 527.90,249.35 528.40,249.68 528.90,250.00 529.40,250.31 529.90,250.60 530.40,250.88 530.90,251.15 531.40,251.42 531.90,251.68 532.40,251.92 532.90,252.17 533.40,252.41 533.90,252.64 534.40,252.87 534.90,253.09 535.40,253.31 535.90,253.53 536.40,253.74 536.90,253.95 537.40,254.16 537.90,254.36 538.40,254.57 538.90,254.77 539.40,254.96 539.90,255.16 540.40,255.35 540.90,255.55 541.40,255.74 541.90,255.93 542.40,256.12 542.90,256.30 543.40,256.49 543.90,256.67 544.40,256.86 544.70,256.96" fill="none" stroke="#7a6cc0" stroke-width="0.9" stroke-linejoin="round" stroke-linecap="round" />
<polyline points="400.90,229.13 401.40,229.14 401.90,229.16 402.40,229.17 402.90,229.18 403.40,229.19 403.90,229.21 404.40,229.22 404.90,229.23 405.40,229.24 405.90,229.25 406.40,229.26 406.90,229.27 407.40,229.28 407.90,229.29 408.40,229.30 408.90,229.30 409.40,229.30 409.90,229.30 410.40,229.29 410.90,229.29 411.40,229.28 411.90,229.26 412.40,229.24 412.90,229.21 413.40,229.18 413.90,229.14 414.40,229.10 414.90,229.05 415.40,228.99 415.90,228.92 416.40,228.84 416.90,228.74 417.40,228.64 417.90,228.53 418.40,228.40 418.90,228.26 419.40,228.11 419.90,227.94 420.40,227.76 420.90,227.56 421.40,227.34 421.90,227.11 422.40,226.86 422.90,226.59 423.40,226.30 423.90,226.00 424.40,225.68 424.90,225.34 425.40,224.98 425.90,224.61 426.40,224.22 426.90,223.81 427.40,223.39 427.90,222.95 428.40,222.50 428.90,222.04 429.40,221.57 429.90,221.09 430.40,220.61 430.90,220.11 431.40,219.61 431.90,219.11 432.40,218.61 432.90,218.10 433.40,217.60 433.90,217.10 434.40,216.59 434.90,216.09 435.40,215.59 435.90,215.09 436.40,214.59 436.90,214.09 437.40,213.59 437.90,213.07 438.40,212.55 438.90,212.01 439.40,211.45 439.90,210.87 440.40,210.26 440.90,209.62 441.40,208.94 441.90,208.22 442.40,207.46 442.90,206.68 443.40,205.88 443.90,205.04 444.40,204.18 444.90,203.28 445.40,202.36 445.90,201.41 446.40,200.45 446.90,199.48 447.40,198.51 447.90,197.55 448.40,196.62 448.90,195.73 449.40,194.88 449.90,194.11 450.40,193.43 450.90,192.85 451.40,192.39 451.90,192.07 452.40,191.90 452.90,191.88 453.40,192.04 453.90,192.37 454.40,192.88 454.90,193.60 455.40,194.57 455.90,195.80 456.40,197.25 456.90,198.91 457.40,200.75 457.90,202.74 458.40,204.84 458.90,207.02 459.40,209.25 459.90,211.49 460.40,213.71 460.90,215.88 461.40,217.97 461.90,219.97 462.40,221.85 462.90,223.61 463.40,225.23 463.90,226.71 464.40,228.04 464.90,229.24 465.40,230.30 465.90,231.24 466.40,232.06 466.90,232.76 467.40,233.37 467.90,233.89 468.40,234.33 468.90,234.70 469.40,235.01 469.90,235.27 470.40,235.49 470.90,235.67 471.40,235.83 471.90,235.95 472.40,236.06 472.90,236.15 473.40,236.22 473.90,236.28 474.40,236.34 474.90,236.38 475.40,236.41 475.90,236.44 476.40,236.46 476.90,236.48 477.40,236.49 477.90,236.49 478.40,236.48 478.90,236.47 479.40,236.45 479.90,236.43 480.40,236.39 480.90,236.35 481.40,236.30 481.90,236.24 482.40,236.17 482.90,236.08 483.40,235.99 483.90,235.88 484.40,235.76 484.90,235.62 485.40,235.47 485.90,235.31 486.40,235.12 486.90,234.92 487.40,234.70 487.90,234.46 488.40,234.20 488.90,233.92 489.40,233.62 489.90,233.29 490.40,232.94 490.90,232.57 491.40,232.17 491.90,231.75 492.40,231.29 492.90,230.82 493.40,230.31 493.90,229.78 494.40,229.21 494.90,228.62 495.40,228.00 495.90,227.35 496.40,226.67 496.90,225.96 497.40,225.22 497.90,224.45 498.40,223.65 498.90,222.82 499.40,221.96 499.90,221.07 500.40,220.14 500.90,219.19 501.40,218.20 501.90,217.17 502.40,216.12 502.90,215.02 503.40,213.89 503.90,212.72 504.40,211.51 504.90,210.26 505.40,208.96 505.90,207.62 506.40,206.22 506.90,204.77 507.40,203.26 507.90,201.70 508.40,200.06 508.90,198.41 509.40,196.82 509.90,195.29 510.40,193.81 510.90,192.36 511.40,190.92 511.90,189.48 512.40,188.04 512.90,186.59 513.40,185.13 513.90,183.67 514.40,182.24 514.90,180.86 515.40,179.55 515.90,178.34 516.40,177.28 516.90,176.39 517.40,175.71 517.90,175.26 518.40,175.08 518.90,175.20 519.40,175.61 519.90,176.35 520.40,177.39 520.90,178.69 521.40,180.26 521.90,182.07 522.40,184.12 522.90,186.40 523.40,188.87 523.90,191.53 524.40,194.33 524.90,197.26 525.40,200.29 525.90,203.38 526.40,206.51 526.90,209.65 527.40,212.77 527.90,215.85 528.40,218.87 528.90,221.80 529.40,224.62 529.90,227.33 530.40,229.91 530.90,232.34 531.40,234.63 531.90,236.77 532.40,238.76 532.90,240.60 533.40,242.29 533.90,243.84 534.40,245.25 534.90,246.53 535.40,247.69 535.90,248.74 536.40,249.68 536.90,250.52 537.40,251.28 537.90,251.96 538.40,252.57 538.90,253.12 539.40,253.61 539.90,254.05 540.40,254.45 540.90,254.81 541.40,255.15 541.90,255.45 542.40,255.74 542.90,256.00 543.40,256.25 543.90,256.49 544.40,256.71 544.70,256.84" fill="none" stroke="#acacac" stroke-width="1.15" stroke-linejoin="round" stroke-linecap="round" />
<polyline points="400.90,229.46 401.40,229.48 401.90,229.49 402.40,229.51 402.90,229.53 403.40,229.55 403.90,229.57 404.40,229.59 404.90,229.61 405.40,229.64 405.90,229.66 406.40,229.69 406.90,229.71 407.40,229.74 407.90,229.76 408.40,229.79 408.90,229.82 409.40,229.85 409.90,229.88 410.40,229.91 410.90,229.94 411.40,229.97 411.90,230.01 412.40,230.04 412.90,230.07 413.40,230.11 413.90,230.15 414.40,230.18 414.90,230.22 415.40,230.26 415.90,230.30 416.40,230.34 416.90,230.38 417.40,230.42 417.90,230.46 418.40,230.50 418.90,230.54 419.40,230.59 419.90,230.63 420.40,230.68 420.90,230.72 421.40,230.77 421.90,230.82 422.40,230.87 422.90,230.91 423.40,230.96 423.90,231.01 424.40,231.06 424.90,231.12 425.40,231.17 425.90,231.22 426.40,231.27 426.90,231.33 427.40,231.38 427.90,231.44 428.40,231.50 428.90,231.55 429.40,231.61 429.90,231.67 430.40,231.73 430.90,231.79 431.40,231.85 431.90,231.91 432.40,231.97 432.90,232.03 433.40,232.10 433.90,232.16 434.40,232.22 434.90,232.29 435.40,232.35 435.90,232.42 436.40,232.49 436.90,232.55 437.40,232.62 437.90,232.69 438.40,232.76 438.90,232.83 439.40,232.90 439.90,232.97 440.40,233.04 440.90,233.12 441.40,233.19 441.90,233.26 442.40,233.34 442.90,233.41 443.40,233.49 443.90,233.56 444.40,233.64 444.90,233.72 445.40,233.79 445.90,233.87 446.40,233.95 446.90,234.03 447.40,234.11 447.90,234.19 448.40,234.27 448.90,234.36 449.40,234.44 449.90,234.52 450.40,234.60 450.90,234.69 451.40,234.77 451.90,234.86 452.40,234.94 452.90,235.03 453.40,235.12 453.90,235.21 454.40,235.29 454.90,235.38 455.40,235.47 455.90,235.56 456.40,235.65 456.90,235.74 457.40,235.83 457.90,235.93 458.40,236.02 458.90,236.11 459.40,236.21 459.90,236.30 460.40,236.39 460.90,236.49 461.40,236.59 461.90,236.68 462.40,236.78 462.90,236.88 463.40,236.97 463.90,237.07 464.40,237.17 464.90,237.27 465.40,237.37 465.90,237.47 466.40,237.57 466.90,237.67 467.40,237.77 467.90,237.88 468.40,237.98 468.90,238.08 469.40,238.19 469.90,238.29 470.40,238.40 470.90,238.50 471.40,238.61 471.90,238.71 472.40,238.82 472.90,238.93 473.40,239.04 473.90,239.14 474.40,239.25 474.90,239.36 475.40,239.47 475.90,239.58 476.40,239.69 476.90,239.80 477.40,239.91 477.90,240.03 478.40,240.14 478.90,240.25 479.40,240.36 479.90,240.48 480.40,240.59 480.90,240.71 481.40,240.82 481.90,240.94 482.40,241.05 482.90,241.17 483.40,241.28 483.90,241.40 484.40,241.52 484.90,241.64 485.40,241.75 485.90,241.87 486.40,241.99 486.90,242.11 487.40,242.23 487.90,242.35 488.40,242.47 488.90,242.59 489.40,242.72 489.90,242.84 490.40,242.96 490.90,243.08 491.40,243.21 491.90,243.33 492.40,243.45 492.90,243.58 493.40,243.70 493.90,243.83 494.40,243.95 494.90,244.08 495.40,244.21 495.90,244.33 496.40,244.46 496.90,244.59 497.40,244.71 497.90,244.84 498.40,244.97 498.90,245.10 499.40,245.23 499.90,245.36 500.40,245.49 500.90,245.62 501.40,245.75 501.90,245.88 502.40,246.01 502.90,246.14 503.40,246.27 503.90,246.40 504.40,246.54 504.90,246.67 505.40,246.80 505.90,246.94 506.40,247.07 506.90,247.20 507.40,247.34 507.90,247.47 508.40,247.61 508.90,247.74 509.40,247.88 509.90,248.02 510.40,248.15 510.90,248.29 511.40,248.43 511.90,248.56 512.40,248.70 512.90,248.84 513.40,248.98 513.90,249.12 514.40,249.25 514.90,249.39 515.40,249.53 515.90,249.67 516.40,249.81 516.90,249.95 517.40,250.09 517.90,250.23 518.40,250.37 518.90,250.51 519.40,250.66 519.90,250.80 520.40,250.94 520.90,251.08 521.40,251.22 521.90,251.37 522.40,251.51 522.90,251.65 523.40,251.80 523.90,251.94 524.40,252.08 524.90,252.23 525.40,252.37 525.90,252.52 526.40,252.66 526.90,252.81 527.40,252.95 527.90,253.10 528.40,253.24 528.90,253.39 529.40,253.54 529.90,253.68 530.40,253.83 530.90,253.98 531.40,254.12 531.90,254.27 532.40,254.42 532.90,254.57 533.40,254.71 533.90,254.86 534.40,255.01 534.90,255.16 535.40,255.31 535.90,255.46 536.40,255.61 536.90,255.76 537.40,255.91 537.90,256.05 538.40,256.20 538.90,256.35 539.40,256.50 539.90,256.66 540.40,256.81 540.90,256.96 541.40,257.11 541.90,257.26 542.40,257.41 542.90,257.56 543.40,257.71 543.90,257.86 544.40,258.02 544.70,258.11" fill="none" stroke="#4a90d6" stroke-width="1.1" stroke-linejoin="round" stroke-linecap="round" />
<rect x="400.3" y="157.6" width="144.99999999999994" height="117.20000000000002" fill="none" stroke="#2e2e2e" stroke-width="1.2"/>
<line x1="400.30" y1="274.80" x2="400.30" y2="276.80" stroke="#2e2e2e" stroke-width="1.0"/>
<text textLength="9.6" lengthAdjust="spacingAndGlyphs" x="400.30" y="283.90" font-family='"Liberation Serif", serif' font-size="7.0" font-weight="normal" fill="#222" stroke="#222" stroke-width="0.45" text-anchor="middle" style=""><tspan dy="-0.00" font-size="7.0">595</tspan></text>
<line x1="434.05" y1="274.80" x2="434.05" y2="276.80" stroke="#2e2e2e" stroke-width="1.0"/>
<text textLength="9.6" lengthAdjust="spacingAndGlyphs" x="434.05" y="283.90" font-family='"Liberation Serif", serif' font-size="7.0" font-weight="normal" fill="#222" stroke="#222" stroke-width="0.45" text-anchor="middle" style=""><tspan dy="-0.00" font-size="7.0">590</tspan></text>
<line x1="467.80" y1="274.80" x2="467.80" y2="276.80" stroke="#2e2e2e" stroke-width="1.0"/>
<text textLength="9.6" lengthAdjust="spacingAndGlyphs" x="467.80" y="283.90" font-family='"Liberation Serif", serif' font-size="7.0" font-weight="normal" fill="#222" stroke="#222" stroke-width="0.45" text-anchor="middle" style=""><tspan dy="-0.00" font-size="7.0">585</tspan></text>
<line x1="501.55" y1="274.80" x2="501.55" y2="276.80" stroke="#2e2e2e" stroke-width="1.0"/>
<text textLength="9.6" lengthAdjust="spacingAndGlyphs" x="501.55" y="283.90" font-family='"Liberation Serif", serif' font-size="7.0" font-weight="normal" fill="#222" stroke="#222" stroke-width="0.45" text-anchor="middle" style=""><tspan dy="-0.00" font-size="7.0">580</tspan></text>
<line x1="535.30" y1="274.80" x2="535.30" y2="276.80" stroke="#2e2e2e" stroke-width="1.0"/>
<text textLength="9.6" lengthAdjust="spacingAndGlyphs" x="535.30" y="283.90" font-family='"Liberation Serif", serif' font-size="7.0" font-weight="normal" fill="#222" stroke="#222" stroke-width="0.45" text-anchor="middle" style=""><tspan dy="-0.00" font-size="7.0">575</tspan></text>
<line x1="417.18" y1="274.80" x2="417.18" y2="276.00" stroke="#2e2e2e" stroke-width="1.0"/>
<line x1="450.93" y1="274.80" x2="450.93" y2="276.00" stroke="#2e2e2e" stroke-width="1.0"/>
<line x1="484.68" y1="274.80" x2="484.68" y2="276.00" stroke="#2e2e2e" stroke-width="1.0"/>
<line x1="518.42" y1="274.80" x2="518.42" y2="276.00" stroke="#2e2e2e" stroke-width="1.0"/>
<text textLength="66.4" lengthAdjust="spacingAndGlyphs" x="439.60" y="295.80" font-family='"Liberation Serif", serif' font-size="7.5" font-weight="bold" fill="#222" stroke="#222" stroke-width="0.25" text-anchor="start" style=""><tspan dy="-0.00" font-size="7.5">Binding energy (eV)</tspan></text>
<text x="394.20" y="214.30" font-family='"Liberation Serif", serif' font-size="7.5" font-weight="bold" fill="#222" stroke="#222" stroke-width="0.12" text-anchor="middle" transform="rotate(-90 394.2 214.3)" style=""><tspan dy="-0.00" font-size="7.5">Intensity (a.u.)</tspan></text>
<text x="407.00" y="170.40" font-family='"Liberation Serif", serif' font-size="6.6" font-weight="bold" fill="#222" stroke="#222" stroke-width="0.12" text-anchor="start" style=""><tspan dy="-0.00" font-size="6.6">Cr 3p</tspan></text>
<text x="446.80" y="184.80" font-family='"Liberation Serif", serif' font-size="6.6" font-weight="bold" fill="#222" stroke="#222" stroke-width="0.12" text-anchor="start" style=""><tspan dy="-0.00" font-size="6.6">2p</tspan><tspan dy="1.45" font-size="4.49">1/2</tspan></text>
<text x="513.60" y="166.80" font-family='"Liberation Serif", serif' font-size="6.6" font-weight="bold" fill="#222" stroke="#222" stroke-width="0.12" text-anchor="start" style=""><tspan dy="-0.00" font-size="6.6">2p</tspan><tspan dy="1.45" font-size="4.49">3/2</tspan></text>
<text x="527.70" y="193.60" font-family='"Liberation Serif", serif' font-size="7.0" font-weight="bold" fill="#3f95dc" stroke="#3f95dc" stroke-width="0.05" text-anchor="start" style=""><tspan dy="-0.00" font-size="7.0">Cr</tspan><tspan dy="-3.50" font-size="5.60">3+</tspan></text>
<text x="486.30" y="219.40" font-family='"Liberation Serif", serif' font-size="7.0" font-weight="bold" fill="#7b7bd4" stroke="#7b7bd4" stroke-width="0.05" text-anchor="start" style=""><tspan dy="-0.00" font-size="7.0">Cr</tspan><tspan dy="-3.50" font-size="5.60">6+</tspan></text>
<text textLength="60.5" lengthAdjust="spacingAndGlyphs" x="406.30" y="260.80" font-family='"Liberation Serif", serif' font-size="7.2" font-weight="bold" fill="#222" stroke="#222" stroke-width="0.35" text-anchor="start" style=""><tspan dy="-0.00" font-size="7.2">Zn</tspan><tspan dy="1.58" font-size="3.60">1</tspan><tspan dy="-1.58" font-size="7.2">Cr</tspan><tspan dy="1.58" font-size="3.60">2</tspan><tspan dy="-1.58" font-size="7.2">-CrO</tspan><tspan dy="1.58" font-size="3.60">4</tspan><tspan dy="-4.32" font-size="3.60">2-</tspan><tspan dy="2.74" font-size="7.2">-MMO</tspan></text>
</svg>
</body></html>
